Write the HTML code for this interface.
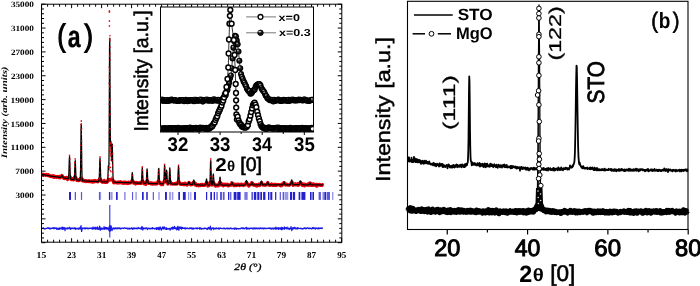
<!DOCTYPE html>
<html><head><meta charset="utf-8"><title>XRD figure</title>
<style>html,body{margin:0;padding:0;background:#fff;} svg{display:block;}</style>
</head><body>
<svg width="700" height="286" viewBox="0 0 700 286" text-rendering="geometricPrecision">
<polyline points="41.80,174.36 42.05,174.56 42.30,174.32 42.55,174.06 42.80,174.33 43.05,174.11 43.30,174.69 43.55,175.38 43.80,174.51 44.05,174.50 44.30,175.10 44.55,175.09 44.80,175.01 45.05,174.54 45.30,175.05 45.55,175.46 45.80,174.49 46.05,174.98 46.30,174.31 46.55,174.67 46.80,174.44 47.05,175.29 47.30,174.83 47.55,175.65 47.80,175.64 48.05,175.52 48.30,174.40 48.55,175.44 48.80,175.74 49.05,175.87 49.30,175.09 49.55,175.67 49.80,175.47 50.05,175.60 50.30,176.57 50.55,175.67 50.80,176.09 51.05,176.58 51.30,175.88 51.55,176.15 51.80,176.30 52.05,176.31 52.30,175.69 52.55,176.38 52.80,177.05 53.05,175.63 53.30,176.87 53.55,176.53 53.80,176.19 54.05,177.54 54.30,176.95 54.55,176.01 54.80,176.68 55.05,176.96 55.30,176.61 55.55,177.08 55.80,176.74 56.05,177.14 56.30,177.56 56.55,176.54 56.80,177.01 57.05,176.71 57.30,177.04 57.55,176.41 57.80,176.75 58.05,176.98 58.30,177.56 58.55,177.71 58.80,176.51 59.05,176.81 59.30,177.56 59.55,176.28 59.80,177.07 60.05,177.28 60.30,177.96 60.55,177.64 60.80,176.99 61.05,176.69 61.30,176.32 61.55,176.72 61.80,175.37 62.05,175.40 62.30,175.98 62.55,176.26 62.80,176.78 63.05,176.78 63.30,177.63 63.55,177.58 63.80,178.48 64.05,178.29 64.30,178.00 64.55,178.39 64.80,177.93 65.05,178.68 65.30,178.19 65.55,178.53 65.80,177.64 66.05,178.50 66.30,177.53 66.55,177.40 66.80,178.31 67.05,178.06 67.30,178.64 67.55,179.72 67.80,178.23 68.05,178.35 68.30,178.59 68.55,177.68 68.80,176.98 69.05,177.08 69.30,176.91 69.55,176.30 69.80,176.76 70.05,176.94 70.30,176.78 70.55,177.89 70.80,179.20 71.05,178.79 71.30,179.76 71.55,179.42 71.80,179.41 72.05,179.11 72.30,179.38 72.55,178.47 72.80,178.93 73.05,179.71 73.30,178.50 73.55,180.01 73.80,178.71 74.05,179.71 74.30,177.69 74.55,177.17 74.80,178.15 75.05,177.44 75.30,177.24 75.55,177.71 75.80,177.80 76.05,177.69 76.30,179.40 76.55,179.41 76.80,180.53 77.05,179.75 77.30,180.03 77.55,179.69 77.80,179.80 78.05,179.51 78.30,180.80 78.55,180.13 78.80,180.72 79.05,180.27 79.30,179.95 79.55,180.17 79.80,180.06 80.05,180.13 80.30,178.32 80.55,178.07 80.80,178.12 81.05,178.47 81.30,178.52 81.55,178.79 81.80,178.53 82.05,178.75 82.30,180.95 82.55,179.94 82.80,180.62 83.05,180.44 83.30,179.91 83.55,181.19 83.80,180.84 84.05,180.92 84.30,180.54 84.55,181.17 84.80,180.71 85.05,180.93 85.30,180.46 85.55,180.42 85.80,181.71 86.05,180.80 86.30,181.21 86.55,181.06 86.80,180.86 87.05,180.84 87.30,181.42 87.55,180.97 87.80,181.05 88.05,181.15 88.30,181.74 88.55,181.51 88.80,181.37 89.05,180.91 89.30,180.51 89.55,181.69 89.80,181.71 90.05,181.17 90.30,181.52 90.55,181.65 90.80,181.69 91.05,181.74 91.30,181.07 91.55,182.06 91.80,180.69 92.05,181.76 92.30,181.59 92.55,181.79 92.80,182.30 93.05,182.12 93.30,180.81 93.55,180.55 93.80,181.82 94.05,180.91 94.30,181.43 94.55,181.87 94.80,180.64 95.05,180.41 95.30,181.61 95.55,181.51 95.80,181.38 96.05,181.53 96.30,181.10 96.55,180.78 96.80,181.47 97.05,181.08 97.30,180.75 97.55,181.84 97.80,181.57 98.05,181.81 98.30,181.12 98.55,181.27 98.80,180.88 99.05,180.06 99.30,179.02 99.55,179.28 99.80,179.76 100.05,179.44 100.30,179.41 100.55,180.03 100.80,179.43 101.05,180.94 101.30,181.62 101.55,181.02 101.80,181.53 102.05,182.14 102.30,181.74 102.55,181.83 102.80,181.65 103.05,182.39 103.30,181.81 103.55,180.73 103.80,181.49 104.05,180.86 104.30,180.23 104.55,181.60 104.80,182.54 105.05,181.90 105.30,181.30 105.55,181.43 105.80,182.47 106.05,181.99 106.30,181.95 106.55,181.91 106.80,181.96 107.05,182.35 107.30,182.22 107.55,181.77 107.80,179.97 108.05,179.57 108.30,179.04 108.55,180.65 108.80,180.03 109.05,180.37 109.30,179.56 109.55,180.28 109.80,180.33 110.05,180.33 110.30,179.86 110.55,179.52 110.80,179.83 111.05,179.23 111.30,179.39 111.55,179.94 111.80,179.62 112.05,179.88 112.30,179.91 112.55,180.53 112.80,180.35 113.05,179.95 113.30,181.28 113.55,182.82 113.80,181.90 114.05,182.01 114.30,181.30 114.55,183.00 114.80,182.71 115.05,182.70 115.30,182.58 115.55,182.31 115.80,182.37 116.05,182.15 116.30,182.18 116.55,182.32 116.80,183.06 117.05,182.59 117.30,182.29 117.55,182.04 117.80,182.02 118.05,183.15 118.30,182.61 118.55,182.40 118.80,182.20 119.05,181.83 119.30,182.36 119.55,182.84 119.80,182.21 120.05,182.30 120.30,182.31 120.55,182.49 120.80,181.65 121.05,182.33 121.30,182.03 121.55,182.91 121.80,182.09 122.05,182.78 122.30,183.26 122.55,182.35 122.80,182.21 123.05,182.62 123.30,182.53 123.55,182.04 123.80,182.78 124.05,183.57 124.30,182.44 124.55,182.48 124.80,182.06 125.05,182.75 125.30,181.98 125.55,182.06 125.80,183.26 126.05,182.18 126.30,183.18 126.55,183.41 126.80,182.79 127.05,182.94 127.30,183.65 127.55,182.59 127.80,182.40 128.05,182.03 128.30,182.73 128.55,183.46 128.80,183.21 129.05,182.27 129.30,182.32 129.55,182.50 129.80,182.91 130.05,182.67 130.30,182.89 130.55,182.94 130.80,182.64 131.05,182.71 131.30,182.48 131.55,181.04 131.80,180.72 132.05,180.62 132.30,180.96 132.55,181.46 132.80,180.93 133.05,181.33 133.30,181.47 133.55,182.12 133.80,183.33 134.05,183.27 134.30,182.85 134.55,182.08 134.80,182.76 135.05,182.62 135.30,183.28 135.55,184.10 135.80,183.09 136.05,182.60 136.30,182.42 136.55,182.98 136.80,182.93 137.05,182.45 137.30,183.10 137.55,182.47 137.80,183.61 138.05,183.60 138.30,183.62 138.55,182.85 138.80,183.35 139.05,183.04 139.30,182.92 139.55,182.95 139.80,182.48 140.05,182.42 140.30,183.54 140.55,183.06 140.80,183.26 141.05,183.56 141.30,181.64 141.55,181.60 141.80,181.36 142.05,181.23 142.30,180.91 142.55,181.00 142.80,181.21 143.05,181.17 143.30,182.11 143.55,183.55 143.80,183.49 144.05,182.33 144.30,183.97 144.55,183.60 144.80,183.98 145.05,183.13 145.30,183.18 145.55,182.77 145.80,184.54 146.05,182.80 146.30,182.17 146.55,181.21 146.80,181.05 147.05,181.67 147.30,180.92 147.55,181.48 147.80,180.83 148.05,183.09 148.30,183.44 148.55,182.90 148.80,183.20 149.05,183.24 149.30,183.45 149.55,183.22 149.80,183.08 150.05,183.35 150.30,182.99 150.55,182.87 150.80,183.49 151.05,183.97 151.30,182.76 151.55,183.54 151.80,183.22 152.05,183.06 152.30,183.98 152.55,183.30 152.80,184.31 153.05,183.18 153.30,183.77 153.55,183.47 153.80,183.21 154.05,183.88 154.30,183.52 154.55,183.90 154.80,183.58 155.05,183.07 155.30,183.57 155.55,183.65 155.80,184.11 156.05,183.18 156.30,183.62 156.55,182.79 156.80,183.98 157.05,183.11 157.30,182.73 157.55,183.39 157.80,182.97 158.05,181.37 158.30,181.71 158.55,181.62 158.80,181.23 159.05,181.53 159.30,181.46 159.55,181.70 159.80,183.65 160.05,183.30 160.30,183.94 160.55,183.25 160.80,183.14 161.05,182.83 161.30,184.68 161.55,183.60 161.80,183.89 162.05,183.76 162.30,183.86 162.55,183.81 162.80,184.74 163.05,183.26 163.30,182.92 163.55,182.70 163.80,181.52 164.05,181.68 164.30,181.95 164.55,180.95 164.80,181.38 165.05,181.33 165.30,181.31 165.55,181.39 165.80,182.03 166.05,181.75 166.30,181.39 166.55,181.71 166.80,181.80 167.05,181.46 167.30,181.73 167.55,183.76 167.80,184.16 168.05,183.68 168.30,183.46 168.55,182.85 168.80,183.02 169.05,181.99 169.30,181.48 169.55,181.68 169.80,182.09 170.05,181.60 170.30,181.81 170.55,181.84 170.80,184.20 171.05,183.78 171.30,183.58 171.55,183.95 171.80,183.69 172.05,183.62 172.30,183.97 172.55,183.49 172.80,184.32 173.05,183.97 173.30,184.15 173.55,183.94 173.80,183.67 174.05,183.57 174.30,183.93 174.55,183.78 174.80,184.17 175.05,184.06 175.30,183.39 175.55,184.11 175.80,183.41 176.05,183.78 176.30,183.94 176.55,183.06 176.80,184.15 177.05,184.16 177.30,183.83 177.55,182.81 177.80,181.97 178.05,181.82 178.30,181.76 178.55,181.69 178.80,181.93 179.05,182.31 179.30,181.79 179.55,183.65 179.80,184.01 180.05,183.95 180.30,184.46 180.55,183.36 180.80,184.42 181.05,184.32 181.30,184.35 181.55,184.40 181.80,183.89 182.05,184.09 182.30,184.55 182.55,184.45 182.80,184.34 183.05,183.49 183.30,184.52 183.55,184.84 183.80,184.77 184.05,184.38 184.30,183.49 184.55,184.75 184.80,184.21 185.05,183.02 185.30,184.48 185.55,183.55 185.80,183.66 186.05,183.99 186.30,184.95 186.55,184.14 186.80,184.46 187.05,185.21 187.30,185.13 187.55,184.26 187.80,184.10 188.05,183.33 188.30,183.12 188.55,182.99 188.80,182.38 189.05,182.61 189.30,182.90 189.55,182.71 189.80,183.71 190.05,184.51 190.30,184.63 190.55,184.95 190.80,184.64 191.05,184.31 191.30,184.66 191.55,183.99 191.80,183.69 192.05,184.80 192.30,184.46 192.55,184.50 192.80,183.09 193.05,182.90 193.30,182.20 193.55,182.67 193.80,181.88 194.05,182.65 194.30,182.39 194.55,183.36 194.80,183.76 195.05,184.49 195.30,185.04 195.55,183.34 195.80,184.68 196.05,185.03 196.30,185.12 196.55,185.64 196.80,185.38 197.05,184.98 197.30,184.99 197.55,185.25 197.80,184.60 198.05,184.86 198.30,185.35 198.55,185.89 198.80,184.85 199.05,184.92 199.30,185.06 199.55,185.64 199.80,184.97 200.05,185.73 200.30,184.52 200.55,184.91 200.80,184.90 201.05,185.39 201.30,185.52 201.55,184.25 201.80,184.54 202.05,185.17 202.30,184.67 202.55,184.24 202.80,185.52 203.05,185.25 203.30,185.25 203.55,184.76 203.80,185.51 204.05,184.88 204.30,185.55 204.55,184.54 204.80,184.57 205.05,185.09 205.30,184.58 205.55,184.97 205.80,183.79 206.05,183.11 206.30,182.64 206.55,182.51 206.80,183.08 207.05,182.48 207.30,183.94 207.55,185.41 207.80,186.09 208.05,186.00 208.30,185.03 208.55,185.11 208.80,185.77 209.05,184.94 209.30,184.50 209.55,184.94 209.80,184.29 210.05,182.45 210.30,182.48 210.55,183.00 210.80,182.78 211.05,182.34 211.30,183.35 211.55,183.77 211.80,185.12 212.05,184.73 212.30,184.77 212.55,182.66 212.80,183.10 213.05,182.58 213.30,183.14 213.55,182.57 213.80,182.69 214.05,183.37 214.30,184.41 214.55,185.27 214.80,184.19 215.05,184.48 215.30,184.81 215.55,186.27 215.80,185.48 216.05,184.94 216.30,185.36 216.55,186.03 216.80,184.88 217.05,184.82 217.30,185.61 217.55,185.25 217.80,185.34 218.05,184.75 218.30,185.96 218.55,185.84 218.80,185.19 219.05,184.87 219.30,182.43 219.55,182.98 219.80,182.75 220.05,182.60 220.30,182.39 220.55,182.45 220.80,183.07 221.05,184.93 221.30,184.59 221.55,184.83 221.80,184.70 222.05,184.83 222.30,183.85 222.55,185.61 222.80,185.13 223.05,185.56 223.30,185.99 223.55,185.01 223.80,184.10 224.05,184.55 224.30,184.40 224.55,184.75 224.80,185.04 225.05,184.00 225.30,185.17 225.55,184.24 225.80,185.15 226.05,184.95 226.30,184.84 226.55,184.96 226.80,184.73 227.05,184.69 227.30,184.16 227.55,184.99 227.80,185.92 228.05,185.99 228.30,185.66 228.55,185.35 228.80,184.66 229.05,185.72 229.30,184.97 229.55,184.97 229.80,184.85 230.05,185.04 230.30,184.77 230.55,184.92 230.80,184.32 231.05,184.40 231.30,185.20 231.55,183.30 231.80,182.57 232.05,182.98 232.30,183.27 232.55,183.08 232.80,184.20 233.05,185.18 233.30,185.05 233.55,185.04 233.80,185.77 234.05,184.66 234.30,185.04 234.55,184.74 234.80,185.75 235.05,184.02 235.30,184.66 235.55,184.74 235.80,185.33 236.05,185.30 236.30,185.70 236.55,184.21 236.80,185.38 237.05,184.85 237.30,184.67 237.55,185.27 237.80,184.54 238.05,183.96 238.30,184.81 238.55,184.25 238.80,184.68 239.05,185.19 239.30,185.16 239.55,185.79 239.80,184.90 240.05,184.23 240.30,184.62 240.55,184.54 240.80,184.39 241.05,185.22 241.30,184.68 241.55,184.01 241.80,185.35 242.05,184.94 242.30,185.18 242.55,185.05 242.80,185.32 243.05,185.02 243.30,185.62 243.55,185.21 243.80,185.20 244.05,185.20 244.30,184.27 244.55,184.92 244.80,184.86 245.05,185.04 245.30,184.07 245.55,185.08 245.80,183.36 246.05,182.22 246.30,182.77 246.55,182.67 246.80,182.95 247.05,182.51 247.30,183.79 247.55,184.18 247.80,185.12 248.05,184.60 248.30,184.97 248.55,185.49 248.80,186.29 249.05,184.50 249.30,184.77 249.55,184.58 249.80,185.39 250.05,184.42 250.30,184.75 250.55,184.94 250.80,184.37 251.05,184.11 251.30,183.82 251.55,182.57 251.80,182.43 252.05,182.60 252.30,182.98 252.55,183.53 252.80,183.40 253.05,184.48 253.30,185.29 253.55,185.24 253.80,184.93 254.05,184.53 254.30,185.29 254.55,184.68 254.80,184.39 255.05,184.57 255.30,185.69 255.55,185.08 255.80,185.54 256.05,184.72 256.30,185.43 256.55,184.66 256.80,184.88 257.05,186.20 257.30,185.34 257.55,184.70 257.80,184.91 258.05,185.11 258.30,185.56 258.55,184.70 258.80,184.08 259.05,184.81 259.30,184.95 259.55,184.99 259.80,185.58 260.05,185.00 260.30,185.00 260.55,183.46 260.80,183.46 261.05,182.90 261.30,182.47 261.55,182.97 261.80,182.57 262.05,184.13 262.30,183.68 262.55,184.59 262.80,185.08 263.05,185.28 263.30,184.70 263.55,185.07 263.80,184.78 264.05,184.98 264.30,184.85 264.55,184.34 264.80,184.90 265.05,185.35 265.30,184.42 265.55,184.79 265.80,185.24 266.05,184.36 266.30,184.94 266.55,184.17 266.80,184.89 267.05,184.81 267.30,183.81 267.55,182.82 267.80,182.43 268.05,182.97 268.30,183.53 268.55,184.98 268.80,183.97 269.05,185.34 269.30,184.84 269.55,185.58 269.80,184.97 270.05,184.54 270.30,185.02 270.55,185.24 270.80,184.89 271.05,185.12 271.30,184.61 271.55,183.80 271.80,185.32 272.05,185.22 272.30,184.94 272.55,184.90 272.80,185.38 273.05,184.63 273.30,184.51 273.55,184.76 273.80,185.45 274.05,184.16 274.30,185.45 274.55,184.53 274.80,184.30 275.05,185.48 275.30,184.80 275.55,184.20 275.80,184.67 276.05,185.31 276.30,185.44 276.55,184.63 276.80,185.04 277.05,185.19 277.30,184.51 277.55,185.01 277.80,184.82 278.05,184.56 278.30,184.58 278.55,184.86 278.80,184.84 279.05,184.54 279.30,184.61 279.55,185.38 279.80,184.93 280.05,185.26 280.30,185.42 280.55,185.11 280.80,185.95 281.05,184.40 281.30,185.22 281.55,184.65 281.80,185.74 282.05,185.66 282.30,183.82 282.55,184.28 282.80,184.98 283.05,184.74 283.30,184.12 283.55,182.90 283.80,182.44 284.05,182.56 284.30,182.55 284.55,183.78 284.80,182.88 285.05,184.80 285.30,184.18 285.55,185.24 285.80,184.67 286.05,184.34 286.30,184.97 286.55,184.33 286.80,184.32 287.05,183.99 287.30,184.76 287.55,185.02 287.80,185.28 288.05,184.70 288.30,185.29 288.55,184.78 288.80,184.72 289.05,185.05 289.30,185.29 289.55,184.59 289.80,184.64 290.05,184.66 290.30,184.70 290.55,183.96 290.80,184.29 291.05,182.78 291.30,182.60 291.55,182.43 291.80,182.90 292.05,182.76 292.30,182.13 292.55,184.59 292.80,184.49 293.05,185.50 293.30,185.19 293.55,184.40 293.80,184.55 294.05,184.95 294.30,184.76 294.55,184.76 294.80,184.59 295.05,183.83 295.30,184.62 295.55,183.62 295.80,184.91 296.05,184.36 296.30,184.36 296.55,184.61 296.80,184.86 297.05,184.00 297.30,183.84 297.55,184.18 297.80,183.69 298.05,184.23 298.30,185.51 298.55,184.18 298.80,185.01 299.05,183.92 299.30,184.52 299.55,183.67 299.80,182.87 300.05,183.04 300.30,181.95 300.55,182.89 300.80,182.43 301.05,182.64 301.30,184.28 301.55,184.33 301.80,185.07 302.05,184.69 302.30,185.60 302.55,183.74 302.80,184.59 303.05,185.18 303.30,184.57 303.55,184.35 303.80,184.62 304.05,184.06 304.30,184.82 304.55,185.98 304.80,185.34 305.05,184.21 305.30,184.33 305.55,184.57 305.80,185.28 306.05,184.37 306.30,184.44 306.55,185.23 306.80,185.22 307.05,184.61 307.30,184.24 307.55,184.02 307.80,184.45 308.05,183.69 308.30,185.18 308.55,184.47 308.80,184.95 309.05,185.45 309.30,184.72 309.55,183.03 309.80,183.57 310.05,183.59 310.30,182.93 310.55,183.36 310.80,184.28 311.05,183.84 311.30,185.52 311.55,183.63 311.80,184.30 312.05,184.72 312.30,184.75 312.55,184.95 312.80,185.00 313.05,184.76 313.30,185.44 313.55,183.81 313.80,184.88 314.05,184.53 314.30,184.95 314.55,185.00 314.80,184.44 315.05,184.58 315.30,185.30 315.55,185.08 315.80,184.57 316.05,185.93 316.30,186.07 316.55,184.18 316.80,185.07 317.05,186.18 317.30,185.32 317.55,185.04 317.80,184.83 318.05,184.66 318.30,184.83 318.55,184.67 318.80,185.32 319.05,184.75 319.30,184.73 319.55,184.35 319.80,184.93 320.05,184.51 320.30,184.87 320.55,185.49 320.80,185.15 321.05,185.23 321.30,185.16 321.55,185.01 321.80,184.92 322.05,184.83 322.30,185.37 322.55,184.45 322.80,185.67" fill="none" stroke="#e8000b" stroke-width="3.0" stroke-linejoin="round" />
<polyline points="41.80,174.36 42.05,174.41 42.30,174.46 42.55,174.51 42.80,174.56 43.05,174.61 43.30,174.66 43.55,174.71 43.80,174.76 44.05,174.81 44.30,174.86 44.55,174.91 44.80,174.96 45.05,175.01 45.30,175.06 45.55,175.11 45.80,175.16 46.05,175.21 46.30,175.26 46.55,175.31 46.80,175.36 47.05,175.41 47.30,175.46 47.55,175.51 47.80,175.56 48.05,175.61 48.30,175.66 48.55,175.71 48.80,175.76 49.05,175.81 49.30,175.86 49.55,175.91 49.80,175.96 50.05,176.01 50.30,176.04 50.55,176.07 50.80,176.11 51.05,176.14 51.30,176.17 51.55,176.21 51.80,176.24 52.05,176.27 52.30,176.31 52.55,176.34 52.80,176.37 53.05,176.41 53.30,176.44 53.55,176.47 53.80,176.51 54.05,176.54 54.30,176.57 54.55,176.61 54.80,176.64 55.05,176.67 55.30,176.71 55.55,176.74 55.80,176.77 56.05,176.81 56.30,176.84 56.55,176.87 56.80,176.91 57.05,176.94 57.30,176.97 57.55,177.01 57.80,177.04 58.05,177.07 58.30,177.11 58.55,177.14 58.80,177.17 59.05,177.21 59.30,177.24 59.55,177.27 59.80,177.30 60.05,177.33 60.30,177.34 60.55,177.29 60.80,177.16 61.05,176.87 61.30,176.44 61.55,175.95 61.80,175.59 62.05,175.51 62.30,175.80 62.55,176.32 62.80,176.88 63.05,177.33 63.30,177.63 63.55,177.80 63.80,177.90 64.05,177.96 64.30,178.01 64.55,178.06 64.80,178.10 65.05,178.15 65.30,178.19 65.55,178.24 65.80,178.28 66.05,178.33 66.30,178.37 66.55,178.42 66.80,178.46 67.05,178.51 67.30,178.55 67.55,178.60 67.80,178.64 68.05,178.66 68.30,178.48 68.55,177.44 68.80,173.95 69.05,166.89 69.30,159.01 69.55,156.58 69.80,161.98 70.05,170.29 70.30,176.04 70.55,178.42 70.80,179.07 71.05,179.22 71.30,179.27 71.55,179.32 71.80,179.36 72.05,179.41 72.30,179.44 72.55,179.47 72.80,179.50 73.05,179.53 73.30,179.56 73.55,179.59 73.80,179.58 74.05,179.33 74.30,178.11 74.55,174.43 74.80,167.74 75.05,161.33 75.30,160.62 75.55,166.34 75.80,173.44 76.05,177.83 76.30,179.48 76.55,179.89 76.80,179.98 77.05,180.02 77.30,180.05 77.55,180.08 77.80,180.11 78.05,180.14 78.30,180.18 78.55,180.21 78.80,180.24 79.05,180.27 79.30,180.30 79.55,180.33 79.80,180.34 80.05,180.13 80.30,178.28 80.55,170.02 80.80,150.02 81.05,127.12 81.30,124.35 81.55,145.07 81.80,167.14 82.05,177.57 82.30,180.25 82.55,180.66 82.80,180.73 83.05,180.76 83.30,180.79 83.55,180.82 83.80,180.85 84.05,180.88 84.30,180.91 84.55,180.94 84.80,180.98 85.05,181.00 85.30,181.01 85.55,181.03 85.80,181.04 86.05,181.05 86.30,181.06 86.55,181.07 86.80,181.08 87.05,181.10 87.30,181.11 87.55,181.12 87.80,181.13 88.05,181.14 88.30,181.15 88.55,181.17 88.80,181.18 89.05,181.19 89.30,181.20 89.55,181.21 89.80,181.22 90.05,181.24 90.30,181.25 90.55,181.26 90.80,181.27 91.05,181.28 91.30,181.29 91.55,181.31 91.80,181.32 92.05,181.33 92.30,181.34 92.55,181.35 92.80,181.36 93.05,181.38 93.30,181.39 93.55,181.40 93.80,181.41 94.05,181.42 94.30,181.43 94.55,181.45 94.80,181.46 95.05,181.47 95.30,181.48 95.55,181.49 95.80,181.50 96.05,181.52 96.30,181.53 96.55,181.54 96.80,181.55 97.05,181.56 97.30,181.57 97.55,181.59 97.80,181.60 98.05,181.61 98.30,181.62 98.55,181.60 98.80,181.38 99.05,180.24 99.30,176.54 99.55,169.09 99.80,160.78 100.05,158.19 100.30,163.82 100.55,172.51 100.80,178.52 101.05,180.98 101.30,181.63 101.55,181.74 101.80,181.76 102.05,181.77 102.30,181.78 102.55,181.79 102.80,181.80 103.05,181.81 103.30,181.82 103.55,181.83 103.80,181.84 104.05,181.84 104.30,181.85 104.55,181.86 104.80,181.87 105.05,181.88 105.30,181.89 105.55,181.90 105.80,181.91 106.05,181.92 106.30,181.92 106.55,181.93 106.80,181.94 107.05,181.95 107.30,181.94 107.55,181.66 107.80,179.68 108.05,173.38 108.30,165.87 108.55,166.33 108.80,169.56 109.05,153.83 109.30,104.26 109.55,45.92 109.80,38.03 110.05,87.36 110.30,134.44 110.55,146.24 110.80,141.11 111.05,143.08 111.30,154.06 111.55,160.69 111.80,155.12 112.05,144.99 112.30,144.12 112.55,155.45 112.80,169.45 113.05,178.07 113.30,181.28 113.55,182.05 113.80,182.18 114.05,182.20 114.30,182.21 114.55,182.22 114.80,182.23 115.05,182.24 115.30,182.25 115.55,182.26 115.80,182.26 116.05,182.27 116.30,182.28 116.55,182.29 116.80,182.30 117.05,182.31 117.30,182.32 117.55,182.33 117.80,182.34 118.05,182.34 118.30,182.35 118.55,182.36 118.80,182.37 119.05,182.38 119.30,182.39 119.55,182.40 119.80,182.41 120.05,182.42 120.30,182.42 120.55,182.43 120.80,182.44 121.05,182.45 121.30,182.46 121.55,182.47 121.80,182.48 122.05,182.49 122.30,182.50 122.55,182.51 122.80,182.51 123.05,182.52 123.30,182.53 123.55,182.54 123.80,182.55 124.05,182.56 124.30,182.57 124.55,182.58 124.80,182.59 125.05,182.59 125.30,182.60 125.55,182.61 125.80,182.62 126.05,182.63 126.30,182.64 126.55,182.65 126.80,182.66 127.05,182.67 127.30,182.67 127.55,182.68 127.80,182.69 128.05,182.70 128.30,182.71 128.55,182.72 128.80,182.73 129.05,182.74 129.30,182.75 129.55,182.76 129.80,182.77 130.05,182.77 130.30,182.78 130.55,182.79 130.80,182.79 131.05,182.73 131.30,182.37 131.55,181.08 131.80,178.19 132.05,174.49 132.30,172.70 132.55,174.51 132.80,178.22 133.05,181.13 133.30,182.45 133.55,182.82 133.80,182.90 134.05,182.92 134.30,182.93 134.55,182.94 134.80,182.95 135.05,182.96 135.30,182.97 135.55,182.97 135.80,182.98 136.05,182.99 136.30,183.00 136.55,183.01 136.80,183.02 137.05,183.03 137.30,183.04 137.55,183.05 137.80,183.06 138.05,183.07 138.30,183.07 138.55,183.08 138.80,183.09 139.05,183.10 139.30,183.11 139.55,183.12 139.80,183.13 140.05,183.14 140.30,183.15 140.55,183.16 140.80,183.15 141.05,183.06 141.30,182.50 141.55,180.52 141.80,176.10 142.05,170.44 142.30,167.70 142.55,170.46 142.80,176.13 143.05,180.57 143.30,182.57 143.55,183.15 143.80,183.26 144.05,183.28 144.30,183.29 144.55,183.30 144.80,183.31 145.05,183.32 145.30,183.33 145.55,183.33 145.80,183.27 146.05,182.89 146.30,181.38 146.55,177.66 146.80,172.29 147.05,168.81 147.30,170.43 147.55,175.61 147.80,180.24 148.05,182.55 148.30,183.27 148.55,183.43 148.80,183.45 149.05,183.47 149.30,183.47 149.55,183.48 149.80,183.49 150.05,183.50 150.30,183.51 150.55,183.51 150.80,183.52 151.05,183.52 151.30,183.53 151.55,183.53 151.80,183.54 152.05,183.55 152.30,183.55 152.55,183.56 152.80,183.56 153.05,183.57 153.30,183.57 153.55,183.58 153.80,183.59 154.05,183.59 154.30,183.60 154.55,183.60 154.80,183.61 155.05,183.61 155.30,183.62 155.55,183.62 155.80,183.63 156.05,183.64 156.30,183.64 156.55,183.65 156.80,183.65 157.05,183.66 157.30,183.63 157.55,183.42 157.80,182.42 158.05,179.46 158.30,174.11 158.55,168.97 158.80,168.39 159.05,172.93 159.30,178.58 159.55,182.06 159.80,183.36 160.05,183.67 160.30,183.73 160.55,183.74 160.80,183.74 161.05,183.75 161.30,183.75 161.55,183.76 161.80,183.77 162.05,183.77 162.30,183.78 162.55,183.78 162.80,183.79 163.05,183.78 163.30,183.70 163.55,183.20 163.80,181.26 164.05,176.50 164.30,169.61 164.55,165.15 164.80,167.22 165.05,173.83 165.30,179.70 165.55,182.29 165.80,181.77 166.05,178.44 166.30,173.39 166.55,170.11 166.80,171.63 167.05,176.52 167.30,180.89 167.55,183.07 167.80,183.75 168.05,183.89 168.30,183.90 168.55,183.80 168.80,183.22 169.05,181.16 169.30,176.59 169.55,170.74 169.80,167.90 170.05,170.75 170.30,176.61 170.55,181.20 170.80,183.26 171.05,183.85 171.30,183.97 171.55,183.98 171.80,183.99 172.05,184.00 172.30,184.00 172.55,184.01 172.80,184.01 173.05,184.02 173.30,184.02 173.55,184.03 173.80,184.04 174.05,184.04 174.30,184.05 174.55,184.05 174.80,184.06 175.05,184.06 175.30,184.07 175.55,184.07 175.80,184.08 176.05,184.09 176.30,184.09 176.55,184.10 176.80,184.10 177.05,184.08 177.30,183.91 177.55,183.03 177.80,180.16 178.05,174.39 178.30,167.95 178.55,165.94 178.80,170.30 179.05,177.03 179.30,181.68 179.55,183.58 179.80,184.08 180.05,184.17 180.30,184.18 180.55,184.19 180.80,184.19 181.05,184.20 181.30,184.20 181.55,184.21 181.80,184.22 182.05,184.22 182.30,184.23 182.55,184.23 182.80,184.24 183.05,184.24 183.30,184.25 183.55,184.25 183.80,184.26 184.05,184.27 184.30,184.27 184.55,184.28 184.80,184.28 185.05,184.29 185.30,184.29 185.55,184.30 185.80,184.31 186.05,184.31 186.30,184.32 186.55,184.32 186.80,184.33 187.05,184.33 187.30,184.33 187.55,184.31 187.80,184.22 188.05,183.97 188.30,183.47 188.55,182.78 188.80,182.18 189.05,182.01 189.30,182.40 189.55,183.09 189.80,183.73 190.05,184.14 190.30,184.34 190.55,184.41 190.80,184.44 191.05,184.46 191.30,184.48 191.55,184.49 191.80,184.51 192.05,184.51 192.30,184.49 192.55,184.35 192.80,183.94 193.05,183.08 193.30,181.79 193.55,180.53 193.80,180.00 194.05,180.56 194.30,181.85 194.55,183.17 194.80,184.06 195.05,184.50 195.30,184.67 195.55,184.72 195.80,184.75 196.05,184.76 196.30,184.78 196.55,184.79 196.80,184.81 197.05,184.82 197.30,184.84 197.55,184.85 197.80,184.87 198.05,184.88 198.30,184.90 198.55,184.91 198.80,184.93 199.05,184.94 199.30,184.96 199.55,184.97 199.80,184.99 200.05,185.00 200.30,185.00 200.55,185.00 200.80,185.00 201.05,185.00 201.30,185.00 201.55,185.00 201.80,185.00 202.05,185.00 202.30,185.00 202.55,185.00 202.80,185.00 203.05,185.00 203.30,185.00 203.55,185.00 203.80,185.00 204.05,185.00 204.30,185.00 204.55,185.00 204.80,185.00 205.05,184.99 205.30,184.93 205.55,184.63 205.80,183.66 206.05,181.71 206.30,179.53 206.55,178.85 206.80,180.32 207.05,182.59 207.30,184.16 207.55,184.80 207.80,184.97 208.05,185.00 208.30,185.00 208.55,185.00 208.80,185.00 209.05,185.00 209.30,184.99 209.55,184.89 209.80,184.07 210.05,180.47 210.30,171.78 210.55,161.83 210.80,160.62 211.05,169.59 211.30,179.16 211.55,183.67 211.80,184.81 212.05,184.90 212.30,184.52 212.55,183.10 212.80,179.96 213.05,175.95 213.30,174.00 213.55,175.95 213.80,179.96 214.05,183.10 214.30,184.52 214.55,184.92 214.80,184.99 215.05,185.00 215.30,185.00 215.55,185.00 215.80,185.00 216.05,185.00 216.30,185.00 216.55,185.00 216.80,185.00 217.05,185.00 217.30,185.00 217.55,185.00 217.80,185.00 218.05,185.00 218.30,185.00 218.55,184.99 218.80,184.91 219.05,184.52 219.30,183.27 219.55,180.75 219.80,177.94 220.05,177.06 220.30,178.96 220.55,181.89 220.80,183.92 221.05,184.74 221.30,184.96 221.55,185.00 221.80,185.00 222.05,185.00 222.30,185.00 222.55,185.00 222.80,185.00 223.05,185.00 223.30,185.00 223.55,185.00 223.80,185.00 224.05,185.00 224.30,185.00 224.55,185.00 224.80,185.00 225.05,185.00 225.30,185.00 225.55,185.00 225.80,185.00 226.05,185.00 226.30,185.00 226.55,185.00 226.80,185.00 227.05,185.00 227.30,185.00 227.55,185.00 227.80,185.00 228.05,185.00 228.30,185.00 228.55,185.00 228.80,185.00 229.05,185.00 229.30,185.00 229.55,185.00 229.80,185.00 230.05,185.00 230.30,184.99 230.55,184.96 230.80,184.86 231.05,184.59 231.30,184.06 231.55,183.33 231.80,182.69 232.05,182.51 232.30,182.91 232.55,183.63 232.80,184.30 233.05,184.72 233.30,184.91 233.55,184.98 233.80,185.00 234.05,185.00 234.30,185.00 234.55,185.00 234.80,185.00 235.05,185.00 235.30,185.00 235.55,185.00 235.80,185.00 236.05,185.00 236.30,185.00 236.55,185.00 236.80,185.00 237.05,185.00 237.30,185.00 237.55,185.00 237.80,185.00 238.05,185.00 238.30,185.00 238.55,185.00 238.80,185.00 239.05,185.00 239.30,185.00 239.55,185.00 239.80,185.00 240.05,185.00 240.30,185.00 240.55,185.00 240.80,185.00 241.05,185.00 241.30,185.00 241.55,185.00 241.80,185.00 242.05,185.00 242.30,185.00 242.55,185.00 242.80,185.00 243.05,185.00 243.30,185.00 243.55,185.00 243.80,185.00 244.05,185.00 244.30,185.00 244.55,185.00 244.80,184.99 245.05,184.93 245.30,184.75 245.55,184.26 245.80,183.31 246.05,182.00 246.30,180.85 246.55,180.52 246.80,181.24 247.05,182.54 247.30,183.75 247.55,184.50 247.80,184.85 248.05,184.96 248.30,184.99 248.55,185.00 248.80,185.00 249.05,185.00 249.30,185.00 249.55,185.00 249.80,185.00 250.05,185.00 250.30,184.99 250.55,184.96 250.80,184.86 251.05,184.58 251.30,184.06 251.55,183.33 251.80,182.69 252.05,182.51 252.30,182.91 252.55,183.63 252.80,184.29 253.05,184.71 253.30,184.90 253.55,184.96 253.80,184.97 254.05,184.98 254.30,184.97 254.55,184.97 254.80,184.97 255.05,184.97 255.30,184.97 255.55,184.97 255.80,184.97 256.05,184.96 256.30,184.96 256.55,184.96 256.80,184.96 257.05,184.96 257.30,184.96 257.55,184.95 257.80,184.95 258.05,184.95 258.30,184.95 258.55,184.95 258.80,184.95 259.05,184.95 259.30,184.94 259.55,184.94 259.80,184.92 260.05,184.84 260.30,184.59 260.55,184.01 260.80,183.02 261.05,181.86 261.30,181.08 261.55,181.17 261.80,182.07 262.05,183.24 262.30,184.15 262.55,184.65 262.80,184.85 263.05,184.90 263.30,184.92 263.55,184.92 263.80,184.92 264.05,184.92 264.30,184.91 264.55,184.91 264.80,184.91 265.05,184.91 265.30,184.91 265.55,184.91 265.80,184.90 266.05,184.89 266.30,184.84 266.55,184.70 266.80,184.33 267.05,183.65 267.30,182.79 267.55,182.13 267.80,182.06 268.05,182.63 268.30,183.48 268.55,184.21 268.80,184.63 269.05,184.81 269.30,184.87 269.55,184.88 269.80,184.88 270.05,184.88 270.30,184.88 270.55,184.88 270.80,184.88 271.05,184.87 271.30,184.87 271.55,184.87 271.80,184.87 272.05,184.87 272.30,184.87 272.55,184.86 272.80,184.86 273.05,184.86 273.30,184.86 273.55,184.86 273.80,184.86 274.05,184.86 274.30,184.85 274.55,184.85 274.80,184.85 275.05,184.85 275.30,184.85 275.55,184.85 275.80,184.85 276.05,184.84 276.30,184.84 276.55,184.84 276.80,184.84 277.05,184.84 277.30,184.84 277.55,184.83 277.80,184.83 278.05,184.83 278.30,184.83 278.55,184.83 278.80,184.83 279.05,184.83 279.30,184.82 279.55,184.82 279.80,184.82 280.05,184.82 280.30,184.82 280.55,184.82 280.80,184.82 281.05,184.81 281.30,184.81 281.55,184.81 281.80,184.81 282.05,184.81 282.30,184.80 282.55,184.76 282.80,184.65 283.05,184.34 283.30,183.75 283.55,182.93 283.80,182.22 284.05,182.01 284.30,182.46 284.55,183.27 284.80,184.01 285.05,184.48 285.30,184.69 285.55,184.76 285.80,184.78 286.05,184.78 286.30,184.78 286.55,184.78 286.80,184.78 287.05,184.78 287.30,184.78 287.55,184.77 287.80,184.77 288.05,184.77 288.30,184.77 288.55,184.77 288.80,184.77 289.05,184.77 289.30,184.76 289.55,184.76 289.80,184.76 290.05,184.74 290.30,184.66 290.55,184.41 290.80,183.78 291.05,182.63 291.30,181.16 291.55,180.02 291.80,179.90 292.05,180.87 292.30,182.34 292.55,183.58 292.80,184.30 293.05,184.61 293.30,184.71 293.55,184.73 293.80,184.74 294.05,184.74 294.30,184.73 294.55,184.73 294.80,184.73 295.05,184.73 295.30,184.73 295.55,184.73 295.80,184.73 296.05,184.72 296.30,184.72 296.55,184.72 296.80,184.72 297.05,184.72 297.30,184.72 297.55,184.71 297.80,184.71 298.05,184.71 298.30,184.71 298.55,184.70 298.80,184.69 299.05,184.61 299.30,184.37 299.55,183.83 299.80,182.90 300.05,181.80 300.30,181.07 300.55,181.16 300.80,182.02 301.05,183.12 301.30,183.98 301.55,184.46 301.80,184.65 302.05,184.71 302.30,184.73 302.55,184.73 302.80,184.74 303.05,184.74 303.30,184.74 303.55,184.75 303.80,184.75 304.05,184.75 304.30,184.76 304.55,184.76 304.80,184.76 305.05,184.77 305.30,184.77 305.55,184.77 305.80,184.78 306.05,184.78 306.30,184.78 306.55,184.79 306.80,184.79 307.05,184.79 307.30,184.80 307.55,184.80 307.80,184.80 308.05,184.80 308.30,184.80 308.55,184.78 308.80,184.71 309.05,184.52 309.30,184.13 309.55,183.60 309.80,183.14 310.05,183.01 310.30,183.31 310.55,183.84 310.80,184.33 311.05,184.64 311.30,184.79 311.55,184.84 311.80,184.85 312.05,184.86 312.30,184.86 312.55,184.86 312.80,184.87 313.05,184.87 313.30,184.87 313.55,184.88 313.80,184.88 314.05,184.88 314.30,184.89 314.55,184.89 314.80,184.89 315.05,184.90 315.30,184.90 315.55,184.90 315.80,184.91 316.05,184.91 316.30,184.91 316.55,184.92 316.80,184.92 317.05,184.92 317.30,184.93 317.55,184.93 317.80,184.93 318.05,184.94 318.30,184.94 318.55,184.94 318.80,184.95 319.05,184.95 319.30,184.95 319.55,184.96 319.80,184.96 320.05,184.96 320.30,184.96 320.55,184.97 320.80,184.97 321.05,184.97 321.30,184.98 321.55,184.98 321.80,184.98 322.05,184.99 322.30,184.99 322.55,184.99 322.80,185.00" fill="none" stroke="#000" stroke-width="1.25" stroke-linejoin="round" />
<rect x="69.33" y="158.40" width="1.2" height="1.4" fill="#e8000b"/>
<rect x="69.43" y="163.30" width="1.2" height="1.4" fill="#e8000b"/>
<rect x="69.48" y="167.79" width="1.2" height="1.4" fill="#e8000b"/>
<rect x="69.18" y="171.10" width="1.2" height="1.4" fill="#e8000b"/>
<rect x="68.81" y="175.55" width="1.2" height="1.4" fill="#e8000b"/>
<rect x="74.05" y="162.00" width="1.2" height="1.4" fill="#e8000b"/>
<rect x="74.12" y="166.12" width="1.2" height="1.4" fill="#e8000b"/>
<rect x="74.27" y="172.82" width="1.2" height="1.4" fill="#e8000b"/>
<rect x="80.39" y="124.00" width="1.2" height="1.4" fill="#e8000b"/>
<rect x="81.12" y="128.18" width="1.2" height="1.4" fill="#e8000b"/>
<rect x="80.78" y="133.72" width="1.2" height="1.4" fill="#e8000b"/>
<rect x="80.99" y="140.24" width="1.2" height="1.4" fill="#e8000b"/>
<rect x="80.09" y="144.56" width="1.2" height="1.4" fill="#e8000b"/>
<rect x="80.20" y="149.89" width="1.2" height="1.4" fill="#e8000b"/>
<rect x="81.10" y="152.99" width="1.2" height="1.4" fill="#e8000b"/>
<rect x="80.50" y="159.13" width="1.2" height="1.4" fill="#e8000b"/>
<rect x="80.91" y="162.81" width="1.2" height="1.4" fill="#e8000b"/>
<rect x="80.21" y="168.47" width="1.2" height="1.4" fill="#e8000b"/>
<rect x="81.14" y="176.39" width="1.2" height="1.4" fill="#e8000b"/>
<rect x="99.79" y="160.00" width="1.2" height="1.4" fill="#e8000b"/>
<rect x="99.16" y="165.66" width="1.2" height="1.4" fill="#e8000b"/>
<rect x="98.98" y="171.92" width="1.2" height="1.4" fill="#e8000b"/>
<rect x="98.88" y="178.00" width="1.2" height="1.4" fill="#e8000b"/>
<rect x="109.36" y="35.00" width="1.2" height="1.4" fill="#e8000b"/>
<rect x="109.34" y="39.71" width="1.2" height="1.4" fill="#e8000b"/>
<rect x="109.50" y="46.61" width="1.2" height="1.4" fill="#e8000b"/>
<rect x="109.52" y="52.69" width="1.2" height="1.4" fill="#e8000b"/>
<rect x="109.61" y="58.99" width="1.2" height="1.4" fill="#e8000b"/>
<rect x="108.55" y="66.47" width="1.2" height="1.4" fill="#e8000b"/>
<rect x="108.97" y="70.81" width="1.2" height="1.4" fill="#e8000b"/>
<rect x="108.71" y="75.07" width="1.2" height="1.4" fill="#e8000b"/>
<rect x="108.53" y="82.44" width="1.2" height="1.4" fill="#e8000b"/>
<rect x="109.41" y="86.35" width="1.2" height="1.4" fill="#e8000b"/>
<rect x="108.81" y="90.46" width="1.2" height="1.4" fill="#e8000b"/>
<rect x="109.42" y="98.30" width="1.2" height="1.4" fill="#e8000b"/>
<rect x="108.66" y="103.54" width="1.2" height="1.4" fill="#e8000b"/>
<rect x="109.68" y="107.89" width="1.2" height="1.4" fill="#e8000b"/>
<rect x="108.58" y="114.84" width="1.2" height="1.4" fill="#e8000b"/>
<rect x="108.95" y="121.38" width="1.2" height="1.4" fill="#e8000b"/>
<rect x="108.85" y="127.98" width="1.2" height="1.4" fill="#e8000b"/>
<rect x="108.52" y="131.63" width="1.2" height="1.4" fill="#e8000b"/>
<rect x="109.53" y="136.11" width="1.2" height="1.4" fill="#e8000b"/>
<rect x="109.32" y="143.56" width="1.2" height="1.4" fill="#e8000b"/>
<rect x="108.73" y="150.30" width="1.2" height="1.4" fill="#e8000b"/>
<rect x="109.58" y="155.07" width="1.2" height="1.4" fill="#e8000b"/>
<rect x="109.03" y="163.01" width="1.2" height="1.4" fill="#e8000b"/>
<rect x="109.62" y="169.89" width="1.2" height="1.4" fill="#e8000b"/>
<rect x="108.85" y="177.87" width="1.2" height="1.4" fill="#e8000b"/>
<rect x="110.17" y="143.00" width="1.2" height="1.4" fill="#e8000b"/>
<rect x="110.25" y="148.33" width="1.2" height="1.4" fill="#e8000b"/>
<rect x="109.72" y="152.72" width="1.2" height="1.4" fill="#e8000b"/>
<rect x="110.54" y="159.55" width="1.2" height="1.4" fill="#e8000b"/>
<rect x="109.88" y="166.75" width="1.2" height="1.4" fill="#e8000b"/>
<rect x="110.42" y="170.94" width="1.2" height="1.4" fill="#e8000b"/>
<rect x="110.27" y="178.62" width="1.2" height="1.4" fill="#e8000b"/>
<rect x="111.71" y="145.00" width="1.2" height="1.4" fill="#e8000b"/>
<rect x="112.04" y="152.79" width="1.2" height="1.4" fill="#e8000b"/>
<rect x="111.49" y="160.28" width="1.2" height="1.4" fill="#e8000b"/>
<rect x="112.04" y="164.59" width="1.2" height="1.4" fill="#e8000b"/>
<rect x="112.02" y="171.53" width="1.2" height="1.4" fill="#e8000b"/>
<rect x="111.34" y="176.49" width="1.2" height="1.4" fill="#e8000b"/>
<rect x="108.24" y="167.00" width="1.2" height="1.4" fill="#e8000b"/>
<rect x="107.64" y="174.60" width="1.2" height="1.4" fill="#e8000b"/>
<rect x="131.56" y="174.70" width="1.2" height="1.4" fill="#e8000b"/>
<rect x="141.78" y="169.70" width="1.2" height="1.4" fill="#e8000b"/>
<rect x="141.42" y="173.81" width="1.2" height="1.4" fill="#e8000b"/>
<rect x="141.41" y="178.14" width="1.2" height="1.4" fill="#e8000b"/>
<rect x="146.02" y="170.70" width="1.2" height="1.4" fill="#e8000b"/>
<rect x="146.11" y="177.60" width="1.2" height="1.4" fill="#e8000b"/>
<rect x="158.27" y="169.90" width="1.2" height="1.4" fill="#e8000b"/>
<rect x="157.99" y="173.59" width="1.2" height="1.4" fill="#e8000b"/>
<rect x="158.16" y="179.41" width="1.2" height="1.4" fill="#e8000b"/>
<rect x="164.34" y="167.00" width="1.2" height="1.4" fill="#e8000b"/>
<rect x="164.40" y="170.60" width="1.2" height="1.4" fill="#e8000b"/>
<rect x="164.21" y="176.35" width="1.2" height="1.4" fill="#e8000b"/>
<rect x="163.97" y="180.15" width="1.2" height="1.4" fill="#e8000b"/>
<rect x="166.36" y="172.00" width="1.2" height="1.4" fill="#e8000b"/>
<rect x="165.66" y="179.03" width="1.2" height="1.4" fill="#e8000b"/>
<rect x="169.28" y="169.90" width="1.2" height="1.4" fill="#e8000b"/>
<rect x="169.62" y="176.24" width="1.2" height="1.4" fill="#e8000b"/>
<rect x="178.40" y="167.80" width="1.2" height="1.4" fill="#e8000b"/>
<rect x="178.27" y="175.21" width="1.2" height="1.4" fill="#e8000b"/>
<rect x="177.93" y="180.11" width="1.2" height="1.4" fill="#e8000b"/>
<rect x="210.41" y="161.60" width="1.2" height="1.4" fill="#e8000b"/>
<rect x="209.69" y="169.05" width="1.2" height="1.4" fill="#e8000b"/>
<rect x="210.33" y="175.78" width="1.2" height="1.4" fill="#e8000b"/>
<rect x="210.60" y="178.96" width="1.2" height="1.4" fill="#e8000b"/>
<rect x="212.42" y="176.00" width="1.2" height="1.4" fill="#e8000b"/>
<rect x="213.04" y="179.15" width="1.2" height="1.4" fill="#e8000b"/>
<rect x="219.42" y="179.00" width="1.2" height="1.4" fill="#e8000b"/>
<rect x="108.70" y="11.20" width="1.4" height="1.6" fill="#e8000b"/>
<rect x="108.70" y="10.20" width="1.4" height="1.6" fill="#e8000b"/>
<rect x="108.70" y="20.20" width="1.4" height="1.6" fill="#e8000b"/>
<rect x="108.70" y="25.20" width="1.4" height="1.6" fill="#e8000b"/>
<rect x="108.90" y="38.20" width="1.4" height="1.6" fill="#e8000b"/>
<rect x="108.90" y="55.20" width="1.4" height="1.6" fill="#e8000b"/>
<rect x="108.90" y="68.20" width="1.4" height="1.6" fill="#e8000b"/>
<rect x="108.90" y="77.20" width="1.4" height="1.6" fill="#e8000b"/>
<rect x="108.90" y="85.20" width="1.4" height="1.6" fill="#e8000b"/>
<rect x="108.90" y="99.20" width="1.4" height="1.6" fill="#e8000b"/>
<rect x="109.50" y="113.20" width="1.4" height="1.6" fill="#e8000b"/>
<rect x="109.50" y="128.20" width="1.4" height="1.6" fill="#e8000b"/>
<rect x="109.70" y="142.20" width="1.4" height="1.6" fill="#e8000b"/>
<rect x="109.90" y="146.20" width="1.4" height="1.6" fill="#e8000b"/>
<rect x="110.10" y="150.20" width="1.4" height="1.6" fill="#e8000b"/>
<rect x="110.50" y="154.20" width="1.4" height="1.6" fill="#e8000b"/>
<rect x="110.90" y="157.20" width="1.4" height="1.6" fill="#e8000b"/>
<rect x="80.60" y="120.20" width="1.4" height="1.6" fill="#e8000b"/>
<rect x="80.60" y="123.20" width="1.4" height="1.6" fill="#e8000b"/>
<rect x="80.60" y="129.20" width="1.4" height="1.6" fill="#e8000b"/>
<rect x="68.80" y="154.70" width="1.4" height="1.6" fill="#e8000b"/>
<rect x="74.50" y="158.20" width="1.4" height="1.6" fill="#e8000b"/>
<rect x="99.30" y="156.20" width="1.4" height="1.6" fill="#e8000b"/>
<rect x="210.00" y="158.20" width="1.4" height="1.6" fill="#e8000b"/>
<rect x="141.60" y="166.20" width="1.4" height="1.6" fill="#e8000b"/>
<rect x="163.90" y="163.70" width="1.4" height="1.6" fill="#e8000b"/>
<rect x="177.80" y="164.50" width="1.4" height="1.6" fill="#e8000b"/>
<rect x="69.00" y="192.0" width="2.00" height="7.9" fill="#2420cc"/>
<rect x="74.70" y="192.0" width="1.30" height="7.9" fill="#5a56da"/>
<rect x="80.90" y="192.0" width="1.20" height="7.9" fill="#5a56da"/>
<rect x="98.90" y="192.0" width="1.20" height="7.9" fill="#5a56da"/>
<rect x="100.00" y="192.0" width="1.10" height="7.9" fill="#9a98ea"/>
<rect x="108.90" y="192.0" width="1.40" height="7.9" fill="#2420cc"/>
<rect x="110.90" y="192.0" width="1.70" height="7.9" fill="#9a98ea"/>
<rect x="116.00" y="192.0" width="1.70" height="7.9" fill="#2420cc"/>
<rect x="124.00" y="192.0" width="1.70" height="7.9" fill="#9a98ea"/>
<rect x="132.00" y="192.0" width="1.10" height="7.9" fill="#5a56da"/>
<rect x="135.40" y="192.0" width="1.40" height="7.9" fill="#9a98ea"/>
<rect x="142.00" y="192.0" width="1.70" height="7.9" fill="#2420cc"/>
<rect x="146.00" y="192.0" width="2.00" height="7.9" fill="#5a56da"/>
<rect x="152.80" y="192.0" width="0.90" height="7.9" fill="#2420cc"/>
<rect x="158.30" y="192.0" width="1.40" height="7.9" fill="#9a98ea"/>
<rect x="165.00" y="192.0" width="1.90" height="7.9" fill="#2420cc"/>
<rect x="169.10" y="192.0" width="1.80" height="7.9" fill="#9a98ea"/>
<rect x="171.80" y="192.0" width="1.60" height="7.9" fill="#9a98ea"/>
<rect x="178.30" y="192.0" width="1.70" height="7.9" fill="#2420cc"/>
<rect x="182.90" y="192.0" width="2.80" height="7.9" fill="#2420cc"/>
<rect x="188.00" y="192.0" width="1.20" height="7.9" fill="#9a98ea"/>
<rect x="190.20" y="192.0" width="1.20" height="7.9" fill="#9a98ea"/>
<rect x="194.00" y="192.0" width="2.00" height="7.9" fill="#2420cc"/>
<rect x="206.00" y="192.0" width="1.20" height="7.9" fill="#2420cc"/>
<rect x="210.30" y="192.0" width="1.70" height="7.9" fill="#2420cc"/>
<rect x="213.70" y="192.0" width="1.30" height="7.9" fill="#2420cc"/>
<rect x="216.40" y="192.0" width="1.30" height="7.9" fill="#5a56da"/>
<rect x="220.00" y="192.0" width="2.00" height="7.9" fill="#5a56da"/>
<rect x="222.80" y="192.0" width="1.80" height="7.9" fill="#5a56da"/>
<rect x="228.00" y="192.0" width="1.30" height="7.9" fill="#2420cc"/>
<rect x="230.10" y="192.0" width="1.30" height="7.9" fill="#5a56da"/>
<rect x="233.70" y="192.0" width="2.80" height="7.9" fill="#2420cc"/>
<rect x="237.20" y="192.0" width="3.40" height="7.9" fill="#2420cc"/>
<rect x="244.60" y="192.0" width="1.00" height="7.9" fill="#2420cc"/>
<rect x="246.40" y="192.0" width="1.00" height="7.9" fill="#2420cc"/>
<rect x="251.40" y="192.0" width="1.80" height="7.9" fill="#5a56da"/>
<rect x="254.00" y="192.0" width="2.00" height="7.9" fill="#2420cc"/>
<rect x="256.60" y="192.0" width="1.40" height="7.9" fill="#5a56da"/>
<rect x="258.00" y="192.0" width="1.40" height="7.9" fill="#2420cc"/>
<rect x="260.30" y="192.0" width="1.70" height="7.9" fill="#2420cc"/>
<rect x="263.10" y="192.0" width="2.30" height="7.9" fill="#2420cc"/>
<rect x="268.00" y="192.0" width="1.40" height="7.9" fill="#2420cc"/>
<rect x="270.30" y="192.0" width="2.00" height="7.9" fill="#2420cc"/>
<rect x="275.10" y="192.0" width="1.20" height="7.9" fill="#2420cc"/>
<rect x="279.70" y="192.0" width="1.20" height="7.9" fill="#5a56da"/>
<rect x="282.60" y="192.0" width="1.70" height="7.9" fill="#5a56da"/>
<rect x="284.90" y="192.0" width="3.40" height="7.9" fill="#9a98ea"/>
<rect x="290.00" y="192.0" width="2.00" height="7.9" fill="#2420cc"/>
<rect x="292.80" y="192.0" width="2.30" height="7.9" fill="#2420cc"/>
<rect x="298.60" y="192.0" width="1.70" height="7.9" fill="#2420cc"/>
<rect x="301.40" y="192.0" width="4.00" height="7.9" fill="#2420cc"/>
<rect x="310.00" y="192.0" width="1.60" height="7.9" fill="#2420cc"/>
<rect x="312.40" y="192.0" width="1.60" height="7.9" fill="#2420cc"/>
<rect x="318.60" y="192.0" width="2.30" height="7.9" fill="#5a56da"/>
<rect x="322.60" y="192.0" width="1.10" height="7.9" fill="#5a56da"/>
<rect x="324.30" y="192.0" width="2.00" height="7.9" fill="#2420cc"/>
<rect x="327.00" y="192.0" width="3.00" height="7.9" fill="#5a56da"/>
<rect x="332.00" y="192.0" width="1.40" height="7.9" fill="#9a98ea"/>
<polyline points="41.80,228.88 42.05,228.31 42.30,228.13 42.55,228.32 42.80,228.46 43.05,228.20 43.30,228.38 43.55,227.93 43.80,228.32 44.05,228.67 44.30,229.09 44.55,228.65 44.80,228.50 45.05,228.81 45.30,228.76 45.55,228.98 45.80,228.78 46.05,228.36 46.30,228.49 46.55,228.46 46.80,228.51 47.05,228.47 47.30,228.13 47.55,227.66 47.80,228.16 48.05,227.69 48.30,228.42 48.55,228.40 48.80,227.81 49.05,228.64 49.30,228.70 49.55,228.43 49.80,228.98 50.05,229.06 50.30,227.98 50.55,228.76 50.80,228.55 51.05,228.55 51.30,228.73 51.55,228.15 51.80,228.19 52.05,228.11 52.30,228.14 52.55,228.37 52.80,227.89 53.05,228.03 53.30,228.60 53.55,228.38 53.80,228.53 54.05,227.48 54.30,227.71 54.55,228.63 54.80,228.38 55.05,228.27 55.30,228.14 55.55,228.01 55.80,228.50 56.05,227.80 56.30,227.89 56.55,228.04 56.80,229.51 57.05,228.68 57.30,229.33 57.55,228.34 57.80,228.40 58.05,227.92 58.30,228.39 58.55,229.39 58.80,228.90 59.05,228.88 59.30,229.26 59.55,228.38 59.80,227.55 60.05,228.94 60.30,228.84 60.55,228.26 60.80,228.63 61.05,228.18 61.30,228.67 61.55,228.42 61.80,227.29 62.05,229.19 62.30,227.00 62.55,228.94 62.80,229.46 63.05,227.41 63.30,227.74 63.55,228.27 63.80,229.03 64.05,227.55 64.30,228.92 64.55,229.05 64.80,227.51 65.05,230.70 65.30,228.24 65.55,228.90 65.80,228.26 66.05,228.33 66.30,228.79 66.55,228.58 66.80,228.19 67.05,228.65 67.30,228.22 67.55,227.77 67.80,229.11 68.05,228.28 68.30,228.19 68.55,228.54 68.80,227.92 69.05,227.95 69.30,227.84 69.55,227.22 69.80,227.55 70.05,229.05 70.30,229.30 70.55,229.36 70.80,228.78 71.05,227.95 71.30,228.43 71.55,228.06 71.80,228.77 72.05,228.56 72.30,228.41 72.55,227.93 72.80,228.44 73.05,228.13 73.30,228.65 73.55,228.36 73.80,228.14 74.05,228.78 74.30,228.63 74.55,227.78 74.80,227.95 75.05,227.74 75.30,228.68 75.55,229.32 75.80,228.66 76.05,228.32 76.30,228.28 76.55,228.90 76.80,228.92 77.05,228.31 77.30,228.96 77.55,228.38 77.80,228.53 78.05,228.71 78.30,228.50 78.55,229.25 78.80,228.49 79.05,227.98 79.30,228.86 79.55,228.26 79.80,228.30 80.05,227.45 80.30,228.98 80.55,228.35 80.80,226.37 81.05,225.62 81.30,228.99 81.55,231.51 81.80,231.03 82.05,228.48 82.30,228.05 82.55,228.67 82.80,228.53 83.05,227.93 83.30,228.53 83.55,228.34 83.80,228.11 84.05,228.55 84.30,228.26 84.55,227.85 84.80,228.01 85.05,229.02 85.30,227.87 85.55,228.48 85.80,228.61 86.05,228.62 86.30,227.97 86.55,228.29 86.80,228.45 87.05,228.68 87.30,228.17 87.55,227.99 87.80,228.75 88.05,228.79 88.30,228.53 88.55,228.19 88.80,228.54 89.05,228.44 89.30,228.69 89.55,227.96 89.80,228.44 90.05,228.34 90.30,228.01 90.55,228.48 90.80,228.41 91.05,228.26 91.30,228.54 91.55,227.90 91.80,228.38 92.05,228.78 92.30,228.74 92.55,229.24 92.80,228.06 93.05,227.01 93.30,228.80 93.55,228.37 93.80,228.97 94.05,227.73 94.30,227.75 94.55,228.25 94.80,228.08 95.05,227.01 95.30,229.34 95.55,228.59 95.80,227.98 96.05,228.22 96.30,228.52 96.55,229.04 96.80,227.31 97.05,227.83 97.30,226.92 97.55,228.64 97.80,229.42 98.05,228.21 98.30,228.61 98.55,228.06 98.80,229.41 99.05,229.18 99.30,228.15 99.55,225.98 99.80,226.60 100.05,229.77 100.30,230.12 100.55,230.15 100.80,228.98 101.05,227.92 101.30,229.51 101.55,228.15 101.80,228.62 102.05,228.31 102.30,229.04 102.55,228.20 102.80,228.41 103.05,229.25 103.30,228.53 103.55,228.42 103.80,228.97 104.05,226.67 104.30,229.18 104.55,229.34 104.80,228.73 105.05,228.48 105.30,227.25 105.55,227.85 105.80,228.42 106.05,229.06 106.30,227.64 106.55,227.63 106.80,229.20 107.05,227.52 107.30,229.15 107.55,227.95 107.80,228.05 108.05,228.53 108.30,229.05 108.55,229.03 108.80,228.20 109.05,229.47 109.30,230.92 109.55,230.17 109.80,225.83 110.05,227.48 110.30,229.06 110.55,228.33 110.80,226.05 111.05,225.78 111.30,227.10 111.55,228.85 111.80,230.22 112.05,230.70 112.30,228.98 112.55,228.61 112.80,228.08 113.05,228.00 113.30,228.53 113.55,228.05 113.80,229.07 114.05,228.20 114.30,229.10 114.55,228.02 114.80,228.61 115.05,227.98 115.30,227.93 115.55,228.46 115.80,228.64 116.05,227.95 116.30,228.81 116.55,228.12 116.80,228.45 117.05,228.53 117.30,228.61 117.55,227.77 117.80,228.97 118.05,228.60 118.30,228.25 118.55,228.04 118.80,227.81 119.05,227.92 119.30,228.59 119.55,228.28 119.80,228.00 120.05,228.22 120.30,228.95 120.55,228.28 120.80,228.20 121.05,228.87 121.30,228.56 121.55,228.42 121.80,228.19 122.05,227.86 122.30,227.99 122.55,228.23 122.80,228.32 123.05,228.52 123.30,228.59 123.55,228.48 123.80,228.48 124.05,228.05 124.30,227.65 124.55,228.22 124.80,228.07 125.05,228.17 125.30,228.30 125.55,227.96 125.80,228.01 126.05,228.36 126.30,228.44 126.55,228.17 126.80,228.57 127.05,228.32 127.30,228.04 127.55,228.41 127.80,229.06 128.05,228.16 128.30,228.81 128.55,228.88 128.80,228.92 129.05,228.11 129.30,229.11 129.55,228.44 129.80,228.31 130.05,228.32 130.30,228.61 130.55,228.42 130.80,228.35 131.05,228.90 131.30,228.19 131.55,227.82 131.80,227.96 132.05,227.85 132.30,228.78 132.55,228.82 132.80,229.50 133.05,228.79 133.30,228.98 133.55,227.92 133.80,228.46 134.05,228.30 134.30,227.84 134.55,228.15 134.80,228.79 135.05,228.24 135.30,228.15 135.55,228.70 135.80,228.75 136.05,228.75 136.30,228.12 136.55,228.38 136.80,228.76 137.05,228.17 137.30,228.14 137.55,228.69 137.80,228.95 138.05,228.00 138.30,227.49 138.55,227.89 138.80,228.05 139.05,228.35 139.30,228.62 139.55,228.35 139.80,228.15 140.05,228.45 140.30,228.06 140.55,228.38 140.80,228.19 141.05,229.40 141.30,228.81 141.55,227.96 141.80,226.97 142.05,226.43 142.30,227.01 142.55,229.31 142.80,229.92 143.05,229.57 143.30,228.29 143.55,228.00 143.80,227.88 144.05,227.98 144.30,228.38 144.55,228.32 144.80,228.80 145.05,228.18 145.30,228.77 145.55,228.50 145.80,228.45 146.05,227.77 146.30,227.78 146.55,227.88 146.80,227.82 147.05,228.22 147.30,229.54 147.55,229.26 147.80,228.66 148.05,228.15 148.30,228.67 148.55,228.50 148.80,228.32 149.05,228.29 149.30,228.59 149.55,228.51 149.80,228.11 150.05,229.00 150.30,228.49 150.55,228.40 150.80,228.92 151.05,228.76 151.30,228.37 151.55,228.59 151.80,228.03 152.05,228.18 152.30,227.61 152.55,228.83 152.80,227.74 153.05,228.64 153.30,228.11 153.55,228.06 153.80,228.33 154.05,228.49 154.30,228.61 154.55,229.02 154.80,228.53 155.05,228.71 155.30,228.19 155.55,228.65 155.80,228.45 156.05,228.83 156.30,229.38 156.55,227.52 156.80,229.40 157.05,228.38 157.30,229.15 157.55,228.00 157.80,227.69 158.05,227.49 158.30,227.46 158.55,229.36 158.80,229.08 159.05,229.88 159.30,229.28 159.55,227.62 159.80,229.04 160.05,226.95 160.30,228.73 160.55,227.42 160.80,228.83 161.05,228.31 161.30,230.06 161.55,228.54 161.80,228.40 162.05,228.35 162.30,227.57 162.55,228.39 162.80,226.89 163.05,229.15 163.30,228.88 163.55,227.32 163.80,228.54 164.05,228.05 164.30,226.74 164.55,228.28 164.80,228.77 165.05,229.12 165.30,229.00 165.55,228.67 165.80,228.15 166.05,227.45 166.30,229.43 166.55,227.83 166.80,229.35 167.05,228.36 167.30,228.75 167.55,229.04 167.80,229.02 168.05,229.20 168.30,228.61 168.55,228.51 168.80,228.94 169.05,228.92 169.30,228.29 169.55,228.59 169.80,229.10 170.05,230.05 170.30,229.79 170.55,228.50 170.80,228.78 171.05,227.81 171.30,228.90 171.55,228.17 171.80,228.57 172.05,227.45 172.30,228.90 172.55,227.10 172.80,229.21 173.05,227.02 173.30,227.94 173.55,228.85 173.80,228.17 174.05,228.42 174.30,228.12 174.55,226.43 174.80,228.55 175.05,228.14 175.30,227.84 175.55,228.87 175.80,227.92 176.05,228.51 176.30,228.59 176.55,228.20 176.80,229.83 177.05,227.43 177.30,229.27 177.55,229.41 177.80,226.24 178.05,226.40 178.30,227.76 178.55,228.78 178.80,230.22 179.05,229.69 179.30,227.99 179.55,228.31 179.80,226.79 180.05,228.01 180.30,227.96 180.55,228.46 180.80,227.89 181.05,226.77 181.30,228.87 181.55,229.15 181.80,228.89 182.05,227.60 182.30,228.26 182.55,228.28 182.80,227.42 183.05,227.62 183.30,228.37 183.55,228.11 183.80,228.43 184.05,228.36 184.30,228.31 184.55,227.89 184.80,228.23 185.05,229.11 185.30,228.03 185.55,227.81 185.80,228.50 186.05,228.61 186.30,228.56 186.55,228.01 186.80,228.75 187.05,228.13 187.30,228.00 187.55,228.19 187.80,228.36 188.05,228.65 188.30,228.62 188.55,228.39 188.80,228.73 189.05,228.43 189.30,228.71 189.55,227.91 189.80,227.85 190.05,228.67 190.30,227.91 190.55,228.29 190.80,228.37 191.05,228.23 191.30,228.24 191.55,228.89 191.80,227.51 192.05,228.71 192.30,229.20 192.55,228.41 192.80,228.39 193.05,228.65 193.30,229.04 193.55,227.98 193.80,228.43 194.05,228.33 194.30,228.60 194.55,228.46 194.80,228.63 195.05,228.25 195.30,228.42 195.55,228.17 195.80,228.17 196.05,228.35 196.30,228.35 196.55,227.99 196.80,228.95 197.05,228.35 197.30,227.92 197.55,228.79 197.80,228.14 198.05,228.58 198.30,228.39 198.55,228.49 198.80,228.46 199.05,228.20 199.30,228.41 199.55,229.11 199.80,227.62 200.05,228.42 200.30,228.55 200.55,228.03 200.80,227.92 201.05,229.16 201.30,228.27 201.55,229.13 201.80,228.59 202.05,228.43 202.30,228.57 202.55,228.62 202.80,228.81 203.05,228.55 203.30,228.45 203.55,228.46 203.80,228.87 204.05,228.69 204.30,228.05 204.55,228.18 204.80,228.52 205.05,228.18 205.30,228.27 205.55,228.07 205.80,228.31 206.05,228.55 206.30,228.75 206.55,228.40 206.80,229.13 207.05,228.37 207.30,229.52 207.55,228.75 207.80,228.57 208.05,228.23 208.30,227.41 208.55,228.35 208.80,228.46 209.05,229.08 209.30,227.96 209.55,229.17 209.80,228.28 210.05,227.96 210.30,226.09 210.55,227.52 210.80,228.93 211.05,230.09 211.30,229.30 211.55,228.12 211.80,228.64 212.05,228.64 212.30,228.64 212.55,228.54 212.80,228.06 213.05,227.60 213.30,227.92 213.55,228.71 213.80,229.59 214.05,228.87 214.30,228.39 214.55,228.20 214.80,228.40 215.05,228.41 215.30,228.28 215.55,228.16 215.80,229.16 216.05,228.48 216.30,228.19 216.55,227.94 216.80,228.15 217.05,228.65 217.30,228.67 217.55,228.32 217.80,228.42 218.05,228.29 218.30,228.01 218.55,228.86 218.80,228.53 219.05,229.27 219.30,228.14 219.55,228.35 219.80,228.71 220.05,228.31 220.30,227.91 220.55,228.07 220.80,228.44 221.05,228.52 221.30,228.37 221.55,228.75 221.80,228.75 222.05,228.51 222.30,228.41 222.55,228.31 222.80,228.59 223.05,228.72 223.30,228.42 223.55,228.56 223.80,228.29 224.05,227.91 224.30,228.05 224.55,228.67 224.80,228.56 225.05,228.96 225.30,228.42 225.55,228.70 225.80,228.86 226.05,228.75 226.30,228.19 226.55,228.34 226.80,228.45 227.05,228.05 227.30,228.57 227.55,228.76 227.80,228.23 228.05,229.09 228.30,228.30 228.55,228.33 228.80,228.32 229.05,228.15 229.30,228.55 229.55,228.41 229.80,228.98 230.05,228.61 230.30,228.59 230.55,228.32 230.80,227.91 231.05,228.37 231.30,228.10 231.55,228.73 231.80,228.39 232.05,228.98 232.30,228.66 232.55,228.69 232.80,228.48 233.05,228.47 233.30,228.63 233.55,228.72 233.80,228.15 234.05,228.57 234.30,229.32 234.55,228.37 234.80,228.31 235.05,228.16 235.30,227.89 235.55,228.82 235.80,228.42 236.05,228.50 236.30,229.05 236.55,229.28 236.80,228.09 237.05,228.77 237.30,228.62 237.55,228.54 237.80,228.57 238.05,228.39 238.30,228.96 238.55,228.62 238.80,228.52 239.05,228.84 239.30,228.71 239.55,228.56 239.80,228.52 240.05,229.02 240.30,228.58 240.55,228.37 240.80,228.10 241.05,228.28 241.30,228.03 241.55,228.44 241.80,228.49 242.05,227.68 242.30,228.41 242.55,228.63 242.80,228.46 243.05,228.07 243.30,228.84 243.55,228.16 243.80,227.97 244.05,228.02 244.30,228.40 244.55,228.75 244.80,228.83 245.05,228.52 245.30,228.02 245.55,228.05 245.80,227.62 246.05,227.62 246.30,227.27 246.55,228.58 246.80,229.29 247.05,229.01 247.30,228.88 247.55,228.11 247.80,227.84 248.05,228.14 248.30,228.80 248.55,228.76 248.80,228.24 249.05,228.82 249.30,228.29 249.55,228.93 249.80,228.57 250.05,228.24 250.30,228.68 250.55,228.13 250.80,228.07 251.05,227.89 251.30,228.49 251.55,228.38 251.80,228.37 252.05,228.26 252.30,228.90 252.55,228.25 252.80,228.15 253.05,228.84 253.30,228.90 253.55,228.52 253.80,227.79 254.05,228.19 254.30,228.61 254.55,228.41 254.80,228.94 255.05,227.92 255.30,228.64 255.55,228.18 255.80,228.86 256.05,228.37 256.30,228.76 256.55,228.17 256.80,227.91 257.05,228.01 257.30,228.19 257.55,228.04 257.80,228.82 258.05,228.87 258.30,228.50 258.55,228.04 258.80,228.36 259.05,228.16 259.30,228.91 259.55,228.51 259.80,228.57 260.05,228.26 260.30,227.70 260.55,228.13 260.80,228.01 261.05,228.53 261.30,228.43 261.55,228.12 261.80,228.26 262.05,228.95 262.30,228.06 262.55,228.08 262.80,228.32 263.05,228.16 263.30,228.25 263.55,228.59 263.80,229.01 264.05,227.78 264.30,228.39 264.55,228.41 264.80,228.37 265.05,228.33 265.30,228.28 265.55,228.75 265.80,228.24 266.05,228.36 266.30,228.40 266.55,228.44 266.80,228.34 267.05,228.75 267.30,228.40 267.55,228.46 267.80,228.38 268.05,228.05 268.30,228.11 268.55,228.03 268.80,228.47 269.05,228.15 269.30,228.03 269.55,228.48 269.80,228.58 270.05,227.78 270.30,228.99 270.55,228.41 270.80,228.36 271.05,228.77 271.30,228.42 271.55,228.19 271.80,229.17 272.05,228.02 272.30,228.37 272.55,228.70 272.80,228.03 273.05,228.36 273.30,228.54 273.55,229.24 273.80,228.09 274.05,228.38 274.30,228.63 274.55,228.43 274.80,227.98 275.05,228.24 275.30,229.21 275.55,228.67 275.80,227.15 276.05,228.37 276.30,228.51 276.55,229.09 276.80,227.84 277.05,228.20 277.30,228.08 277.55,228.66 277.80,228.17 278.05,227.75 278.30,228.49 278.55,229.49 278.80,227.94 279.05,227.53 279.30,228.69 279.55,228.42 279.80,228.77 280.05,228.65 280.30,229.04 280.55,229.07 280.80,227.70 281.05,228.54 281.30,227.38 281.55,229.59 281.80,228.71 282.05,229.62 282.30,228.20 282.55,227.53 282.80,229.00 283.05,228.67 283.30,228.40 283.55,228.50 283.80,228.81 284.05,229.05 284.30,226.74 284.55,229.17 284.80,227.56 285.05,228.54 285.30,228.75 285.55,228.60 285.80,227.61 286.05,227.86 286.30,228.05 286.55,228.76 286.80,228.16 287.05,227.02 287.30,227.81 287.55,227.88 287.80,228.46 288.05,229.22 288.30,228.89 288.55,227.96 288.80,228.41 289.05,228.85 289.30,228.76 289.55,228.44 289.80,229.75 290.05,228.33 290.30,228.71 290.55,228.67 290.80,227.85 291.05,226.52 291.30,227.63 291.55,228.57 291.80,230.62 292.05,229.00 292.30,229.54 292.55,228.93 292.80,227.65 293.05,228.03 293.30,228.89 293.55,228.49 293.80,228.64 294.05,227.26 294.30,227.67 294.55,228.33 294.80,227.28 295.05,227.63 295.30,228.91 295.55,228.33 295.80,228.79 296.05,228.38 296.30,228.27 296.55,228.24 296.80,228.92 297.05,228.90 297.30,227.65 297.55,228.07 297.80,229.02 298.05,228.27 298.30,227.92 298.55,228.40 298.80,228.36 299.05,228.37 299.30,228.23 299.55,228.29 299.80,228.24 300.05,228.52 300.30,228.12 300.55,228.30 300.80,228.35 301.05,228.86 301.30,228.53 301.55,228.36 301.80,228.59 302.05,228.54 302.30,228.78 302.55,228.58 302.80,229.03 303.05,228.87 303.30,228.39 303.55,228.25 303.80,228.71 304.05,228.58 304.30,228.37 304.55,227.88 304.80,227.76 305.05,228.52 305.30,228.67 305.55,228.68 305.80,227.95 306.05,228.76 306.30,228.21 306.55,228.54 306.80,228.55 307.05,228.12 307.30,228.19 307.55,227.67 307.80,228.08 308.05,227.77 308.30,228.55 308.55,228.42 308.80,228.72 309.05,228.52 309.30,228.18 309.55,228.52 309.80,228.26 310.05,228.61 310.30,228.51 310.55,228.05 310.80,228.40 311.05,228.42 311.30,228.29 311.55,228.71 311.80,229.00 312.05,228.27 312.30,228.28 312.55,227.61 312.80,228.35 313.05,228.25 313.30,227.64 313.55,228.50 313.80,228.61 314.05,228.14 314.30,228.27 314.55,228.06 314.80,228.67 315.05,227.87 315.30,228.29 315.55,229.08 315.80,228.42 316.05,228.56 316.30,228.35 316.55,227.99 316.80,228.39 317.05,228.54 317.30,228.04 317.55,228.52 317.80,228.84 318.05,228.77 318.30,227.85 318.55,228.06 318.80,227.84 319.05,228.77 319.30,228.61 319.55,228.65 319.80,228.09 320.05,227.99 320.30,228.43 320.55,228.44 320.80,228.10 321.05,228.45 321.30,228.63 321.55,228.48 321.80,228.04 322.05,227.66 322.30,228.31 322.55,228.46 322.80,228.31" fill="none" stroke="#1a1ae6" stroke-width="1.2" stroke-linejoin="round" />
<line x1="109.80" y1="205.00" x2="109.80" y2="237.50" stroke="#1a1ae6" stroke-width="1.0"/>
<ellipse cx="109.9" cy="228.6" rx="1.5" ry="3.2" fill="#1a1ae6"/>
<rect x="41.5" y="4.2" width="300.30" height="238.00" fill="none" stroke="#000" stroke-width="1"/>
<line x1="41.50" y1="4.20" x2="45.50" y2="4.20" stroke="#000" stroke-width="1"/>
<line x1="341.80" y1="4.20" x2="337.80" y2="4.20" stroke="#000" stroke-width="1"/>
<line x1="41.50" y1="8.97" x2="44.00" y2="8.97" stroke="#000" stroke-width="1"/>
<line x1="341.80" y1="8.97" x2="339.30" y2="8.97" stroke="#000" stroke-width="1"/>
<line x1="41.50" y1="13.74" x2="44.00" y2="13.74" stroke="#000" stroke-width="1"/>
<line x1="341.80" y1="13.74" x2="339.30" y2="13.74" stroke="#000" stroke-width="1"/>
<line x1="41.50" y1="18.51" x2="44.00" y2="18.51" stroke="#000" stroke-width="1"/>
<line x1="341.80" y1="18.51" x2="339.30" y2="18.51" stroke="#000" stroke-width="1"/>
<line x1="41.50" y1="23.28" x2="44.00" y2="23.28" stroke="#000" stroke-width="1"/>
<line x1="341.80" y1="23.28" x2="339.30" y2="23.28" stroke="#000" stroke-width="1"/>
<line x1="41.50" y1="28.05" x2="45.50" y2="28.05" stroke="#000" stroke-width="1"/>
<line x1="341.80" y1="28.05" x2="337.80" y2="28.05" stroke="#000" stroke-width="1"/>
<line x1="41.50" y1="32.82" x2="44.00" y2="32.82" stroke="#000" stroke-width="1"/>
<line x1="341.80" y1="32.82" x2="339.30" y2="32.82" stroke="#000" stroke-width="1"/>
<line x1="41.50" y1="37.59" x2="44.00" y2="37.59" stroke="#000" stroke-width="1"/>
<line x1="341.80" y1="37.59" x2="339.30" y2="37.59" stroke="#000" stroke-width="1"/>
<line x1="41.50" y1="42.36" x2="44.00" y2="42.36" stroke="#000" stroke-width="1"/>
<line x1="341.80" y1="42.36" x2="339.30" y2="42.36" stroke="#000" stroke-width="1"/>
<line x1="41.50" y1="47.13" x2="44.00" y2="47.13" stroke="#000" stroke-width="1"/>
<line x1="341.80" y1="47.13" x2="339.30" y2="47.13" stroke="#000" stroke-width="1"/>
<line x1="41.50" y1="51.90" x2="45.50" y2="51.90" stroke="#000" stroke-width="1"/>
<line x1="341.80" y1="51.90" x2="337.80" y2="51.90" stroke="#000" stroke-width="1"/>
<line x1="41.50" y1="56.67" x2="44.00" y2="56.67" stroke="#000" stroke-width="1"/>
<line x1="341.80" y1="56.67" x2="339.30" y2="56.67" stroke="#000" stroke-width="1"/>
<line x1="41.50" y1="61.44" x2="44.00" y2="61.44" stroke="#000" stroke-width="1"/>
<line x1="341.80" y1="61.44" x2="339.30" y2="61.44" stroke="#000" stroke-width="1"/>
<line x1="41.50" y1="66.21" x2="44.00" y2="66.21" stroke="#000" stroke-width="1"/>
<line x1="341.80" y1="66.21" x2="339.30" y2="66.21" stroke="#000" stroke-width="1"/>
<line x1="41.50" y1="70.98" x2="44.00" y2="70.98" stroke="#000" stroke-width="1"/>
<line x1="341.80" y1="70.98" x2="339.30" y2="70.98" stroke="#000" stroke-width="1"/>
<line x1="41.50" y1="75.75" x2="45.50" y2="75.75" stroke="#000" stroke-width="1"/>
<line x1="341.80" y1="75.75" x2="337.80" y2="75.75" stroke="#000" stroke-width="1"/>
<line x1="41.50" y1="80.52" x2="44.00" y2="80.52" stroke="#000" stroke-width="1"/>
<line x1="341.80" y1="80.52" x2="339.30" y2="80.52" stroke="#000" stroke-width="1"/>
<line x1="41.50" y1="85.29" x2="44.00" y2="85.29" stroke="#000" stroke-width="1"/>
<line x1="341.80" y1="85.29" x2="339.30" y2="85.29" stroke="#000" stroke-width="1"/>
<line x1="41.50" y1="90.06" x2="44.00" y2="90.06" stroke="#000" stroke-width="1"/>
<line x1="341.80" y1="90.06" x2="339.30" y2="90.06" stroke="#000" stroke-width="1"/>
<line x1="41.50" y1="94.83" x2="44.00" y2="94.83" stroke="#000" stroke-width="1"/>
<line x1="341.80" y1="94.83" x2="339.30" y2="94.83" stroke="#000" stroke-width="1"/>
<line x1="41.50" y1="99.60" x2="45.50" y2="99.60" stroke="#000" stroke-width="1"/>
<line x1="341.80" y1="99.60" x2="337.80" y2="99.60" stroke="#000" stroke-width="1"/>
<line x1="41.50" y1="104.37" x2="44.00" y2="104.37" stroke="#000" stroke-width="1"/>
<line x1="341.80" y1="104.37" x2="339.30" y2="104.37" stroke="#000" stroke-width="1"/>
<line x1="41.50" y1="109.14" x2="44.00" y2="109.14" stroke="#000" stroke-width="1"/>
<line x1="341.80" y1="109.14" x2="339.30" y2="109.14" stroke="#000" stroke-width="1"/>
<line x1="41.50" y1="113.91" x2="44.00" y2="113.91" stroke="#000" stroke-width="1"/>
<line x1="341.80" y1="113.91" x2="339.30" y2="113.91" stroke="#000" stroke-width="1"/>
<line x1="41.50" y1="118.68" x2="44.00" y2="118.68" stroke="#000" stroke-width="1"/>
<line x1="341.80" y1="118.68" x2="339.30" y2="118.68" stroke="#000" stroke-width="1"/>
<line x1="41.50" y1="123.45" x2="45.50" y2="123.45" stroke="#000" stroke-width="1"/>
<line x1="341.80" y1="123.45" x2="337.80" y2="123.45" stroke="#000" stroke-width="1"/>
<line x1="41.50" y1="128.22" x2="44.00" y2="128.22" stroke="#000" stroke-width="1"/>
<line x1="341.80" y1="128.22" x2="339.30" y2="128.22" stroke="#000" stroke-width="1"/>
<line x1="41.50" y1="132.99" x2="44.00" y2="132.99" stroke="#000" stroke-width="1"/>
<line x1="341.80" y1="132.99" x2="339.30" y2="132.99" stroke="#000" stroke-width="1"/>
<line x1="41.50" y1="137.76" x2="44.00" y2="137.76" stroke="#000" stroke-width="1"/>
<line x1="341.80" y1="137.76" x2="339.30" y2="137.76" stroke="#000" stroke-width="1"/>
<line x1="41.50" y1="142.53" x2="44.00" y2="142.53" stroke="#000" stroke-width="1"/>
<line x1="341.80" y1="142.53" x2="339.30" y2="142.53" stroke="#000" stroke-width="1"/>
<line x1="41.50" y1="147.30" x2="45.50" y2="147.30" stroke="#000" stroke-width="1"/>
<line x1="341.80" y1="147.30" x2="337.80" y2="147.30" stroke="#000" stroke-width="1"/>
<line x1="41.50" y1="152.07" x2="44.00" y2="152.07" stroke="#000" stroke-width="1"/>
<line x1="341.80" y1="152.07" x2="339.30" y2="152.07" stroke="#000" stroke-width="1"/>
<line x1="41.50" y1="156.84" x2="44.00" y2="156.84" stroke="#000" stroke-width="1"/>
<line x1="341.80" y1="156.84" x2="339.30" y2="156.84" stroke="#000" stroke-width="1"/>
<line x1="41.50" y1="161.61" x2="44.00" y2="161.61" stroke="#000" stroke-width="1"/>
<line x1="341.80" y1="161.61" x2="339.30" y2="161.61" stroke="#000" stroke-width="1"/>
<line x1="41.50" y1="166.38" x2="44.00" y2="166.38" stroke="#000" stroke-width="1"/>
<line x1="341.80" y1="166.38" x2="339.30" y2="166.38" stroke="#000" stroke-width="1"/>
<line x1="41.50" y1="171.15" x2="45.50" y2="171.15" stroke="#000" stroke-width="1"/>
<line x1="341.80" y1="171.15" x2="337.80" y2="171.15" stroke="#000" stroke-width="1"/>
<line x1="41.50" y1="175.92" x2="44.00" y2="175.92" stroke="#000" stroke-width="1"/>
<line x1="341.80" y1="175.92" x2="339.30" y2="175.92" stroke="#000" stroke-width="1"/>
<line x1="41.50" y1="180.69" x2="44.00" y2="180.69" stroke="#000" stroke-width="1"/>
<line x1="341.80" y1="180.69" x2="339.30" y2="180.69" stroke="#000" stroke-width="1"/>
<line x1="41.50" y1="185.46" x2="44.00" y2="185.46" stroke="#000" stroke-width="1"/>
<line x1="341.80" y1="185.46" x2="339.30" y2="185.46" stroke="#000" stroke-width="1"/>
<line x1="41.50" y1="190.23" x2="44.00" y2="190.23" stroke="#000" stroke-width="1"/>
<line x1="341.80" y1="190.23" x2="339.30" y2="190.23" stroke="#000" stroke-width="1"/>
<line x1="41.50" y1="195.00" x2="45.50" y2="195.00" stroke="#000" stroke-width="1"/>
<line x1="341.80" y1="195.00" x2="337.80" y2="195.00" stroke="#000" stroke-width="1"/>
<line x1="41.50" y1="199.77" x2="44.00" y2="199.77" stroke="#000" stroke-width="1"/>
<line x1="341.80" y1="199.77" x2="339.30" y2="199.77" stroke="#000" stroke-width="1"/>
<line x1="41.50" y1="204.54" x2="44.00" y2="204.54" stroke="#000" stroke-width="1"/>
<line x1="341.80" y1="204.54" x2="339.30" y2="204.54" stroke="#000" stroke-width="1"/>
<line x1="41.50" y1="209.31" x2="44.00" y2="209.31" stroke="#000" stroke-width="1"/>
<line x1="341.80" y1="209.31" x2="339.30" y2="209.31" stroke="#000" stroke-width="1"/>
<line x1="41.50" y1="214.08" x2="44.00" y2="214.08" stroke="#000" stroke-width="1"/>
<line x1="341.80" y1="214.08" x2="339.30" y2="214.08" stroke="#000" stroke-width="1"/>
<line x1="41.50" y1="218.85" x2="45.50" y2="218.85" stroke="#000" stroke-width="1"/>
<line x1="341.80" y1="218.85" x2="337.80" y2="218.85" stroke="#000" stroke-width="1"/>
<line x1="41.50" y1="223.62" x2="44.00" y2="223.62" stroke="#000" stroke-width="1"/>
<line x1="341.80" y1="223.62" x2="339.30" y2="223.62" stroke="#000" stroke-width="1"/>
<line x1="41.50" y1="228.39" x2="44.00" y2="228.39" stroke="#000" stroke-width="1"/>
<line x1="341.80" y1="228.39" x2="339.30" y2="228.39" stroke="#000" stroke-width="1"/>
<line x1="41.50" y1="233.16" x2="44.00" y2="233.16" stroke="#000" stroke-width="1"/>
<line x1="341.80" y1="233.16" x2="339.30" y2="233.16" stroke="#000" stroke-width="1"/>
<line x1="41.50" y1="237.93" x2="44.00" y2="237.93" stroke="#000" stroke-width="1"/>
<line x1="341.80" y1="237.93" x2="339.30" y2="237.93" stroke="#000" stroke-width="1"/>
<line x1="41.50" y1="242.70" x2="45.50" y2="242.70" stroke="#000" stroke-width="1"/>
<line x1="341.80" y1="242.70" x2="337.80" y2="242.70" stroke="#000" stroke-width="1"/>
<line x1="41.60" y1="242.20" x2="41.60" y2="238.20" stroke="#000" stroke-width="1"/>
<line x1="41.60" y1="4.20" x2="41.60" y2="8.20" stroke="#000" stroke-width="1"/>
<line x1="47.60" y1="242.20" x2="47.60" y2="239.70" stroke="#000" stroke-width="1"/>
<line x1="47.60" y1="4.20" x2="47.60" y2="6.70" stroke="#000" stroke-width="1"/>
<line x1="53.60" y1="242.20" x2="53.60" y2="239.70" stroke="#000" stroke-width="1"/>
<line x1="53.60" y1="4.20" x2="53.60" y2="6.70" stroke="#000" stroke-width="1"/>
<line x1="59.60" y1="242.20" x2="59.60" y2="239.70" stroke="#000" stroke-width="1"/>
<line x1="59.60" y1="4.20" x2="59.60" y2="6.70" stroke="#000" stroke-width="1"/>
<line x1="65.60" y1="242.20" x2="65.60" y2="239.70" stroke="#000" stroke-width="1"/>
<line x1="65.60" y1="4.20" x2="65.60" y2="6.70" stroke="#000" stroke-width="1"/>
<line x1="71.60" y1="242.20" x2="71.60" y2="238.20" stroke="#000" stroke-width="1"/>
<line x1="71.60" y1="4.20" x2="71.60" y2="8.20" stroke="#000" stroke-width="1"/>
<line x1="77.60" y1="242.20" x2="77.60" y2="239.70" stroke="#000" stroke-width="1"/>
<line x1="77.60" y1="4.20" x2="77.60" y2="6.70" stroke="#000" stroke-width="1"/>
<line x1="83.60" y1="242.20" x2="83.60" y2="239.70" stroke="#000" stroke-width="1"/>
<line x1="83.60" y1="4.20" x2="83.60" y2="6.70" stroke="#000" stroke-width="1"/>
<line x1="89.60" y1="242.20" x2="89.60" y2="239.70" stroke="#000" stroke-width="1"/>
<line x1="89.60" y1="4.20" x2="89.60" y2="6.70" stroke="#000" stroke-width="1"/>
<line x1="95.60" y1="242.20" x2="95.60" y2="239.70" stroke="#000" stroke-width="1"/>
<line x1="95.60" y1="4.20" x2="95.60" y2="6.70" stroke="#000" stroke-width="1"/>
<line x1="101.60" y1="242.20" x2="101.60" y2="238.20" stroke="#000" stroke-width="1"/>
<line x1="101.60" y1="4.20" x2="101.60" y2="8.20" stroke="#000" stroke-width="1"/>
<line x1="107.60" y1="242.20" x2="107.60" y2="239.70" stroke="#000" stroke-width="1"/>
<line x1="107.60" y1="4.20" x2="107.60" y2="6.70" stroke="#000" stroke-width="1"/>
<line x1="113.60" y1="242.20" x2="113.60" y2="239.70" stroke="#000" stroke-width="1"/>
<line x1="113.60" y1="4.20" x2="113.60" y2="6.70" stroke="#000" stroke-width="1"/>
<line x1="119.60" y1="242.20" x2="119.60" y2="239.70" stroke="#000" stroke-width="1"/>
<line x1="119.60" y1="4.20" x2="119.60" y2="6.70" stroke="#000" stroke-width="1"/>
<line x1="125.60" y1="242.20" x2="125.60" y2="239.70" stroke="#000" stroke-width="1"/>
<line x1="125.60" y1="4.20" x2="125.60" y2="6.70" stroke="#000" stroke-width="1"/>
<line x1="131.60" y1="242.20" x2="131.60" y2="238.20" stroke="#000" stroke-width="1"/>
<line x1="131.60" y1="4.20" x2="131.60" y2="8.20" stroke="#000" stroke-width="1"/>
<line x1="137.60" y1="242.20" x2="137.60" y2="239.70" stroke="#000" stroke-width="1"/>
<line x1="137.60" y1="4.20" x2="137.60" y2="6.70" stroke="#000" stroke-width="1"/>
<line x1="143.60" y1="242.20" x2="143.60" y2="239.70" stroke="#000" stroke-width="1"/>
<line x1="143.60" y1="4.20" x2="143.60" y2="6.70" stroke="#000" stroke-width="1"/>
<line x1="149.60" y1="242.20" x2="149.60" y2="239.70" stroke="#000" stroke-width="1"/>
<line x1="149.60" y1="4.20" x2="149.60" y2="6.70" stroke="#000" stroke-width="1"/>
<line x1="155.60" y1="242.20" x2="155.60" y2="239.70" stroke="#000" stroke-width="1"/>
<line x1="155.60" y1="4.20" x2="155.60" y2="6.70" stroke="#000" stroke-width="1"/>
<line x1="161.60" y1="242.20" x2="161.60" y2="238.20" stroke="#000" stroke-width="1"/>
<line x1="161.60" y1="4.20" x2="161.60" y2="8.20" stroke="#000" stroke-width="1"/>
<line x1="167.60" y1="242.20" x2="167.60" y2="239.70" stroke="#000" stroke-width="1"/>
<line x1="167.60" y1="4.20" x2="167.60" y2="6.70" stroke="#000" stroke-width="1"/>
<line x1="173.60" y1="242.20" x2="173.60" y2="239.70" stroke="#000" stroke-width="1"/>
<line x1="173.60" y1="4.20" x2="173.60" y2="6.70" stroke="#000" stroke-width="1"/>
<line x1="179.60" y1="242.20" x2="179.60" y2="239.70" stroke="#000" stroke-width="1"/>
<line x1="179.60" y1="4.20" x2="179.60" y2="6.70" stroke="#000" stroke-width="1"/>
<line x1="185.60" y1="242.20" x2="185.60" y2="239.70" stroke="#000" stroke-width="1"/>
<line x1="185.60" y1="4.20" x2="185.60" y2="6.70" stroke="#000" stroke-width="1"/>
<line x1="191.60" y1="242.20" x2="191.60" y2="238.20" stroke="#000" stroke-width="1"/>
<line x1="191.60" y1="4.20" x2="191.60" y2="8.20" stroke="#000" stroke-width="1"/>
<line x1="197.60" y1="242.20" x2="197.60" y2="239.70" stroke="#000" stroke-width="1"/>
<line x1="197.60" y1="4.20" x2="197.60" y2="6.70" stroke="#000" stroke-width="1"/>
<line x1="203.60" y1="242.20" x2="203.60" y2="239.70" stroke="#000" stroke-width="1"/>
<line x1="203.60" y1="4.20" x2="203.60" y2="6.70" stroke="#000" stroke-width="1"/>
<line x1="209.60" y1="242.20" x2="209.60" y2="239.70" stroke="#000" stroke-width="1"/>
<line x1="209.60" y1="4.20" x2="209.60" y2="6.70" stroke="#000" stroke-width="1"/>
<line x1="215.60" y1="242.20" x2="215.60" y2="239.70" stroke="#000" stroke-width="1"/>
<line x1="215.60" y1="4.20" x2="215.60" y2="6.70" stroke="#000" stroke-width="1"/>
<line x1="221.60" y1="242.20" x2="221.60" y2="238.20" stroke="#000" stroke-width="1"/>
<line x1="221.60" y1="4.20" x2="221.60" y2="8.20" stroke="#000" stroke-width="1"/>
<line x1="227.60" y1="242.20" x2="227.60" y2="239.70" stroke="#000" stroke-width="1"/>
<line x1="227.60" y1="4.20" x2="227.60" y2="6.70" stroke="#000" stroke-width="1"/>
<line x1="233.60" y1="242.20" x2="233.60" y2="239.70" stroke="#000" stroke-width="1"/>
<line x1="233.60" y1="4.20" x2="233.60" y2="6.70" stroke="#000" stroke-width="1"/>
<line x1="239.60" y1="242.20" x2="239.60" y2="239.70" stroke="#000" stroke-width="1"/>
<line x1="239.60" y1="4.20" x2="239.60" y2="6.70" stroke="#000" stroke-width="1"/>
<line x1="245.60" y1="242.20" x2="245.60" y2="239.70" stroke="#000" stroke-width="1"/>
<line x1="245.60" y1="4.20" x2="245.60" y2="6.70" stroke="#000" stroke-width="1"/>
<line x1="251.60" y1="242.20" x2="251.60" y2="238.20" stroke="#000" stroke-width="1"/>
<line x1="251.60" y1="4.20" x2="251.60" y2="8.20" stroke="#000" stroke-width="1"/>
<line x1="257.60" y1="242.20" x2="257.60" y2="239.70" stroke="#000" stroke-width="1"/>
<line x1="257.60" y1="4.20" x2="257.60" y2="6.70" stroke="#000" stroke-width="1"/>
<line x1="263.60" y1="242.20" x2="263.60" y2="239.70" stroke="#000" stroke-width="1"/>
<line x1="263.60" y1="4.20" x2="263.60" y2="6.70" stroke="#000" stroke-width="1"/>
<line x1="269.60" y1="242.20" x2="269.60" y2="239.70" stroke="#000" stroke-width="1"/>
<line x1="269.60" y1="4.20" x2="269.60" y2="6.70" stroke="#000" stroke-width="1"/>
<line x1="275.60" y1="242.20" x2="275.60" y2="239.70" stroke="#000" stroke-width="1"/>
<line x1="275.60" y1="4.20" x2="275.60" y2="6.70" stroke="#000" stroke-width="1"/>
<line x1="281.60" y1="242.20" x2="281.60" y2="238.20" stroke="#000" stroke-width="1"/>
<line x1="281.60" y1="4.20" x2="281.60" y2="8.20" stroke="#000" stroke-width="1"/>
<line x1="287.60" y1="242.20" x2="287.60" y2="239.70" stroke="#000" stroke-width="1"/>
<line x1="287.60" y1="4.20" x2="287.60" y2="6.70" stroke="#000" stroke-width="1"/>
<line x1="293.60" y1="242.20" x2="293.60" y2="239.70" stroke="#000" stroke-width="1"/>
<line x1="293.60" y1="4.20" x2="293.60" y2="6.70" stroke="#000" stroke-width="1"/>
<line x1="299.60" y1="242.20" x2="299.60" y2="239.70" stroke="#000" stroke-width="1"/>
<line x1="299.60" y1="4.20" x2="299.60" y2="6.70" stroke="#000" stroke-width="1"/>
<line x1="305.60" y1="242.20" x2="305.60" y2="239.70" stroke="#000" stroke-width="1"/>
<line x1="305.60" y1="4.20" x2="305.60" y2="6.70" stroke="#000" stroke-width="1"/>
<line x1="311.60" y1="242.20" x2="311.60" y2="238.20" stroke="#000" stroke-width="1"/>
<line x1="311.60" y1="4.20" x2="311.60" y2="8.20" stroke="#000" stroke-width="1"/>
<line x1="317.60" y1="242.20" x2="317.60" y2="239.70" stroke="#000" stroke-width="1"/>
<line x1="317.60" y1="4.20" x2="317.60" y2="6.70" stroke="#000" stroke-width="1"/>
<line x1="323.60" y1="242.20" x2="323.60" y2="239.70" stroke="#000" stroke-width="1"/>
<line x1="323.60" y1="4.20" x2="323.60" y2="6.70" stroke="#000" stroke-width="1"/>
<line x1="329.60" y1="242.20" x2="329.60" y2="239.70" stroke="#000" stroke-width="1"/>
<line x1="329.60" y1="4.20" x2="329.60" y2="6.70" stroke="#000" stroke-width="1"/>
<line x1="335.60" y1="242.20" x2="335.60" y2="239.70" stroke="#000" stroke-width="1"/>
<line x1="335.60" y1="4.20" x2="335.60" y2="6.70" stroke="#000" stroke-width="1"/>
<line x1="341.60" y1="242.20" x2="341.60" y2="238.20" stroke="#000" stroke-width="1"/>
<line x1="341.60" y1="4.20" x2="341.60" y2="8.20" stroke="#000" stroke-width="1"/>
<rect x="160.5" y="7.0" width="153.0" height="125.0" fill="#fff" stroke="#000" stroke-width="1"/>
<line x1="178.00" y1="132.00" x2="178.00" y2="135.00" stroke="#000" stroke-width="1"/>
<line x1="199.05" y1="132.00" x2="199.05" y2="134.00" stroke="#000" stroke-width="1"/>
<line x1="220.10" y1="132.00" x2="220.10" y2="135.00" stroke="#000" stroke-width="1"/>
<line x1="241.15" y1="132.00" x2="241.15" y2="134.00" stroke="#000" stroke-width="1"/>
<line x1="262.20" y1="132.00" x2="262.20" y2="135.00" stroke="#000" stroke-width="1"/>
<line x1="283.25" y1="132.00" x2="283.25" y2="134.00" stroke="#000" stroke-width="1"/>
<line x1="304.30" y1="132.00" x2="304.30" y2="135.00" stroke="#000" stroke-width="1"/>
<clipPath id="ci"><rect x="160.5" y="7.0" width="153.0" height="125.0"/></clipPath>
<g clip-path="url(#ci)">
<polyline points="162.00,99.61 162.85,100.87 163.70,100.20 164.55,100.41 165.40,100.88 166.25,100.93 167.10,100.05 167.95,100.96 168.80,100.49 169.65,100.30 170.50,100.52 171.35,99.59 172.20,99.91 173.05,100.25 173.90,100.60 174.75,100.11 175.60,100.24 176.45,100.78 177.30,101.01 178.15,100.68 179.00,100.93 179.85,100.10 180.70,100.15 181.55,100.46 182.40,100.15 183.25,100.05 184.10,101.13 184.95,100.20 185.80,99.82 186.65,100.54 187.50,101.22 188.35,100.34 189.20,100.92 190.05,100.08 190.90,100.05 191.75,99.96 192.60,100.23 193.45,101.22 194.30,99.72 195.15,101.12 196.00,99.80 196.85,100.18 197.70,100.72 198.55,100.62 199.40,100.44 200.25,99.48 201.10,100.48 201.95,99.79 202.80,101.58 203.65,100.19 204.50,100.39 205.35,99.73 206.20,100.06 207.05,99.65 207.90,100.79 208.75,100.17 209.60,100.58 210.45,99.96 211.30,100.05 212.15,100.94 213.00,99.81 213.85,99.40 214.70,100.50 215.55,99.73 216.40,100.08 217.25,100.76 218.10,99.89 218.95,100.74 219.80,99.96 220.65,101.05 221.50,100.60 222.35,99.09 223.20,98.61 224.05,97.09 224.90,96.08 225.75,95.02 226.60,91.36 227.45,89.82 228.30,85.98 229.15,82.65 230.00,78.36 230.85,75.49 231.70,68.23 232.55,58.42 233.40,47.66 234.25,41.37 235.10,35.82 235.95,36.51 236.80,40.44 237.65,44.36 238.50,51.51 239.35,60.71 240.20,68.26 241.05,74.15 241.90,77.00 242.75,79.00 243.60,81.39 244.45,82.73 245.30,84.76 246.15,86.33 247.00,88.73 247.85,90.06 248.70,91.13 249.55,91.09 250.40,93.73 251.25,93.50 252.10,92.24 252.95,90.83 253.80,89.98 254.65,89.66 255.50,86.97 256.35,85.57 257.20,84.79 258.05,84.29 258.90,83.93 259.75,84.42 260.60,85.64 261.45,88.23 262.30,89.63 263.15,90.75 264.00,91.68 264.85,93.47 265.70,95.59 266.55,96.21 267.40,98.30 268.25,98.86 269.10,99.59 269.95,100.22 270.80,100.31 271.65,99.80 272.50,100.14 273.35,101.47 274.20,99.70 275.05,100.06 275.90,100.83 276.75,100.22 277.60,99.89 278.45,99.64 279.30,100.57 280.15,100.81 281.00,101.00 281.85,100.33 282.70,100.82 283.55,99.78 284.40,100.38 285.25,99.96 286.10,100.39 286.95,100.68 287.80,100.83 288.65,99.81 289.50,100.93 290.35,100.06 291.20,99.79 292.05,100.21 292.90,99.57 293.75,100.30 294.60,100.44 295.45,100.20 296.30,100.57 297.15,100.14 298.00,100.30 298.85,99.58 299.70,100.32 300.55,99.87 301.40,100.08 302.25,100.25 303.10,100.40 303.95,99.48 304.80,99.52 305.65,100.15 306.50,100.54 307.35,100.48 308.20,100.75 309.05,100.95 309.90,100.55 310.75,100.29 311.60,99.78 312.45,99.83" fill="none" stroke="#000" stroke-width="0.8" stroke-linejoin="round" />
<circle cx="162.00" cy="99.61" r="2.4" fill="#222" stroke="#000" stroke-width="1.3"/>
<circle cx="161.40" cy="98.61" r="0.9" fill="#aaa"/>
<circle cx="162.85" cy="100.87" r="2.4" fill="#222" stroke="#000" stroke-width="1.3"/>
<circle cx="162.25" cy="99.87" r="0.9" fill="#aaa"/>
<circle cx="163.70" cy="100.20" r="2.4" fill="#222" stroke="#000" stroke-width="1.3"/>
<circle cx="163.10" cy="99.20" r="0.9" fill="#aaa"/>
<circle cx="164.55" cy="100.41" r="2.4" fill="#222" stroke="#000" stroke-width="1.3"/>
<circle cx="163.95" cy="99.41" r="0.9" fill="#aaa"/>
<circle cx="165.40" cy="100.88" r="2.4" fill="#222" stroke="#000" stroke-width="1.3"/>
<circle cx="164.80" cy="99.88" r="0.9" fill="#aaa"/>
<circle cx="166.25" cy="100.93" r="2.4" fill="#222" stroke="#000" stroke-width="1.3"/>
<circle cx="165.65" cy="99.93" r="0.9" fill="#aaa"/>
<circle cx="167.10" cy="100.05" r="2.4" fill="#222" stroke="#000" stroke-width="1.3"/>
<circle cx="166.50" cy="99.05" r="0.9" fill="#aaa"/>
<circle cx="167.95" cy="100.96" r="2.4" fill="#222" stroke="#000" stroke-width="1.3"/>
<circle cx="167.35" cy="99.96" r="0.9" fill="#aaa"/>
<circle cx="168.80" cy="100.49" r="2.4" fill="#222" stroke="#000" stroke-width="1.3"/>
<circle cx="168.20" cy="99.49" r="0.9" fill="#aaa"/>
<circle cx="169.65" cy="100.30" r="2.4" fill="#222" stroke="#000" stroke-width="1.3"/>
<circle cx="169.05" cy="99.30" r="0.9" fill="#aaa"/>
<circle cx="170.50" cy="100.52" r="2.4" fill="#222" stroke="#000" stroke-width="1.3"/>
<circle cx="169.90" cy="99.52" r="0.9" fill="#aaa"/>
<circle cx="171.35" cy="99.59" r="2.4" fill="#222" stroke="#000" stroke-width="1.3"/>
<circle cx="170.75" cy="98.59" r="0.9" fill="#aaa"/>
<circle cx="172.20" cy="99.91" r="2.4" fill="#222" stroke="#000" stroke-width="1.3"/>
<circle cx="171.60" cy="98.91" r="0.9" fill="#aaa"/>
<circle cx="173.05" cy="100.25" r="2.4" fill="#222" stroke="#000" stroke-width="1.3"/>
<circle cx="172.45" cy="99.25" r="0.9" fill="#aaa"/>
<circle cx="173.90" cy="100.60" r="2.4" fill="#222" stroke="#000" stroke-width="1.3"/>
<circle cx="173.30" cy="99.60" r="0.9" fill="#aaa"/>
<circle cx="174.75" cy="100.11" r="2.4" fill="#222" stroke="#000" stroke-width="1.3"/>
<circle cx="174.15" cy="99.11" r="0.9" fill="#aaa"/>
<circle cx="175.60" cy="100.24" r="2.4" fill="#222" stroke="#000" stroke-width="1.3"/>
<circle cx="175.00" cy="99.24" r="0.9" fill="#aaa"/>
<circle cx="176.45" cy="100.78" r="2.4" fill="#222" stroke="#000" stroke-width="1.3"/>
<circle cx="175.85" cy="99.78" r="0.9" fill="#aaa"/>
<circle cx="177.30" cy="101.01" r="2.4" fill="#222" stroke="#000" stroke-width="1.3"/>
<circle cx="176.70" cy="100.01" r="0.9" fill="#aaa"/>
<circle cx="178.15" cy="100.68" r="2.4" fill="#222" stroke="#000" stroke-width="1.3"/>
<circle cx="177.55" cy="99.68" r="0.9" fill="#aaa"/>
<circle cx="179.00" cy="100.93" r="2.4" fill="#222" stroke="#000" stroke-width="1.3"/>
<circle cx="178.40" cy="99.93" r="0.9" fill="#aaa"/>
<circle cx="179.85" cy="100.10" r="2.4" fill="#222" stroke="#000" stroke-width="1.3"/>
<circle cx="179.25" cy="99.10" r="0.9" fill="#aaa"/>
<circle cx="180.70" cy="100.15" r="2.4" fill="#222" stroke="#000" stroke-width="1.3"/>
<circle cx="180.10" cy="99.15" r="0.9" fill="#aaa"/>
<circle cx="181.55" cy="100.46" r="2.4" fill="#222" stroke="#000" stroke-width="1.3"/>
<circle cx="180.95" cy="99.46" r="0.9" fill="#aaa"/>
<circle cx="182.40" cy="100.15" r="2.4" fill="#222" stroke="#000" stroke-width="1.3"/>
<circle cx="181.80" cy="99.15" r="0.9" fill="#aaa"/>
<circle cx="183.25" cy="100.05" r="2.4" fill="#222" stroke="#000" stroke-width="1.3"/>
<circle cx="182.65" cy="99.05" r="0.9" fill="#aaa"/>
<circle cx="184.10" cy="101.13" r="2.4" fill="#222" stroke="#000" stroke-width="1.3"/>
<circle cx="183.50" cy="100.13" r="0.9" fill="#aaa"/>
<circle cx="184.95" cy="100.20" r="2.4" fill="#222" stroke="#000" stroke-width="1.3"/>
<circle cx="184.35" cy="99.20" r="0.9" fill="#aaa"/>
<circle cx="185.80" cy="99.82" r="2.4" fill="#222" stroke="#000" stroke-width="1.3"/>
<circle cx="185.20" cy="98.82" r="0.9" fill="#aaa"/>
<circle cx="186.65" cy="100.54" r="2.4" fill="#222" stroke="#000" stroke-width="1.3"/>
<circle cx="186.05" cy="99.54" r="0.9" fill="#aaa"/>
<circle cx="187.50" cy="101.22" r="2.4" fill="#222" stroke="#000" stroke-width="1.3"/>
<circle cx="186.90" cy="100.22" r="0.9" fill="#aaa"/>
<circle cx="188.35" cy="100.34" r="2.4" fill="#222" stroke="#000" stroke-width="1.3"/>
<circle cx="187.75" cy="99.34" r="0.9" fill="#aaa"/>
<circle cx="189.20" cy="100.92" r="2.4" fill="#222" stroke="#000" stroke-width="1.3"/>
<circle cx="188.60" cy="99.92" r="0.9" fill="#aaa"/>
<circle cx="190.05" cy="100.08" r="2.4" fill="#222" stroke="#000" stroke-width="1.3"/>
<circle cx="189.45" cy="99.08" r="0.9" fill="#aaa"/>
<circle cx="190.90" cy="100.05" r="2.4" fill="#222" stroke="#000" stroke-width="1.3"/>
<circle cx="190.30" cy="99.05" r="0.9" fill="#aaa"/>
<circle cx="191.75" cy="99.96" r="2.4" fill="#222" stroke="#000" stroke-width="1.3"/>
<circle cx="191.15" cy="98.96" r="0.9" fill="#aaa"/>
<circle cx="192.60" cy="100.23" r="2.4" fill="#222" stroke="#000" stroke-width="1.3"/>
<circle cx="192.00" cy="99.23" r="0.9" fill="#aaa"/>
<circle cx="193.45" cy="101.22" r="2.4" fill="#222" stroke="#000" stroke-width="1.3"/>
<circle cx="192.85" cy="100.22" r="0.9" fill="#aaa"/>
<circle cx="194.30" cy="99.72" r="2.4" fill="#222" stroke="#000" stroke-width="1.3"/>
<circle cx="193.70" cy="98.72" r="0.9" fill="#aaa"/>
<circle cx="195.15" cy="101.12" r="2.4" fill="#222" stroke="#000" stroke-width="1.3"/>
<circle cx="194.55" cy="100.12" r="0.9" fill="#aaa"/>
<circle cx="196.00" cy="99.80" r="2.4" fill="#222" stroke="#000" stroke-width="1.3"/>
<circle cx="195.40" cy="98.80" r="0.9" fill="#aaa"/>
<circle cx="196.85" cy="100.18" r="2.4" fill="#222" stroke="#000" stroke-width="1.3"/>
<circle cx="196.25" cy="99.18" r="0.9" fill="#aaa"/>
<circle cx="197.70" cy="100.72" r="2.4" fill="#222" stroke="#000" stroke-width="1.3"/>
<circle cx="197.10" cy="99.72" r="0.9" fill="#aaa"/>
<circle cx="198.55" cy="100.62" r="2.4" fill="#222" stroke="#000" stroke-width="1.3"/>
<circle cx="197.95" cy="99.62" r="0.9" fill="#aaa"/>
<circle cx="199.40" cy="100.44" r="2.4" fill="#222" stroke="#000" stroke-width="1.3"/>
<circle cx="198.80" cy="99.44" r="0.9" fill="#aaa"/>
<circle cx="200.25" cy="99.48" r="2.4" fill="#222" stroke="#000" stroke-width="1.3"/>
<circle cx="199.65" cy="98.48" r="0.9" fill="#aaa"/>
<circle cx="201.10" cy="100.48" r="2.4" fill="#222" stroke="#000" stroke-width="1.3"/>
<circle cx="200.50" cy="99.48" r="0.9" fill="#aaa"/>
<circle cx="201.95" cy="99.79" r="2.4" fill="#222" stroke="#000" stroke-width="1.3"/>
<circle cx="201.35" cy="98.79" r="0.9" fill="#aaa"/>
<circle cx="202.80" cy="101.58" r="2.4" fill="#222" stroke="#000" stroke-width="1.3"/>
<circle cx="202.20" cy="100.58" r="0.9" fill="#aaa"/>
<circle cx="203.65" cy="100.19" r="2.4" fill="#222" stroke="#000" stroke-width="1.3"/>
<circle cx="203.05" cy="99.19" r="0.9" fill="#aaa"/>
<circle cx="204.50" cy="100.39" r="2.4" fill="#222" stroke="#000" stroke-width="1.3"/>
<circle cx="203.90" cy="99.39" r="0.9" fill="#aaa"/>
<circle cx="205.35" cy="99.73" r="2.4" fill="#222" stroke="#000" stroke-width="1.3"/>
<circle cx="204.75" cy="98.73" r="0.9" fill="#aaa"/>
<circle cx="206.20" cy="100.06" r="2.4" fill="#222" stroke="#000" stroke-width="1.3"/>
<circle cx="205.60" cy="99.06" r="0.9" fill="#aaa"/>
<circle cx="207.05" cy="99.65" r="2.4" fill="#222" stroke="#000" stroke-width="1.3"/>
<circle cx="206.45" cy="98.65" r="0.9" fill="#aaa"/>
<circle cx="207.90" cy="100.79" r="2.4" fill="#222" stroke="#000" stroke-width="1.3"/>
<circle cx="207.30" cy="99.79" r="0.9" fill="#aaa"/>
<circle cx="208.75" cy="100.17" r="2.4" fill="#222" stroke="#000" stroke-width="1.3"/>
<circle cx="208.15" cy="99.17" r="0.9" fill="#aaa"/>
<circle cx="209.60" cy="100.58" r="2.4" fill="#222" stroke="#000" stroke-width="1.3"/>
<circle cx="209.00" cy="99.58" r="0.9" fill="#aaa"/>
<circle cx="210.45" cy="99.96" r="2.4" fill="#222" stroke="#000" stroke-width="1.3"/>
<circle cx="209.85" cy="98.96" r="0.9" fill="#aaa"/>
<circle cx="211.30" cy="100.05" r="2.4" fill="#222" stroke="#000" stroke-width="1.3"/>
<circle cx="210.70" cy="99.05" r="0.9" fill="#aaa"/>
<circle cx="212.15" cy="100.94" r="2.4" fill="#222" stroke="#000" stroke-width="1.3"/>
<circle cx="211.55" cy="99.94" r="0.9" fill="#aaa"/>
<circle cx="213.00" cy="99.81" r="2.4" fill="#222" stroke="#000" stroke-width="1.3"/>
<circle cx="212.40" cy="98.81" r="0.9" fill="#aaa"/>
<circle cx="213.85" cy="99.40" r="2.4" fill="#222" stroke="#000" stroke-width="1.3"/>
<circle cx="213.25" cy="98.40" r="0.9" fill="#aaa"/>
<circle cx="214.70" cy="100.50" r="2.4" fill="#222" stroke="#000" stroke-width="1.3"/>
<circle cx="214.10" cy="99.50" r="0.9" fill="#aaa"/>
<circle cx="215.55" cy="99.73" r="2.4" fill="#222" stroke="#000" stroke-width="1.3"/>
<circle cx="214.95" cy="98.73" r="0.9" fill="#aaa"/>
<circle cx="216.40" cy="100.08" r="2.4" fill="#222" stroke="#000" stroke-width="1.3"/>
<circle cx="215.80" cy="99.08" r="0.9" fill="#aaa"/>
<circle cx="217.25" cy="100.76" r="2.4" fill="#222" stroke="#000" stroke-width="1.3"/>
<circle cx="216.65" cy="99.76" r="0.9" fill="#aaa"/>
<circle cx="218.10" cy="99.89" r="2.4" fill="#222" stroke="#000" stroke-width="1.3"/>
<circle cx="217.50" cy="98.89" r="0.9" fill="#aaa"/>
<circle cx="218.95" cy="100.74" r="2.4" fill="#222" stroke="#000" stroke-width="1.3"/>
<circle cx="218.35" cy="99.74" r="0.9" fill="#aaa"/>
<circle cx="219.80" cy="99.96" r="2.4" fill="#222" stroke="#000" stroke-width="1.3"/>
<circle cx="219.20" cy="98.96" r="0.9" fill="#aaa"/>
<circle cx="220.65" cy="101.05" r="2.4" fill="#222" stroke="#000" stroke-width="1.3"/>
<circle cx="220.05" cy="100.05" r="0.9" fill="#aaa"/>
<circle cx="221.50" cy="100.60" r="2.4" fill="#222" stroke="#000" stroke-width="1.3"/>
<circle cx="220.90" cy="99.60" r="0.9" fill="#aaa"/>
<circle cx="222.35" cy="99.09" r="2.4" fill="#222" stroke="#000" stroke-width="1.3"/>
<circle cx="221.75" cy="98.09" r="0.9" fill="#aaa"/>
<circle cx="223.20" cy="98.61" r="2.4" fill="#222" stroke="#000" stroke-width="1.3"/>
<circle cx="222.60" cy="97.61" r="0.9" fill="#aaa"/>
<circle cx="224.05" cy="97.09" r="2.4" fill="#222" stroke="#000" stroke-width="1.3"/>
<circle cx="223.45" cy="96.09" r="0.9" fill="#aaa"/>
<circle cx="224.90" cy="96.08" r="2.4" fill="#222" stroke="#000" stroke-width="1.3"/>
<circle cx="224.30" cy="95.08" r="0.9" fill="#aaa"/>
<circle cx="225.75" cy="95.02" r="2.4" fill="#222" stroke="#000" stroke-width="1.3"/>
<circle cx="225.15" cy="94.02" r="0.9" fill="#aaa"/>
<circle cx="226.60" cy="91.36" r="2.4" fill="#222" stroke="#000" stroke-width="1.3"/>
<circle cx="226.00" cy="90.36" r="0.9" fill="#aaa"/>
<circle cx="227.45" cy="89.82" r="2.4" fill="#222" stroke="#000" stroke-width="1.3"/>
<circle cx="226.85" cy="88.82" r="0.9" fill="#aaa"/>
<circle cx="228.30" cy="85.98" r="2.4" fill="#222" stroke="#000" stroke-width="1.3"/>
<circle cx="227.70" cy="84.98" r="0.9" fill="#aaa"/>
<circle cx="229.15" cy="82.65" r="2.4" fill="#222" stroke="#000" stroke-width="1.3"/>
<circle cx="228.55" cy="81.65" r="0.9" fill="#aaa"/>
<circle cx="230.00" cy="78.36" r="2.4" fill="#222" stroke="#000" stroke-width="1.3"/>
<circle cx="229.40" cy="77.36" r="0.9" fill="#aaa"/>
<circle cx="230.85" cy="75.49" r="2.4" fill="#222" stroke="#000" stroke-width="1.3"/>
<circle cx="230.25" cy="74.49" r="0.9" fill="#aaa"/>
<circle cx="231.70" cy="68.23" r="2.4" fill="#222" stroke="#000" stroke-width="1.3"/>
<circle cx="231.10" cy="67.23" r="0.9" fill="#aaa"/>
<circle cx="232.55" cy="58.42" r="2.4" fill="#222" stroke="#000" stroke-width="1.3"/>
<circle cx="231.95" cy="57.42" r="0.9" fill="#aaa"/>
<circle cx="233.40" cy="47.66" r="2.4" fill="#222" stroke="#000" stroke-width="1.3"/>
<circle cx="232.80" cy="46.66" r="0.9" fill="#aaa"/>
<circle cx="234.25" cy="41.37" r="2.4" fill="#222" stroke="#000" stroke-width="1.3"/>
<circle cx="233.65" cy="40.37" r="0.9" fill="#aaa"/>
<circle cx="235.10" cy="35.82" r="2.4" fill="#222" stroke="#000" stroke-width="1.3"/>
<circle cx="234.50" cy="34.82" r="0.9" fill="#aaa"/>
<circle cx="235.95" cy="36.51" r="2.4" fill="#222" stroke="#000" stroke-width="1.3"/>
<circle cx="235.35" cy="35.51" r="0.9" fill="#aaa"/>
<circle cx="236.80" cy="40.44" r="2.4" fill="#222" stroke="#000" stroke-width="1.3"/>
<circle cx="236.20" cy="39.44" r="0.9" fill="#aaa"/>
<circle cx="237.65" cy="44.36" r="2.4" fill="#222" stroke="#000" stroke-width="1.3"/>
<circle cx="237.05" cy="43.36" r="0.9" fill="#aaa"/>
<circle cx="238.50" cy="51.51" r="2.4" fill="#222" stroke="#000" stroke-width="1.3"/>
<circle cx="237.90" cy="50.51" r="0.9" fill="#aaa"/>
<circle cx="239.35" cy="60.71" r="2.4" fill="#222" stroke="#000" stroke-width="1.3"/>
<circle cx="238.75" cy="59.71" r="0.9" fill="#aaa"/>
<circle cx="240.20" cy="68.26" r="2.4" fill="#222" stroke="#000" stroke-width="1.3"/>
<circle cx="239.60" cy="67.26" r="0.9" fill="#aaa"/>
<circle cx="241.05" cy="74.15" r="2.4" fill="#222" stroke="#000" stroke-width="1.3"/>
<circle cx="240.45" cy="73.15" r="0.9" fill="#aaa"/>
<circle cx="241.90" cy="77.00" r="2.4" fill="#222" stroke="#000" stroke-width="1.3"/>
<circle cx="241.30" cy="76.00" r="0.9" fill="#aaa"/>
<circle cx="242.75" cy="79.00" r="2.4" fill="#222" stroke="#000" stroke-width="1.3"/>
<circle cx="242.15" cy="78.00" r="0.9" fill="#aaa"/>
<circle cx="243.60" cy="81.39" r="2.4" fill="#222" stroke="#000" stroke-width="1.3"/>
<circle cx="243.00" cy="80.39" r="0.9" fill="#aaa"/>
<circle cx="244.45" cy="82.73" r="2.4" fill="#222" stroke="#000" stroke-width="1.3"/>
<circle cx="243.85" cy="81.73" r="0.9" fill="#aaa"/>
<circle cx="245.30" cy="84.76" r="2.4" fill="#222" stroke="#000" stroke-width="1.3"/>
<circle cx="244.70" cy="83.76" r="0.9" fill="#aaa"/>
<circle cx="246.15" cy="86.33" r="2.4" fill="#222" stroke="#000" stroke-width="1.3"/>
<circle cx="245.55" cy="85.33" r="0.9" fill="#aaa"/>
<circle cx="247.00" cy="88.73" r="2.4" fill="#222" stroke="#000" stroke-width="1.3"/>
<circle cx="246.40" cy="87.73" r="0.9" fill="#aaa"/>
<circle cx="247.85" cy="90.06" r="2.4" fill="#222" stroke="#000" stroke-width="1.3"/>
<circle cx="247.25" cy="89.06" r="0.9" fill="#aaa"/>
<circle cx="248.70" cy="91.13" r="2.4" fill="#222" stroke="#000" stroke-width="1.3"/>
<circle cx="248.10" cy="90.13" r="0.9" fill="#aaa"/>
<circle cx="249.55" cy="91.09" r="2.4" fill="#222" stroke="#000" stroke-width="1.3"/>
<circle cx="248.95" cy="90.09" r="0.9" fill="#aaa"/>
<circle cx="250.40" cy="93.73" r="2.4" fill="#222" stroke="#000" stroke-width="1.3"/>
<circle cx="249.80" cy="92.73" r="0.9" fill="#aaa"/>
<circle cx="251.25" cy="93.50" r="2.4" fill="#222" stroke="#000" stroke-width="1.3"/>
<circle cx="250.65" cy="92.50" r="0.9" fill="#aaa"/>
<circle cx="252.10" cy="92.24" r="2.4" fill="#222" stroke="#000" stroke-width="1.3"/>
<circle cx="251.50" cy="91.24" r="0.9" fill="#aaa"/>
<circle cx="252.95" cy="90.83" r="2.4" fill="#222" stroke="#000" stroke-width="1.3"/>
<circle cx="252.35" cy="89.83" r="0.9" fill="#aaa"/>
<circle cx="253.80" cy="89.98" r="2.4" fill="#222" stroke="#000" stroke-width="1.3"/>
<circle cx="253.20" cy="88.98" r="0.9" fill="#aaa"/>
<circle cx="254.65" cy="89.66" r="2.4" fill="#222" stroke="#000" stroke-width="1.3"/>
<circle cx="254.05" cy="88.66" r="0.9" fill="#aaa"/>
<circle cx="255.50" cy="86.97" r="2.4" fill="#222" stroke="#000" stroke-width="1.3"/>
<circle cx="254.90" cy="85.97" r="0.9" fill="#aaa"/>
<circle cx="256.35" cy="85.57" r="2.4" fill="#222" stroke="#000" stroke-width="1.3"/>
<circle cx="255.75" cy="84.57" r="0.9" fill="#aaa"/>
<circle cx="257.20" cy="84.79" r="2.4" fill="#222" stroke="#000" stroke-width="1.3"/>
<circle cx="256.60" cy="83.79" r="0.9" fill="#aaa"/>
<circle cx="258.05" cy="84.29" r="2.4" fill="#222" stroke="#000" stroke-width="1.3"/>
<circle cx="257.45" cy="83.29" r="0.9" fill="#aaa"/>
<circle cx="258.90" cy="83.93" r="2.4" fill="#222" stroke="#000" stroke-width="1.3"/>
<circle cx="258.30" cy="82.93" r="0.9" fill="#aaa"/>
<circle cx="259.75" cy="84.42" r="2.4" fill="#222" stroke="#000" stroke-width="1.3"/>
<circle cx="259.15" cy="83.42" r="0.9" fill="#aaa"/>
<circle cx="260.60" cy="85.64" r="2.4" fill="#222" stroke="#000" stroke-width="1.3"/>
<circle cx="260.00" cy="84.64" r="0.9" fill="#aaa"/>
<circle cx="261.45" cy="88.23" r="2.4" fill="#222" stroke="#000" stroke-width="1.3"/>
<circle cx="260.85" cy="87.23" r="0.9" fill="#aaa"/>
<circle cx="262.30" cy="89.63" r="2.4" fill="#222" stroke="#000" stroke-width="1.3"/>
<circle cx="261.70" cy="88.63" r="0.9" fill="#aaa"/>
<circle cx="263.15" cy="90.75" r="2.4" fill="#222" stroke="#000" stroke-width="1.3"/>
<circle cx="262.55" cy="89.75" r="0.9" fill="#aaa"/>
<circle cx="264.00" cy="91.68" r="2.4" fill="#222" stroke="#000" stroke-width="1.3"/>
<circle cx="263.40" cy="90.68" r="0.9" fill="#aaa"/>
<circle cx="264.85" cy="93.47" r="2.4" fill="#222" stroke="#000" stroke-width="1.3"/>
<circle cx="264.25" cy="92.47" r="0.9" fill="#aaa"/>
<circle cx="265.70" cy="95.59" r="2.4" fill="#222" stroke="#000" stroke-width="1.3"/>
<circle cx="265.10" cy="94.59" r="0.9" fill="#aaa"/>
<circle cx="266.55" cy="96.21" r="2.4" fill="#222" stroke="#000" stroke-width="1.3"/>
<circle cx="265.95" cy="95.21" r="0.9" fill="#aaa"/>
<circle cx="267.40" cy="98.30" r="2.4" fill="#222" stroke="#000" stroke-width="1.3"/>
<circle cx="266.80" cy="97.30" r="0.9" fill="#aaa"/>
<circle cx="268.25" cy="98.86" r="2.4" fill="#222" stroke="#000" stroke-width="1.3"/>
<circle cx="267.65" cy="97.86" r="0.9" fill="#aaa"/>
<circle cx="269.10" cy="99.59" r="2.4" fill="#222" stroke="#000" stroke-width="1.3"/>
<circle cx="268.50" cy="98.59" r="0.9" fill="#aaa"/>
<circle cx="269.95" cy="100.22" r="2.4" fill="#222" stroke="#000" stroke-width="1.3"/>
<circle cx="269.35" cy="99.22" r="0.9" fill="#aaa"/>
<circle cx="270.80" cy="100.31" r="2.4" fill="#222" stroke="#000" stroke-width="1.3"/>
<circle cx="270.20" cy="99.31" r="0.9" fill="#aaa"/>
<circle cx="271.65" cy="99.80" r="2.4" fill="#222" stroke="#000" stroke-width="1.3"/>
<circle cx="271.05" cy="98.80" r="0.9" fill="#aaa"/>
<circle cx="272.50" cy="100.14" r="2.4" fill="#222" stroke="#000" stroke-width="1.3"/>
<circle cx="271.90" cy="99.14" r="0.9" fill="#aaa"/>
<circle cx="273.35" cy="101.47" r="2.4" fill="#222" stroke="#000" stroke-width="1.3"/>
<circle cx="272.75" cy="100.47" r="0.9" fill="#aaa"/>
<circle cx="274.20" cy="99.70" r="2.4" fill="#222" stroke="#000" stroke-width="1.3"/>
<circle cx="273.60" cy="98.70" r="0.9" fill="#aaa"/>
<circle cx="275.05" cy="100.06" r="2.4" fill="#222" stroke="#000" stroke-width="1.3"/>
<circle cx="274.45" cy="99.06" r="0.9" fill="#aaa"/>
<circle cx="275.90" cy="100.83" r="2.4" fill="#222" stroke="#000" stroke-width="1.3"/>
<circle cx="275.30" cy="99.83" r="0.9" fill="#aaa"/>
<circle cx="276.75" cy="100.22" r="2.4" fill="#222" stroke="#000" stroke-width="1.3"/>
<circle cx="276.15" cy="99.22" r="0.9" fill="#aaa"/>
<circle cx="277.60" cy="99.89" r="2.4" fill="#222" stroke="#000" stroke-width="1.3"/>
<circle cx="277.00" cy="98.89" r="0.9" fill="#aaa"/>
<circle cx="278.45" cy="99.64" r="2.4" fill="#222" stroke="#000" stroke-width="1.3"/>
<circle cx="277.85" cy="98.64" r="0.9" fill="#aaa"/>
<circle cx="279.30" cy="100.57" r="2.4" fill="#222" stroke="#000" stroke-width="1.3"/>
<circle cx="278.70" cy="99.57" r="0.9" fill="#aaa"/>
<circle cx="280.15" cy="100.81" r="2.4" fill="#222" stroke="#000" stroke-width="1.3"/>
<circle cx="279.55" cy="99.81" r="0.9" fill="#aaa"/>
<circle cx="281.00" cy="101.00" r="2.4" fill="#222" stroke="#000" stroke-width="1.3"/>
<circle cx="280.40" cy="100.00" r="0.9" fill="#aaa"/>
<circle cx="281.85" cy="100.33" r="2.4" fill="#222" stroke="#000" stroke-width="1.3"/>
<circle cx="281.25" cy="99.33" r="0.9" fill="#aaa"/>
<circle cx="282.70" cy="100.82" r="2.4" fill="#222" stroke="#000" stroke-width="1.3"/>
<circle cx="282.10" cy="99.82" r="0.9" fill="#aaa"/>
<circle cx="283.55" cy="99.78" r="2.4" fill="#222" stroke="#000" stroke-width="1.3"/>
<circle cx="282.95" cy="98.78" r="0.9" fill="#aaa"/>
<circle cx="284.40" cy="100.38" r="2.4" fill="#222" stroke="#000" stroke-width="1.3"/>
<circle cx="283.80" cy="99.38" r="0.9" fill="#aaa"/>
<circle cx="285.25" cy="99.96" r="2.4" fill="#222" stroke="#000" stroke-width="1.3"/>
<circle cx="284.65" cy="98.96" r="0.9" fill="#aaa"/>
<circle cx="286.10" cy="100.39" r="2.4" fill="#222" stroke="#000" stroke-width="1.3"/>
<circle cx="285.50" cy="99.39" r="0.9" fill="#aaa"/>
<circle cx="286.95" cy="100.68" r="2.4" fill="#222" stroke="#000" stroke-width="1.3"/>
<circle cx="286.35" cy="99.68" r="0.9" fill="#aaa"/>
<circle cx="287.80" cy="100.83" r="2.4" fill="#222" stroke="#000" stroke-width="1.3"/>
<circle cx="287.20" cy="99.83" r="0.9" fill="#aaa"/>
<circle cx="288.65" cy="99.81" r="2.4" fill="#222" stroke="#000" stroke-width="1.3"/>
<circle cx="288.05" cy="98.81" r="0.9" fill="#aaa"/>
<circle cx="289.50" cy="100.93" r="2.4" fill="#222" stroke="#000" stroke-width="1.3"/>
<circle cx="288.90" cy="99.93" r="0.9" fill="#aaa"/>
<circle cx="290.35" cy="100.06" r="2.4" fill="#222" stroke="#000" stroke-width="1.3"/>
<circle cx="289.75" cy="99.06" r="0.9" fill="#aaa"/>
<circle cx="291.20" cy="99.79" r="2.4" fill="#222" stroke="#000" stroke-width="1.3"/>
<circle cx="290.60" cy="98.79" r="0.9" fill="#aaa"/>
<circle cx="292.05" cy="100.21" r="2.4" fill="#222" stroke="#000" stroke-width="1.3"/>
<circle cx="291.45" cy="99.21" r="0.9" fill="#aaa"/>
<circle cx="292.90" cy="99.57" r="2.4" fill="#222" stroke="#000" stroke-width="1.3"/>
<circle cx="292.30" cy="98.57" r="0.9" fill="#aaa"/>
<circle cx="293.75" cy="100.30" r="2.4" fill="#222" stroke="#000" stroke-width="1.3"/>
<circle cx="293.15" cy="99.30" r="0.9" fill="#aaa"/>
<circle cx="294.60" cy="100.44" r="2.4" fill="#222" stroke="#000" stroke-width="1.3"/>
<circle cx="294.00" cy="99.44" r="0.9" fill="#aaa"/>
<circle cx="295.45" cy="100.20" r="2.4" fill="#222" stroke="#000" stroke-width="1.3"/>
<circle cx="294.85" cy="99.20" r="0.9" fill="#aaa"/>
<circle cx="296.30" cy="100.57" r="2.4" fill="#222" stroke="#000" stroke-width="1.3"/>
<circle cx="295.70" cy="99.57" r="0.9" fill="#aaa"/>
<circle cx="297.15" cy="100.14" r="2.4" fill="#222" stroke="#000" stroke-width="1.3"/>
<circle cx="296.55" cy="99.14" r="0.9" fill="#aaa"/>
<circle cx="298.00" cy="100.30" r="2.4" fill="#222" stroke="#000" stroke-width="1.3"/>
<circle cx="297.40" cy="99.30" r="0.9" fill="#aaa"/>
<circle cx="298.85" cy="99.58" r="2.4" fill="#222" stroke="#000" stroke-width="1.3"/>
<circle cx="298.25" cy="98.58" r="0.9" fill="#aaa"/>
<circle cx="299.70" cy="100.32" r="2.4" fill="#222" stroke="#000" stroke-width="1.3"/>
<circle cx="299.10" cy="99.32" r="0.9" fill="#aaa"/>
<circle cx="300.55" cy="99.87" r="2.4" fill="#222" stroke="#000" stroke-width="1.3"/>
<circle cx="299.95" cy="98.87" r="0.9" fill="#aaa"/>
<circle cx="301.40" cy="100.08" r="2.4" fill="#222" stroke="#000" stroke-width="1.3"/>
<circle cx="300.80" cy="99.08" r="0.9" fill="#aaa"/>
<circle cx="302.25" cy="100.25" r="2.4" fill="#222" stroke="#000" stroke-width="1.3"/>
<circle cx="301.65" cy="99.25" r="0.9" fill="#aaa"/>
<circle cx="303.10" cy="100.40" r="2.4" fill="#222" stroke="#000" stroke-width="1.3"/>
<circle cx="302.50" cy="99.40" r="0.9" fill="#aaa"/>
<circle cx="303.95" cy="99.48" r="2.4" fill="#222" stroke="#000" stroke-width="1.3"/>
<circle cx="303.35" cy="98.48" r="0.9" fill="#aaa"/>
<circle cx="304.80" cy="99.52" r="2.4" fill="#222" stroke="#000" stroke-width="1.3"/>
<circle cx="304.20" cy="98.52" r="0.9" fill="#aaa"/>
<circle cx="305.65" cy="100.15" r="2.4" fill="#222" stroke="#000" stroke-width="1.3"/>
<circle cx="305.05" cy="99.15" r="0.9" fill="#aaa"/>
<circle cx="306.50" cy="100.54" r="2.4" fill="#222" stroke="#000" stroke-width="1.3"/>
<circle cx="305.90" cy="99.54" r="0.9" fill="#aaa"/>
<circle cx="307.35" cy="100.48" r="2.4" fill="#222" stroke="#000" stroke-width="1.3"/>
<circle cx="306.75" cy="99.48" r="0.9" fill="#aaa"/>
<circle cx="308.20" cy="100.75" r="2.4" fill="#222" stroke="#000" stroke-width="1.3"/>
<circle cx="307.60" cy="99.75" r="0.9" fill="#aaa"/>
<circle cx="309.05" cy="100.95" r="2.4" fill="#222" stroke="#000" stroke-width="1.3"/>
<circle cx="308.45" cy="99.95" r="0.9" fill="#aaa"/>
<circle cx="309.90" cy="100.55" r="2.4" fill="#222" stroke="#000" stroke-width="1.3"/>
<circle cx="309.30" cy="99.55" r="0.9" fill="#aaa"/>
<circle cx="310.75" cy="100.29" r="2.4" fill="#222" stroke="#000" stroke-width="1.3"/>
<circle cx="310.15" cy="99.29" r="0.9" fill="#aaa"/>
<circle cx="311.60" cy="99.78" r="2.4" fill="#222" stroke="#000" stroke-width="1.3"/>
<circle cx="311.00" cy="98.78" r="0.9" fill="#aaa"/>
<circle cx="312.45" cy="99.83" r="2.4" fill="#222" stroke="#000" stroke-width="1.3"/>
<circle cx="311.85" cy="98.83" r="0.9" fill="#aaa"/>
<polyline points="162.00,128.33 162.85,128.58 163.70,128.56 164.55,128.48 165.40,128.43 166.25,128.70 167.10,128.55 167.95,128.57 168.80,128.57 169.65,128.27 170.50,128.10 171.35,128.63 172.20,128.60 173.05,128.37 173.90,128.30 174.75,129.24 175.60,128.17 176.45,128.36 177.30,128.52 178.15,128.02 179.00,128.46 179.85,129.05 180.70,128.74 181.55,128.63 182.40,128.62 183.25,128.45 184.10,128.74 184.95,128.34 185.80,128.25 186.65,128.43 187.50,128.71 188.35,128.50 189.20,128.62 190.05,127.67 190.90,128.79 191.75,129.19 192.60,128.83 193.45,128.25 194.30,128.06 195.15,128.45 196.00,128.01 196.85,128.60 197.70,128.16 198.55,128.68 199.40,128.82 200.25,127.62 201.10,128.44 201.95,128.08 202.80,127.83 203.65,128.11 204.50,128.24 205.35,128.68 206.20,127.78 207.05,128.68 207.90,129.01 208.75,128.51 209.60,128.13 210.45,127.43 211.30,126.51 212.15,126.41 213.00,124.80 213.85,123.36 214.70,122.45 215.55,119.97 216.40,117.88 217.25,116.30 218.10,113.30 218.95,111.38 219.80,109.67 220.65,107.59 221.50,105.64 222.35,102.57 223.20,100.57 224.05,97.61 224.90,94.37 225.70,93.00 226.50,87.00 227.50,79.00 228.30,67.50 228.60,53.50 229.00,39.50 229.50,23.70 229.90,15.80 230.30,9.90 231.60,23.70 233.80,40.00 234.60,55.00 235.20,70.00 235.70,84.00 236.00,93.00 236.10,100.30 236.20,107.60 236.40,114.30 236.90,119.60 237.65,116.70 238.50,120.39 239.35,122.71 240.20,124.15 241.05,124.54 241.90,126.52 242.75,126.52 243.60,127.33 244.45,127.27 245.30,127.38 246.15,127.34 247.00,126.38 247.85,125.30 248.70,121.40 249.55,119.33 250.40,115.68 251.25,112.04 252.10,108.46 252.95,105.26 253.80,103.66 254.65,102.65 255.50,104.68 256.35,107.25 257.20,111.67 258.05,115.04 258.90,118.46 259.75,121.11 260.60,124.03 261.45,126.11 262.30,127.03 263.15,127.78 264.00,127.60 264.85,128.41 265.70,128.60 266.55,128.11 267.40,128.70 268.25,127.59 269.10,127.67 269.95,127.84 270.80,128.16 271.65,128.34 272.50,128.30 273.35,128.31 274.20,128.59 275.05,128.18 275.90,127.90 276.75,127.91 277.60,129.09 278.45,127.53 279.30,128.30 280.15,128.87 281.00,128.54 281.85,128.08 282.70,128.37 283.55,128.68 284.40,128.80 285.25,128.07 286.10,128.65 286.95,128.48 287.80,128.78 288.65,128.88 289.50,128.28 290.35,127.90 291.20,128.55 292.05,129.03 292.90,128.65 293.75,128.50 294.60,129.26 295.45,128.06 296.30,128.74 297.15,128.23 298.00,128.45 298.85,128.47 299.70,128.97 300.55,128.12 301.40,128.26 302.25,127.89 303.10,128.63 303.95,128.30 304.80,128.61 305.65,128.09 306.50,128.34 307.35,128.84 308.20,128.42 309.05,128.70 309.90,128.67 310.75,128.36 311.60,127.94 312.45,128.84" fill="none" stroke="#000" stroke-width="0.8" stroke-linejoin="round" />
<circle cx="162.00" cy="128.33" r="2.4" fill="#fff" stroke="#000" stroke-width="1.5"/>
<circle cx="162.85" cy="128.58" r="2.4" fill="#fff" stroke="#000" stroke-width="1.5"/>
<circle cx="163.70" cy="128.56" r="2.4" fill="#fff" stroke="#000" stroke-width="1.5"/>
<circle cx="164.55" cy="128.48" r="2.4" fill="#fff" stroke="#000" stroke-width="1.5"/>
<circle cx="165.40" cy="128.43" r="2.4" fill="#fff" stroke="#000" stroke-width="1.5"/>
<circle cx="166.25" cy="128.70" r="2.4" fill="#fff" stroke="#000" stroke-width="1.5"/>
<circle cx="167.10" cy="128.55" r="2.4" fill="#fff" stroke="#000" stroke-width="1.5"/>
<circle cx="167.95" cy="128.57" r="2.4" fill="#fff" stroke="#000" stroke-width="1.5"/>
<circle cx="168.80" cy="128.57" r="2.4" fill="#fff" stroke="#000" stroke-width="1.5"/>
<circle cx="169.65" cy="128.27" r="2.4" fill="#fff" stroke="#000" stroke-width="1.5"/>
<circle cx="170.50" cy="128.10" r="2.4" fill="#fff" stroke="#000" stroke-width="1.5"/>
<circle cx="171.35" cy="128.63" r="2.4" fill="#fff" stroke="#000" stroke-width="1.5"/>
<circle cx="172.20" cy="128.60" r="2.4" fill="#fff" stroke="#000" stroke-width="1.5"/>
<circle cx="173.05" cy="128.37" r="2.4" fill="#fff" stroke="#000" stroke-width="1.5"/>
<circle cx="173.90" cy="128.30" r="2.4" fill="#fff" stroke="#000" stroke-width="1.5"/>
<circle cx="174.75" cy="129.24" r="2.4" fill="#fff" stroke="#000" stroke-width="1.5"/>
<circle cx="175.60" cy="128.17" r="2.4" fill="#fff" stroke="#000" stroke-width="1.5"/>
<circle cx="176.45" cy="128.36" r="2.4" fill="#fff" stroke="#000" stroke-width="1.5"/>
<circle cx="177.30" cy="128.52" r="2.4" fill="#fff" stroke="#000" stroke-width="1.5"/>
<circle cx="178.15" cy="128.02" r="2.4" fill="#fff" stroke="#000" stroke-width="1.5"/>
<circle cx="179.00" cy="128.46" r="2.4" fill="#fff" stroke="#000" stroke-width="1.5"/>
<circle cx="179.85" cy="129.05" r="2.4" fill="#fff" stroke="#000" stroke-width="1.5"/>
<circle cx="180.70" cy="128.74" r="2.4" fill="#fff" stroke="#000" stroke-width="1.5"/>
<circle cx="181.55" cy="128.63" r="2.4" fill="#fff" stroke="#000" stroke-width="1.5"/>
<circle cx="182.40" cy="128.62" r="2.4" fill="#fff" stroke="#000" stroke-width="1.5"/>
<circle cx="183.25" cy="128.45" r="2.4" fill="#fff" stroke="#000" stroke-width="1.5"/>
<circle cx="184.10" cy="128.74" r="2.4" fill="#fff" stroke="#000" stroke-width="1.5"/>
<circle cx="184.95" cy="128.34" r="2.4" fill="#fff" stroke="#000" stroke-width="1.5"/>
<circle cx="185.80" cy="128.25" r="2.4" fill="#fff" stroke="#000" stroke-width="1.5"/>
<circle cx="186.65" cy="128.43" r="2.4" fill="#fff" stroke="#000" stroke-width="1.5"/>
<circle cx="187.50" cy="128.71" r="2.4" fill="#fff" stroke="#000" stroke-width="1.5"/>
<circle cx="188.35" cy="128.50" r="2.4" fill="#fff" stroke="#000" stroke-width="1.5"/>
<circle cx="189.20" cy="128.62" r="2.4" fill="#fff" stroke="#000" stroke-width="1.5"/>
<circle cx="190.05" cy="127.67" r="2.4" fill="#fff" stroke="#000" stroke-width="1.5"/>
<circle cx="190.90" cy="128.79" r="2.4" fill="#fff" stroke="#000" stroke-width="1.5"/>
<circle cx="191.75" cy="129.19" r="2.4" fill="#fff" stroke="#000" stroke-width="1.5"/>
<circle cx="192.60" cy="128.83" r="2.4" fill="#fff" stroke="#000" stroke-width="1.5"/>
<circle cx="193.45" cy="128.25" r="2.4" fill="#fff" stroke="#000" stroke-width="1.5"/>
<circle cx="194.30" cy="128.06" r="2.4" fill="#fff" stroke="#000" stroke-width="1.5"/>
<circle cx="195.15" cy="128.45" r="2.4" fill="#fff" stroke="#000" stroke-width="1.5"/>
<circle cx="196.00" cy="128.01" r="2.4" fill="#fff" stroke="#000" stroke-width="1.5"/>
<circle cx="196.85" cy="128.60" r="2.4" fill="#fff" stroke="#000" stroke-width="1.5"/>
<circle cx="197.70" cy="128.16" r="2.4" fill="#fff" stroke="#000" stroke-width="1.5"/>
<circle cx="198.55" cy="128.68" r="2.4" fill="#fff" stroke="#000" stroke-width="1.5"/>
<circle cx="199.40" cy="128.82" r="2.4" fill="#fff" stroke="#000" stroke-width="1.5"/>
<circle cx="200.25" cy="127.62" r="2.4" fill="#fff" stroke="#000" stroke-width="1.5"/>
<circle cx="201.10" cy="128.44" r="2.4" fill="#fff" stroke="#000" stroke-width="1.5"/>
<circle cx="201.95" cy="128.08" r="2.4" fill="#fff" stroke="#000" stroke-width="1.5"/>
<circle cx="202.80" cy="127.83" r="2.4" fill="#fff" stroke="#000" stroke-width="1.5"/>
<circle cx="203.65" cy="128.11" r="2.4" fill="#fff" stroke="#000" stroke-width="1.5"/>
<circle cx="204.50" cy="128.24" r="2.4" fill="#fff" stroke="#000" stroke-width="1.5"/>
<circle cx="205.35" cy="128.68" r="2.4" fill="#fff" stroke="#000" stroke-width="1.5"/>
<circle cx="206.20" cy="127.78" r="2.4" fill="#fff" stroke="#000" stroke-width="1.5"/>
<circle cx="207.05" cy="128.68" r="2.4" fill="#fff" stroke="#000" stroke-width="1.5"/>
<circle cx="207.90" cy="129.01" r="2.4" fill="#fff" stroke="#000" stroke-width="1.5"/>
<circle cx="208.75" cy="128.51" r="2.4" fill="#fff" stroke="#000" stroke-width="1.5"/>
<circle cx="209.60" cy="128.13" r="2.4" fill="#fff" stroke="#000" stroke-width="1.5"/>
<circle cx="210.45" cy="127.43" r="2.4" fill="#fff" stroke="#000" stroke-width="1.5"/>
<circle cx="211.30" cy="126.51" r="2.4" fill="#fff" stroke="#000" stroke-width="1.5"/>
<circle cx="212.15" cy="126.41" r="2.4" fill="#fff" stroke="#000" stroke-width="1.5"/>
<circle cx="213.00" cy="124.80" r="2.4" fill="#fff" stroke="#000" stroke-width="1.5"/>
<circle cx="213.85" cy="123.36" r="2.4" fill="#fff" stroke="#000" stroke-width="1.5"/>
<circle cx="214.70" cy="122.45" r="2.4" fill="#fff" stroke="#000" stroke-width="1.5"/>
<circle cx="215.55" cy="119.97" r="2.4" fill="#fff" stroke="#000" stroke-width="1.5"/>
<circle cx="216.40" cy="117.88" r="2.4" fill="#fff" stroke="#000" stroke-width="1.5"/>
<circle cx="217.25" cy="116.30" r="2.4" fill="#fff" stroke="#000" stroke-width="1.5"/>
<circle cx="218.10" cy="113.30" r="2.4" fill="#fff" stroke="#000" stroke-width="1.5"/>
<circle cx="218.95" cy="111.38" r="2.4" fill="#fff" stroke="#000" stroke-width="1.5"/>
<circle cx="219.80" cy="109.67" r="2.4" fill="#fff" stroke="#000" stroke-width="1.5"/>
<circle cx="220.65" cy="107.59" r="2.4" fill="#fff" stroke="#000" stroke-width="1.5"/>
<circle cx="221.50" cy="105.64" r="2.4" fill="#fff" stroke="#000" stroke-width="1.5"/>
<circle cx="222.35" cy="102.57" r="2.4" fill="#fff" stroke="#000" stroke-width="1.5"/>
<circle cx="223.20" cy="100.57" r="2.4" fill="#fff" stroke="#000" stroke-width="1.5"/>
<circle cx="224.05" cy="97.61" r="2.4" fill="#fff" stroke="#000" stroke-width="1.5"/>
<circle cx="224.90" cy="94.37" r="2.4" fill="#fff" stroke="#000" stroke-width="1.5"/>
<circle cx="225.70" cy="93.00" r="2.4" fill="#fff" stroke="#000" stroke-width="1.5"/>
<circle cx="226.50" cy="87.00" r="2.4" fill="#fff" stroke="#000" stroke-width="1.5"/>
<circle cx="227.50" cy="79.00" r="2.4" fill="#fff" stroke="#000" stroke-width="1.5"/>
<circle cx="228.30" cy="67.50" r="2.4" fill="#fff" stroke="#000" stroke-width="1.5"/>
<circle cx="228.60" cy="53.50" r="2.4" fill="#fff" stroke="#000" stroke-width="1.5"/>
<circle cx="229.00" cy="39.50" r="2.4" fill="#fff" stroke="#000" stroke-width="1.5"/>
<circle cx="229.50" cy="23.70" r="2.4" fill="#fff" stroke="#000" stroke-width="1.5"/>
<circle cx="229.90" cy="15.80" r="2.4" fill="#fff" stroke="#000" stroke-width="1.5"/>
<circle cx="230.30" cy="9.90" r="2.4" fill="#fff" stroke="#000" stroke-width="1.5"/>
<circle cx="231.60" cy="23.70" r="2.4" fill="#fff" stroke="#000" stroke-width="1.5"/>
<circle cx="233.80" cy="40.00" r="2.4" fill="#fff" stroke="#000" stroke-width="1.5"/>
<circle cx="234.60" cy="55.00" r="2.4" fill="#fff" stroke="#000" stroke-width="1.5"/>
<circle cx="235.20" cy="70.00" r="2.4" fill="#fff" stroke="#000" stroke-width="1.5"/>
<circle cx="235.70" cy="84.00" r="2.4" fill="#fff" stroke="#000" stroke-width="1.5"/>
<circle cx="236.00" cy="93.00" r="2.4" fill="#fff" stroke="#000" stroke-width="1.5"/>
<circle cx="236.10" cy="100.30" r="2.4" fill="#fff" stroke="#000" stroke-width="1.5"/>
<circle cx="236.20" cy="107.60" r="2.4" fill="#fff" stroke="#000" stroke-width="1.5"/>
<circle cx="236.40" cy="114.30" r="2.4" fill="#fff" stroke="#000" stroke-width="1.5"/>
<circle cx="236.90" cy="119.60" r="2.4" fill="#fff" stroke="#000" stroke-width="1.5"/>
<circle cx="237.65" cy="116.70" r="2.4" fill="#fff" stroke="#000" stroke-width="1.5"/>
<circle cx="238.50" cy="120.39" r="2.4" fill="#fff" stroke="#000" stroke-width="1.5"/>
<circle cx="239.35" cy="122.71" r="2.4" fill="#fff" stroke="#000" stroke-width="1.5"/>
<circle cx="240.20" cy="124.15" r="2.4" fill="#fff" stroke="#000" stroke-width="1.5"/>
<circle cx="241.05" cy="124.54" r="2.4" fill="#fff" stroke="#000" stroke-width="1.5"/>
<circle cx="241.90" cy="126.52" r="2.4" fill="#fff" stroke="#000" stroke-width="1.5"/>
<circle cx="242.75" cy="126.52" r="2.4" fill="#fff" stroke="#000" stroke-width="1.5"/>
<circle cx="243.60" cy="127.33" r="2.4" fill="#fff" stroke="#000" stroke-width="1.5"/>
<circle cx="244.45" cy="127.27" r="2.4" fill="#fff" stroke="#000" stroke-width="1.5"/>
<circle cx="245.30" cy="127.38" r="2.4" fill="#fff" stroke="#000" stroke-width="1.5"/>
<circle cx="246.15" cy="127.34" r="2.4" fill="#fff" stroke="#000" stroke-width="1.5"/>
<circle cx="247.00" cy="126.38" r="2.4" fill="#fff" stroke="#000" stroke-width="1.5"/>
<circle cx="247.85" cy="125.30" r="2.4" fill="#fff" stroke="#000" stroke-width="1.5"/>
<circle cx="248.70" cy="121.40" r="2.4" fill="#fff" stroke="#000" stroke-width="1.5"/>
<circle cx="249.55" cy="119.33" r="2.4" fill="#fff" stroke="#000" stroke-width="1.5"/>
<circle cx="250.40" cy="115.68" r="2.4" fill="#fff" stroke="#000" stroke-width="1.5"/>
<circle cx="251.25" cy="112.04" r="2.4" fill="#fff" stroke="#000" stroke-width="1.5"/>
<circle cx="252.10" cy="108.46" r="2.4" fill="#fff" stroke="#000" stroke-width="1.5"/>
<circle cx="252.95" cy="105.26" r="2.4" fill="#fff" stroke="#000" stroke-width="1.5"/>
<circle cx="253.80" cy="103.66" r="2.4" fill="#fff" stroke="#000" stroke-width="1.5"/>
<circle cx="254.65" cy="102.65" r="2.4" fill="#fff" stroke="#000" stroke-width="1.5"/>
<circle cx="255.50" cy="104.68" r="2.4" fill="#fff" stroke="#000" stroke-width="1.5"/>
<circle cx="256.35" cy="107.25" r="2.4" fill="#fff" stroke="#000" stroke-width="1.5"/>
<circle cx="257.20" cy="111.67" r="2.4" fill="#fff" stroke="#000" stroke-width="1.5"/>
<circle cx="258.05" cy="115.04" r="2.4" fill="#fff" stroke="#000" stroke-width="1.5"/>
<circle cx="258.90" cy="118.46" r="2.4" fill="#fff" stroke="#000" stroke-width="1.5"/>
<circle cx="259.75" cy="121.11" r="2.4" fill="#fff" stroke="#000" stroke-width="1.5"/>
<circle cx="260.60" cy="124.03" r="2.4" fill="#fff" stroke="#000" stroke-width="1.5"/>
<circle cx="261.45" cy="126.11" r="2.4" fill="#fff" stroke="#000" stroke-width="1.5"/>
<circle cx="262.30" cy="127.03" r="2.4" fill="#fff" stroke="#000" stroke-width="1.5"/>
<circle cx="263.15" cy="127.78" r="2.4" fill="#fff" stroke="#000" stroke-width="1.5"/>
<circle cx="264.00" cy="127.60" r="2.4" fill="#fff" stroke="#000" stroke-width="1.5"/>
<circle cx="264.85" cy="128.41" r="2.4" fill="#fff" stroke="#000" stroke-width="1.5"/>
<circle cx="265.70" cy="128.60" r="2.4" fill="#fff" stroke="#000" stroke-width="1.5"/>
<circle cx="266.55" cy="128.11" r="2.4" fill="#fff" stroke="#000" stroke-width="1.5"/>
<circle cx="267.40" cy="128.70" r="2.4" fill="#fff" stroke="#000" stroke-width="1.5"/>
<circle cx="268.25" cy="127.59" r="2.4" fill="#fff" stroke="#000" stroke-width="1.5"/>
<circle cx="269.10" cy="127.67" r="2.4" fill="#fff" stroke="#000" stroke-width="1.5"/>
<circle cx="269.95" cy="127.84" r="2.4" fill="#fff" stroke="#000" stroke-width="1.5"/>
<circle cx="270.80" cy="128.16" r="2.4" fill="#fff" stroke="#000" stroke-width="1.5"/>
<circle cx="271.65" cy="128.34" r="2.4" fill="#fff" stroke="#000" stroke-width="1.5"/>
<circle cx="272.50" cy="128.30" r="2.4" fill="#fff" stroke="#000" stroke-width="1.5"/>
<circle cx="273.35" cy="128.31" r="2.4" fill="#fff" stroke="#000" stroke-width="1.5"/>
<circle cx="274.20" cy="128.59" r="2.4" fill="#fff" stroke="#000" stroke-width="1.5"/>
<circle cx="275.05" cy="128.18" r="2.4" fill="#fff" stroke="#000" stroke-width="1.5"/>
<circle cx="275.90" cy="127.90" r="2.4" fill="#fff" stroke="#000" stroke-width="1.5"/>
<circle cx="276.75" cy="127.91" r="2.4" fill="#fff" stroke="#000" stroke-width="1.5"/>
<circle cx="277.60" cy="129.09" r="2.4" fill="#fff" stroke="#000" stroke-width="1.5"/>
<circle cx="278.45" cy="127.53" r="2.4" fill="#fff" stroke="#000" stroke-width="1.5"/>
<circle cx="279.30" cy="128.30" r="2.4" fill="#fff" stroke="#000" stroke-width="1.5"/>
<circle cx="280.15" cy="128.87" r="2.4" fill="#fff" stroke="#000" stroke-width="1.5"/>
<circle cx="281.00" cy="128.54" r="2.4" fill="#fff" stroke="#000" stroke-width="1.5"/>
<circle cx="281.85" cy="128.08" r="2.4" fill="#fff" stroke="#000" stroke-width="1.5"/>
<circle cx="282.70" cy="128.37" r="2.4" fill="#fff" stroke="#000" stroke-width="1.5"/>
<circle cx="283.55" cy="128.68" r="2.4" fill="#fff" stroke="#000" stroke-width="1.5"/>
<circle cx="284.40" cy="128.80" r="2.4" fill="#fff" stroke="#000" stroke-width="1.5"/>
<circle cx="285.25" cy="128.07" r="2.4" fill="#fff" stroke="#000" stroke-width="1.5"/>
<circle cx="286.10" cy="128.65" r="2.4" fill="#fff" stroke="#000" stroke-width="1.5"/>
<circle cx="286.95" cy="128.48" r="2.4" fill="#fff" stroke="#000" stroke-width="1.5"/>
<circle cx="287.80" cy="128.78" r="2.4" fill="#fff" stroke="#000" stroke-width="1.5"/>
<circle cx="288.65" cy="128.88" r="2.4" fill="#fff" stroke="#000" stroke-width="1.5"/>
<circle cx="289.50" cy="128.28" r="2.4" fill="#fff" stroke="#000" stroke-width="1.5"/>
<circle cx="290.35" cy="127.90" r="2.4" fill="#fff" stroke="#000" stroke-width="1.5"/>
<circle cx="291.20" cy="128.55" r="2.4" fill="#fff" stroke="#000" stroke-width="1.5"/>
<circle cx="292.05" cy="129.03" r="2.4" fill="#fff" stroke="#000" stroke-width="1.5"/>
<circle cx="292.90" cy="128.65" r="2.4" fill="#fff" stroke="#000" stroke-width="1.5"/>
<circle cx="293.75" cy="128.50" r="2.4" fill="#fff" stroke="#000" stroke-width="1.5"/>
<circle cx="294.60" cy="129.26" r="2.4" fill="#fff" stroke="#000" stroke-width="1.5"/>
<circle cx="295.45" cy="128.06" r="2.4" fill="#fff" stroke="#000" stroke-width="1.5"/>
<circle cx="296.30" cy="128.74" r="2.4" fill="#fff" stroke="#000" stroke-width="1.5"/>
<circle cx="297.15" cy="128.23" r="2.4" fill="#fff" stroke="#000" stroke-width="1.5"/>
<circle cx="298.00" cy="128.45" r="2.4" fill="#fff" stroke="#000" stroke-width="1.5"/>
<circle cx="298.85" cy="128.47" r="2.4" fill="#fff" stroke="#000" stroke-width="1.5"/>
<circle cx="299.70" cy="128.97" r="2.4" fill="#fff" stroke="#000" stroke-width="1.5"/>
<circle cx="300.55" cy="128.12" r="2.4" fill="#fff" stroke="#000" stroke-width="1.5"/>
<circle cx="301.40" cy="128.26" r="2.4" fill="#fff" stroke="#000" stroke-width="1.5"/>
<circle cx="302.25" cy="127.89" r="2.4" fill="#fff" stroke="#000" stroke-width="1.5"/>
<circle cx="303.10" cy="128.63" r="2.4" fill="#fff" stroke="#000" stroke-width="1.5"/>
<circle cx="303.95" cy="128.30" r="2.4" fill="#fff" stroke="#000" stroke-width="1.5"/>
<circle cx="304.80" cy="128.61" r="2.4" fill="#fff" stroke="#000" stroke-width="1.5"/>
<circle cx="305.65" cy="128.09" r="2.4" fill="#fff" stroke="#000" stroke-width="1.5"/>
<circle cx="306.50" cy="128.34" r="2.4" fill="#fff" stroke="#000" stroke-width="1.5"/>
<circle cx="307.35" cy="128.84" r="2.4" fill="#fff" stroke="#000" stroke-width="1.5"/>
<circle cx="308.20" cy="128.42" r="2.4" fill="#fff" stroke="#000" stroke-width="1.5"/>
<circle cx="309.05" cy="128.70" r="2.4" fill="#fff" stroke="#000" stroke-width="1.5"/>
<circle cx="309.90" cy="128.67" r="2.4" fill="#fff" stroke="#000" stroke-width="1.5"/>
<circle cx="310.75" cy="128.36" r="2.4" fill="#fff" stroke="#000" stroke-width="1.5"/>
<circle cx="311.60" cy="127.94" r="2.4" fill="#fff" stroke="#000" stroke-width="1.5"/>
<circle cx="312.45" cy="128.84" r="2.4" fill="#fff" stroke="#000" stroke-width="1.5"/>
</g>
<line x1="246.10" y1="16.90" x2="276.00" y2="16.90" stroke="#777" stroke-width="1"/>
<circle cx="260.5" cy="16.9" r="2.4" fill="#fff" stroke="#000" stroke-width="1.3"/>
<line x1="246.10" y1="32.80" x2="276.00" y2="32.80" stroke="#777" stroke-width="1"/>
<circle cx="260.5" cy="32.8" r="2.7" fill="#111" stroke="#000" stroke-width="1"/>
<ellipse cx="259.8" cy="31.6" rx="1.6" ry="0.9" fill="#bbb"/>
<polyline points="408.00,160.27 408.25,161.36 408.50,157.50 408.75,158.00 409.00,157.40 409.25,159.07 409.50,161.58 409.75,160.99 410.00,160.25 410.25,160.49 410.50,161.33 410.75,160.00 411.00,160.92 411.25,160.63 411.50,157.69 411.75,160.02 412.00,162.26 412.25,160.07 412.50,160.42 412.75,159.86 413.00,160.05 413.25,162.11 413.50,160.38 413.75,159.47 414.00,156.88 414.25,160.09 414.50,158.38 414.75,158.60 415.00,161.89 415.25,161.81 415.50,158.58 415.75,162.05 416.00,161.59 416.25,160.09 416.50,161.99 416.75,159.11 417.00,159.66 417.25,159.41 417.50,159.84 417.75,162.31 418.00,159.64 418.25,159.89 418.50,160.17 418.75,161.60 419.00,160.98 419.25,162.48 419.50,160.63 419.75,159.98 420.00,160.98 420.25,161.68 420.50,160.56 420.75,162.06 421.00,163.96 421.25,161.13 421.50,161.93 421.75,163.54 422.00,161.20 422.25,161.01 422.50,160.77 422.75,162.59 423.00,162.77 423.25,162.04 423.50,162.31 423.75,163.81 424.00,163.38 424.25,160.76 424.50,162.44 424.75,162.63 425.00,163.39 425.25,162.34 425.50,161.90 425.75,162.16 426.00,160.68 426.25,162.76 426.50,162.15 426.75,163.43 427.00,161.76 427.25,162.49 427.50,161.91 427.75,161.86 428.00,163.94 428.25,162.65 428.50,163.74 428.75,162.00 429.00,163.44 429.25,161.46 429.50,162.88 429.75,162.91 430.00,164.18 430.25,163.78 430.50,163.42 430.75,164.61 431.00,163.93 431.25,164.37 431.50,164.67 431.75,163.79 432.00,163.59 432.25,164.33 432.50,163.55 432.75,164.49 433.00,165.34 433.25,165.10 433.50,163.79 433.75,162.84 434.00,164.23 434.25,164.19 434.50,165.57 434.75,163.98 435.00,164.20 435.25,165.27 435.50,163.98 435.75,164.37 436.00,166.43 436.25,166.22 436.50,165.33 436.75,164.97 437.00,163.68 437.25,165.36 437.50,164.85 437.75,165.06 438.00,164.31 438.25,164.89 438.50,164.74 438.75,165.31 439.00,166.52 439.25,165.43 439.50,163.33 439.75,164.10 440.00,163.49 440.25,164.36 440.50,165.81 440.75,165.68 441.00,164.67 441.25,165.61 441.50,164.58 441.75,163.93 442.00,163.98 442.25,164.59 442.50,166.98 442.75,164.17 443.00,166.86 443.25,166.98 443.50,165.47 443.75,165.64 444.00,165.10 444.25,165.74 444.50,166.47 444.75,165.84 445.00,166.88 445.25,167.11 445.50,166.29 445.75,166.31 446.00,165.95 446.25,166.40 446.50,164.97 446.75,166.52 447.00,166.36 447.25,165.33 447.50,168.37 447.75,165.30 448.00,165.44 448.25,166.57 448.50,164.38 448.75,165.51 449.00,164.79 449.25,165.34 449.50,166.16 449.75,166.60 450.00,167.36 450.25,167.07 450.50,167.43 450.75,166.85 451.00,165.83 451.25,167.35 451.50,165.81 451.75,165.68 452.00,167.74 452.25,167.02 452.50,166.48 452.75,166.98 453.00,167.10 453.25,164.96 453.50,166.17 453.75,165.14 454.00,166.37 454.25,165.62 454.50,167.52 454.75,166.73 455.00,165.48 455.25,166.22 455.50,165.10 455.75,166.27 456.00,166.73 456.25,166.46 456.50,164.43 456.75,165.90 457.00,166.67 457.25,166.48 457.50,167.26 457.75,165.01 458.00,166.66 458.25,165.58 458.50,166.34 458.75,166.52 459.00,166.77 459.25,165.62 459.50,166.29 459.75,165.06 460.00,164.84 460.25,166.59 460.50,166.03 460.75,164.61 461.00,165.29 461.25,166.05 461.50,167.40 461.75,166.92 462.00,166.68 462.25,164.32 462.50,165.78 462.75,166.23 463.00,166.10 463.25,166.06 463.50,165.41 463.75,167.11 464.00,166.78 464.25,165.30 464.50,164.43 464.75,167.01 465.00,164.60 465.25,166.02 465.50,166.51 465.75,163.84 466.00,164.75 466.25,163.99 466.50,164.53 466.75,164.10 467.00,165.23 467.25,163.69 467.50,162.68 467.75,162.70 468.00,158.85 468.25,151.89 468.50,139.57 468.75,113.92 469.00,89.55 469.25,76.41 469.50,81.54 469.75,102.40 470.00,130.03 470.25,146.58 470.50,156.34 470.75,160.36 471.00,161.21 471.25,161.69 471.50,163.09 471.75,165.28 472.00,164.07 472.25,164.26 472.50,162.49 472.75,163.89 473.00,163.01 473.25,164.78 473.50,164.00 473.75,164.30 474.00,164.24 474.25,163.86 474.50,163.10 474.75,164.92 475.00,163.28 475.25,163.47 475.50,164.23 475.75,163.90 476.00,164.72 476.25,165.40 476.50,164.79 476.75,164.78 477.00,164.67 477.25,165.41 477.50,163.16 477.75,165.05 478.00,163.99 478.25,163.76 478.50,164.83 478.75,164.52 479.00,165.36 479.25,165.82 479.50,162.98 479.75,164.88 480.00,166.59 480.25,165.70 480.50,166.20 480.75,165.10 481.00,163.85 481.25,164.12 481.50,165.67 481.75,165.89 482.00,164.51 482.25,164.91 482.50,165.36 482.75,163.72 483.00,164.89 483.25,166.53 483.50,167.01 483.75,165.14 484.00,166.75 484.25,164.83 484.50,164.61 484.75,163.46 485.00,166.09 485.25,165.02 485.50,167.24 485.75,165.62 486.00,165.52 486.25,163.91 486.50,166.61 486.75,165.12 487.00,165.29 487.25,163.65 487.50,166.20 487.75,166.27 488.00,164.99 488.25,165.57 488.50,165.83 488.75,166.30 489.00,165.62 489.25,166.93 489.50,165.37 489.75,165.09 490.00,165.22 490.25,163.58 490.50,164.98 490.75,166.44 491.00,165.86 491.25,165.01 491.50,165.95 491.75,164.08 492.00,165.47 492.25,166.13 492.50,166.27 492.75,165.12 493.00,166.47 493.25,167.23 493.50,165.44 493.75,166.37 494.00,164.57 494.25,164.27 494.50,166.30 494.75,165.87 495.00,166.00 495.25,165.40 495.50,165.64 495.75,166.52 496.00,167.24 496.25,165.74 496.50,164.64 496.75,166.92 497.00,166.41 497.25,166.49 497.50,166.11 497.75,167.78 498.00,166.05 498.25,166.40 498.50,164.59 498.75,165.58 499.00,165.51 499.25,166.03 499.50,166.33 499.75,165.50 500.00,167.42 500.25,165.29 500.50,165.77 500.75,166.31 501.00,165.18 501.25,166.59 501.50,166.64 501.75,165.95 502.00,167.64 502.25,166.26 502.50,166.42 502.75,165.49 503.00,164.97 503.25,165.77 503.50,166.01 503.75,165.93 504.00,166.86 504.25,164.50 504.50,165.45 504.75,164.94 505.00,167.34 505.25,165.93 505.50,166.00 505.75,165.58 506.00,167.11 506.25,166.15 506.50,166.65 506.75,165.00 507.00,167.41 507.25,166.86 507.50,167.00 507.75,167.53 508.00,166.50 508.25,166.55 508.50,167.23 508.75,167.04 509.00,166.57 509.25,166.81 509.50,166.43 509.75,167.35 510.00,167.54 510.25,166.88 510.50,168.28 510.75,165.80 511.00,166.79 511.25,168.23 511.50,166.70 511.75,165.87 512.00,168.08 512.25,167.48 512.50,166.25 512.75,167.70 513.00,166.42 513.25,166.22 513.50,167.11 513.75,166.90 514.00,166.48 514.25,167.03 514.50,166.60 514.75,167.39 515.00,167.36 515.25,167.93 515.50,167.10 515.75,166.50 516.00,166.53 516.25,167.33 516.50,168.63 516.75,168.16 517.00,167.12 517.25,168.28 517.50,166.81 517.75,168.38 518.00,167.41 518.25,168.25 518.50,168.18 518.75,167.57 519.00,168.02 519.25,167.06 519.50,167.79 519.75,168.63 520.00,170.77 520.25,168.41 520.50,168.01 520.75,167.26 521.00,168.74 521.25,166.86 521.50,167.49 521.75,168.32 522.00,167.26 522.25,169.20 522.50,168.92 522.75,167.78 523.00,167.81 523.25,167.31 523.50,167.28 523.75,168.59 524.00,168.74 524.25,168.58 524.50,168.54 524.75,167.99 525.00,168.66 525.25,167.41 525.50,168.47 525.75,169.51 526.00,169.43 526.25,168.22 526.50,168.33 526.75,169.55 527.00,169.86 527.25,167.60 527.50,168.37 527.75,168.86 528.00,169.57 528.25,168.16 528.50,169.22 528.75,168.59 529.00,170.47 529.25,169.15 529.50,168.78 529.75,168.67 530.00,169.66 530.25,169.40 530.50,168.18 530.75,169.08 531.00,168.01 531.25,168.42 531.50,168.05 531.75,168.03 532.00,168.47 532.25,168.27 532.50,169.32 532.75,169.51 533.00,168.79 533.25,168.19 533.50,169.52 533.75,167.57 534.00,167.64 534.25,169.48 534.50,169.43 534.75,169.65 535.00,168.83 535.25,168.12 535.50,168.64 535.75,169.38 536.00,168.47 536.25,168.51 536.50,168.04 536.75,168.20 537.00,169.58 537.25,169.32 537.50,168.21 537.75,168.27 538.00,168.63 538.25,169.39 538.50,168.22 538.75,168.91 539.00,167.55 539.25,168.17 539.50,169.32 539.75,169.65 540.00,168.24 540.25,168.51 540.50,169.59 540.75,168.78 541.00,168.68 541.25,169.40 541.50,169.18 541.75,169.81 542.00,169.60 542.25,168.66 542.50,168.98 542.75,169.02 543.00,168.14 543.25,168.40 543.50,169.73 543.75,167.99 544.00,169.75 544.25,169.27 544.50,168.98 544.75,169.45 545.00,169.41 545.25,169.91 545.50,168.82 545.75,168.93 546.00,168.92 546.25,170.37 546.50,169.74 546.75,168.47 547.00,168.87 547.25,168.62 547.50,169.11 547.75,169.25 548.00,170.66 548.25,167.87 548.50,169.81 548.75,169.41 549.00,168.64 549.25,169.01 549.50,168.78 549.75,169.15 550.00,169.80 550.25,168.10 550.50,170.01 550.75,168.87 551.00,170.14 551.25,169.40 551.50,169.96 551.75,169.51 552.00,169.86 552.25,169.17 552.50,168.57 552.75,169.58 553.00,169.61 553.25,170.54 553.50,167.78 553.75,169.00 554.00,169.84 554.25,168.29 554.50,168.98 554.75,170.55 555.00,170.08 555.25,168.54 555.50,170.08 555.75,169.92 556.00,169.65 556.25,169.38 556.50,169.28 556.75,168.54 557.00,168.78 557.25,169.61 557.50,169.21 557.75,170.35 558.00,168.89 558.25,167.51 558.50,168.88 558.75,169.29 559.00,169.35 559.25,169.14 559.50,168.54 559.75,170.08 560.00,168.64 560.25,169.54 560.50,168.87 560.75,168.25 561.00,169.97 561.25,167.35 561.50,168.44 561.75,169.28 562.00,168.74 562.25,169.46 562.50,168.88 562.75,168.62 563.00,170.34 563.25,168.74 563.50,168.76 563.75,168.13 564.00,168.33 564.25,169.23 564.50,169.15 564.75,168.76 565.00,168.27 565.25,169.15 565.50,167.55 565.75,168.42 566.00,168.44 566.25,168.02 566.50,168.64 566.75,168.06 567.00,167.93 567.25,169.60 567.50,168.86 567.75,169.11 568.00,168.30 568.25,168.84 568.50,168.66 568.75,168.87 569.00,169.56 569.25,167.78 569.50,168.01 569.75,167.72 570.00,165.35 570.25,166.63 570.50,167.44 570.75,167.71 571.00,166.78 571.25,167.74 571.50,167.67 571.75,166.37 572.00,167.37 572.25,167.35 572.50,166.26 572.75,165.04 573.00,166.33 573.25,164.92 573.50,164.38 573.75,164.19 574.00,163.02 574.25,162.83 574.50,160.39 574.75,156.66 575.00,149.45 575.25,138.05 575.50,123.99 575.75,107.17 576.00,88.34 576.25,75.68 576.50,65.59 576.75,66.29 577.00,77.04 577.25,92.55 577.50,110.20 577.75,127.10 578.00,141.23 578.25,151.20 578.50,157.30 578.75,160.20 579.00,162.65 579.25,164.03 579.50,164.65 579.75,162.64 580.00,164.44 580.25,164.84 580.50,165.49 580.75,166.02 581.00,166.74 581.25,166.76 581.50,166.47 581.75,166.75 582.00,168.03 582.25,166.64 582.50,167.37 582.75,168.30 583.00,167.63 583.25,166.19 583.50,167.84 583.75,167.43 584.00,167.68 584.25,168.50 584.50,168.19 584.75,167.78 585.00,168.58 585.25,168.33 585.50,168.17 585.75,168.34 586.00,168.35 586.25,168.00 586.50,167.96 586.75,168.30 587.00,167.71 587.25,167.54 587.50,169.20 587.75,168.24 588.00,168.40 588.25,168.35 588.50,168.47 588.75,168.49 589.00,168.53 589.25,168.00 589.50,169.12 589.75,168.10 590.00,169.21 590.25,167.36 590.50,167.94 590.75,169.29 591.00,168.59 591.25,168.29 591.50,168.99 591.75,168.12 592.00,168.86 592.25,167.44 592.50,168.59 592.75,168.49 593.00,169.28 593.25,169.52 593.50,168.45 593.75,170.04 594.00,168.67 594.25,167.77 594.50,167.59 594.75,170.10 595.00,169.10 595.25,168.77 595.50,168.74 595.75,168.54 596.00,170.11 596.25,169.23 596.50,170.44 596.75,169.21 597.00,167.88 597.25,169.92 597.50,169.18 597.75,169.28 598.00,170.45 598.25,169.32 598.50,170.24 598.75,169.53 599.00,169.08 599.25,169.90 599.50,169.22 599.75,170.40 600.00,170.25 600.25,169.69 600.50,170.04 600.75,170.02 601.00,169.49 601.25,170.23 601.50,169.53 601.75,170.07 602.00,169.09 602.25,169.75 602.50,169.95 602.75,169.20 603.00,169.44 603.25,169.37 603.50,170.16 603.75,169.26 604.00,169.99 604.25,170.67 604.50,169.95 604.75,168.72 605.00,169.81 605.25,170.39 605.50,169.56 605.75,170.44 606.00,170.13 606.25,170.01 606.50,169.59 606.75,169.44 607.00,169.60 607.25,169.80 607.50,170.09 607.75,170.03 608.00,169.59 608.25,169.82 608.50,170.02 608.75,168.78 609.00,169.31 609.25,169.30 609.50,169.67 609.75,169.63 610.00,169.64 610.25,169.26 610.50,170.22 610.75,169.98 611.00,168.80 611.25,169.82 611.50,169.12 611.75,170.87 612.00,169.54 612.25,169.58 612.50,169.88 612.75,169.71 613.00,169.80 613.25,170.79 613.50,169.98 613.75,170.36 614.00,170.54 614.25,169.25 614.50,170.89 614.75,170.28 615.00,170.44 615.25,169.33 615.50,170.36 615.75,170.12 616.00,169.54 616.25,171.27 616.50,170.22 616.75,169.73 617.00,169.99 617.25,170.44 617.50,170.57 617.75,170.24 618.00,170.63 618.25,170.79 618.50,169.13 618.75,169.59 619.00,169.32 619.25,169.96 619.50,170.78 619.75,170.30 620.00,169.26 620.25,169.73 620.50,170.54 620.75,169.59 621.00,169.85 621.25,170.10 621.50,168.81 621.75,170.39 622.00,170.13 622.25,170.27 622.50,169.33 622.75,169.46 623.00,169.57 623.25,170.08 623.50,169.98 623.75,170.01 624.00,171.03 624.25,170.73 624.50,169.51 624.75,169.55 625.00,170.99 625.25,169.76 625.50,170.79 625.75,170.92 626.00,169.63 626.25,169.79 626.50,170.01 626.75,169.44 627.00,169.37 627.25,169.72 627.50,170.48 627.75,169.70 628.00,169.85 628.25,169.69 628.50,169.15 628.75,170.87 629.00,168.57 629.25,169.59 629.50,170.32 629.75,169.14 630.00,170.35 630.25,170.74 630.50,169.47 630.75,170.12 631.00,169.33 631.25,170.30 631.50,170.05 631.75,170.13 632.00,170.82 632.25,170.29 632.50,170.81 632.75,170.39 633.00,169.29 633.25,170.17 633.50,170.31 633.75,169.15 634.00,170.81 634.25,170.06 634.50,170.24 634.75,169.49 635.00,170.07 635.25,170.21 635.50,169.83 635.75,170.08 636.00,168.77 636.25,170.85 636.50,169.37 636.75,168.74 637.00,169.47 637.25,169.54 637.50,170.37 637.75,169.50 638.00,170.22 638.25,169.48 638.50,171.36 638.75,170.38 639.00,171.22 639.25,169.45 639.50,170.45 639.75,169.49 640.00,170.40 640.25,170.47 640.50,169.12 640.75,169.39 641.00,169.38 641.25,169.18 641.50,169.64 641.75,169.51 642.00,169.22 642.25,170.13 642.50,170.40 642.75,169.30 643.00,169.75 643.25,170.09 643.50,169.95 643.75,169.67 644.00,170.57 644.25,170.59 644.50,170.49 644.75,169.97 645.00,171.26 645.25,171.12 645.50,169.86 645.75,170.03 646.00,170.80 646.25,169.63 646.50,170.34 646.75,170.13 647.00,169.70 647.25,169.98 647.50,169.19 647.75,169.80 648.00,168.95 648.25,171.45 648.50,171.00 648.75,170.84 649.00,170.30 649.25,170.71 649.50,170.87 649.75,170.72 650.00,170.67 650.25,169.60 650.50,170.38 650.75,169.82 651.00,169.45 651.25,169.47 651.50,170.39 651.75,170.75 652.00,169.35 652.25,171.16 652.50,171.00 652.75,169.93 653.00,169.88 653.25,170.11 653.50,170.72 653.75,169.93 654.00,169.51 654.25,170.36 654.50,168.96 654.75,170.24 655.00,170.83 655.25,170.34 655.50,170.62 655.75,170.45 656.00,170.59 656.25,170.25 656.50,169.69 656.75,170.04 657.00,170.13 657.25,170.90 657.50,171.12 657.75,170.42 658.00,169.75 658.25,169.76 658.50,170.08 658.75,170.99 659.00,170.38 659.25,170.16 659.50,169.75 659.75,170.70 660.00,170.36 660.25,170.17 660.50,170.26 660.75,171.17 661.00,170.11 661.25,171.17 661.50,170.92 661.75,170.24 662.00,170.72 662.25,170.14 662.50,169.74 662.75,170.06 663.00,169.70 663.25,170.51 663.50,170.23 663.75,170.55 664.00,170.70 664.25,168.44 664.50,170.41 664.75,169.20 665.00,170.33 665.25,169.73 665.50,170.29 665.75,171.02 666.00,169.27 666.25,170.35 666.50,170.20 666.75,169.17 667.00,170.61 667.25,170.27 667.50,169.96 667.75,169.84 668.00,172.08 668.25,170.03 668.50,169.23 668.75,169.73 669.00,170.05 669.25,170.04 669.50,170.22 669.75,169.67 670.00,170.57 670.25,170.00 670.50,169.50 670.75,169.81 671.00,170.06 671.25,170.76 671.50,170.55 671.75,170.09 672.00,170.29 672.25,170.40 672.50,171.43 672.75,169.94 673.00,170.55 673.25,170.70 673.50,169.76 673.75,170.40 674.00,170.39 674.25,170.03 674.50,170.62 674.75,170.88 675.00,170.94 675.25,170.20 675.50,170.41 675.75,171.63 676.00,169.69 676.25,170.44 676.50,170.81 676.75,170.40 677.00,170.68 677.25,170.41 677.50,170.74 677.75,171.04 678.00,170.20 678.25,170.44 678.50,170.30 678.75,170.10 679.00,170.32 679.25,169.70 679.50,170.75 679.75,171.28 680.00,171.29 680.25,171.05 680.50,169.80 680.75,171.19 681.00,169.95 681.25,170.32 681.50,171.37 681.75,169.75 682.00,170.82 682.25,170.51 682.50,170.27 682.75,169.87 683.00,170.59 683.25,170.10 683.50,170.94 683.75,171.04 684.00,169.60 684.25,170.09 684.50,170.19 684.75,169.72 685.00,169.75 685.25,170.42 685.50,170.26 685.75,169.47 686.00,170.08 686.25,170.67 686.50,169.72 686.75,169.88 687.00,171.26 687.25,171.11 687.50,169.50 687.75,169.65" fill="none" stroke="#000" stroke-width="1.8" stroke-linejoin="round" />
<polyline points="408.00,210.35 408.50,208.94 409.00,209.81 409.50,209.64 410.00,210.57 410.50,207.80 411.00,208.11 411.50,209.00 412.00,211.02 412.50,209.99 413.00,208.62 413.50,210.59 414.00,210.79 414.50,209.96 415.00,209.90 415.50,210.59 416.00,211.27 416.50,210.36 417.00,210.70 417.50,210.21 418.00,209.94 418.50,209.49 419.00,210.51 419.50,210.05 420.00,210.11 420.50,211.12 421.00,210.76 421.50,211.09 422.00,209.03 422.50,210.85 423.00,209.90 423.50,209.73 424.00,209.71 424.50,211.45 425.00,211.14 425.50,209.86 426.00,209.53 426.50,210.50 427.00,210.12 427.50,211.87 428.00,209.32 428.50,209.04 429.00,210.34 429.50,210.57 430.00,210.68 430.50,211.20 431.00,212.27 431.50,210.34 432.00,210.19 432.50,209.23 433.00,210.84 433.50,211.34 434.00,210.47 434.50,211.62 435.00,210.73 435.50,211.90 436.00,210.99 436.50,209.91 437.00,210.26 437.50,209.57 438.00,209.43 438.50,211.00 439.00,211.47 439.50,212.32 440.00,210.79 440.50,210.66 441.00,210.01 441.50,211.62 442.00,211.17 442.50,210.44 443.00,211.42 443.50,211.34 444.00,209.53 444.50,211.50 445.00,211.06 445.50,210.68 446.00,210.67 446.50,212.28 447.00,212.13 447.50,212.36 448.00,210.20 448.50,210.57 449.00,211.72 449.50,210.20 450.00,210.57 450.50,209.80 451.00,212.44 451.50,211.88 452.00,211.46 452.50,211.30 453.00,210.87 453.50,210.89 454.00,211.62 454.50,210.70 455.00,212.07 455.50,210.88 456.00,210.63 456.50,212.15 457.00,211.16 457.50,211.66 458.00,211.00 458.50,209.77 459.00,211.69 459.50,210.41 460.00,212.07 460.50,210.31 461.00,210.11 461.50,211.58 462.00,211.67 462.50,211.47 463.00,210.61 463.50,212.01 464.00,210.48 464.50,211.15 465.00,210.95 465.50,211.23 466.00,212.04 466.50,211.10 467.00,211.88 467.50,211.98 468.00,210.45 468.50,210.81 469.00,211.33 469.50,211.21 470.00,211.79 470.50,210.38 471.00,212.05 471.50,212.07 472.00,211.50 472.50,210.73 473.00,211.61 473.50,211.27 474.00,211.97 474.50,211.56 475.00,212.07 475.50,211.34 476.00,212.52 476.50,210.17 477.00,210.98 477.50,211.93 478.00,210.68 478.50,212.09 479.00,210.87 479.50,211.69 480.00,211.06 480.50,211.36 481.00,211.75 481.50,211.57 482.00,211.40 482.50,212.99 483.00,211.65 483.50,211.04 484.00,212.23 484.50,212.17 485.00,212.42 485.50,212.77 486.00,211.07 486.50,212.32 487.00,212.37 487.50,211.66 488.00,211.82 488.50,209.79 489.00,211.31 489.50,212.79 490.00,210.56 490.50,211.34 491.00,211.86 491.50,212.04 492.00,212.70 492.50,210.58 493.00,211.71 493.50,212.22 494.00,210.87 494.50,211.67 495.00,212.86 495.50,212.51 496.00,212.03 496.50,210.07 497.00,211.62 497.50,211.94 498.00,211.51 498.50,211.66 499.00,213.62 499.50,211.57 500.00,211.11 500.50,211.86 501.00,211.52 501.50,211.52 502.00,211.66 502.50,212.20 503.00,211.87 503.50,210.98 504.00,211.64 504.50,212.02 505.00,211.43 505.50,212.44 506.00,212.21 506.50,211.12 507.00,211.93 507.50,212.96 508.00,212.70 508.50,211.70 509.00,212.29 509.50,211.32 510.00,210.84 510.50,212.08 511.00,211.89 511.50,212.06 512.00,211.72 512.50,211.94 513.00,211.42 513.50,212.03 514.00,212.25 514.50,211.71 515.00,212.24 515.50,210.65 516.00,211.26 516.50,212.63 517.00,212.82 517.50,211.89 518.00,211.67 518.50,210.96 519.00,211.96 519.50,212.21 520.00,210.82 520.50,212.07 521.00,212.03 521.50,211.99 522.00,211.03 522.50,212.05 523.00,210.79 523.50,212.62 524.00,211.78 524.50,210.98 525.00,212.51 525.50,212.38 526.00,211.27 526.50,213.00 527.00,211.03 527.50,211.82 528.00,212.33 528.50,210.20 529.00,212.17 529.50,211.49 530.00,211.49 530.50,210.80 531.00,211.61 531.50,210.67 532.00,210.68 532.50,210.91 533.00,210.33 533.50,211.89 534.00,209.94 534.50,210.04 535.00,209.98 535.50,209.70 536.00,209.49 536.50,208.19 537.00,207.20 537.50,207.16 538.00,207.41 538.50,207.89 539.00,207.82 539.50,207.08 540.00,206.15 540.50,208.70 541.00,207.98 541.50,207.87 542.00,209.23 542.50,209.40 543.00,209.58 543.50,210.32 544.00,210.63 544.50,210.57 545.00,210.21 545.50,211.02 546.00,211.65 546.50,211.07 547.00,211.45 547.50,210.23 548.00,211.40 548.50,211.49 549.00,210.85 549.50,210.57 550.00,211.89 550.50,211.17 551.00,211.98 551.50,211.44 552.00,212.09 552.50,211.52 553.00,210.82 553.50,211.69 554.00,211.55 554.50,212.15 555.00,211.49 555.50,211.53 556.00,212.29 556.50,212.48 557.00,212.24 557.50,212.41 558.00,212.07 558.50,212.26 559.00,212.33 559.50,212.05 560.00,211.84 560.50,211.89 561.00,213.26 561.50,211.82 562.00,211.67 562.50,211.60 563.00,211.80 563.50,211.97 564.00,211.14 564.50,210.63 565.00,212.00 565.50,210.86 566.00,211.98 566.50,211.91 567.00,212.52 567.50,212.83 568.00,212.05 568.50,211.50 569.00,211.12 569.50,211.35 570.00,211.85 570.50,210.59 571.00,211.87 571.50,211.82 572.00,212.21 572.50,211.63 573.00,211.89 573.50,211.39 574.00,211.55 574.50,210.77 575.00,211.90 575.50,212.75 576.00,211.93 576.50,212.05 577.00,211.24 577.50,212.68 578.00,211.37 578.50,212.31 579.00,211.89 579.50,211.26 580.00,212.44 580.50,211.84 581.00,211.93 581.50,212.10 582.00,211.81 582.50,211.60 583.00,212.10 583.50,211.59 584.00,211.86 584.50,211.43 585.00,210.94 585.50,211.43 586.00,211.53 586.50,211.83 587.00,212.53 587.50,210.82 588.00,211.90 588.50,210.51 589.00,211.20 589.50,211.52 590.00,210.49 590.50,210.72 591.00,211.91 591.50,211.87 592.00,211.75 592.50,211.34 593.00,213.09 593.50,211.72 594.00,211.31 594.50,212.81 595.00,212.18 595.50,211.60 596.00,212.52 596.50,211.91 597.00,212.19 597.50,211.95 598.00,211.21 598.50,212.38 599.00,211.91 599.50,211.22 600.00,211.36 600.50,212.37 601.00,211.59 601.50,211.84 602.00,212.19 602.50,211.88 603.00,210.91 603.50,212.18 604.00,212.36 604.50,212.31 605.00,212.75 605.50,212.02 606.00,212.26 606.50,212.74 607.00,211.63 607.50,212.82 608.00,212.82 608.50,212.26 609.00,212.88 609.50,212.30 610.00,211.28 610.50,212.46 611.00,211.99 611.50,212.04 612.00,211.89 612.50,212.59 613.00,212.12 613.50,211.39 614.00,212.08 614.50,212.22 615.00,211.37 615.50,211.54 616.00,211.57 616.50,211.44 617.00,211.99 617.50,212.38 618.00,212.89 618.50,212.48 619.00,212.38 619.50,212.45 620.00,212.56 620.50,211.57 621.00,212.19 621.50,211.97 622.00,211.71 622.50,211.52 623.00,211.49 623.50,211.63 624.00,211.07 624.50,212.08 625.00,211.77 625.50,211.84 626.00,211.98 626.50,212.20 627.00,211.44 627.50,211.72 628.00,210.85 628.50,210.49 629.00,210.65 629.50,212.66 630.00,210.72 630.50,212.05 631.00,212.63 631.50,211.51 632.00,212.71 632.50,212.84 633.00,212.32 633.50,213.14 634.00,212.13 634.50,211.35 635.00,212.07 635.50,211.51 636.00,211.02 636.50,211.03 637.00,213.10 637.50,211.46 638.00,211.75 638.50,211.39 639.00,211.85 639.50,211.63 640.00,211.53 640.50,211.07 641.00,210.95 641.50,211.34 642.00,211.93 642.50,212.96 643.00,212.37 643.50,212.81 644.00,212.04 644.50,211.71 645.00,211.00 645.50,211.77 646.00,210.53 646.50,211.59 647.00,212.70 647.50,211.95 648.00,212.41 648.50,211.54 649.00,210.97 649.50,211.49 650.00,211.53 650.50,212.45 651.00,212.89 651.50,211.34 652.00,211.55 652.50,211.68 653.00,211.56 653.50,211.05 654.00,211.81 654.50,211.96 655.00,211.98 655.50,211.07 656.00,211.69 656.50,210.76 657.00,212.28 657.50,211.17 658.00,211.60 658.50,211.50 659.00,211.42 659.50,211.15 660.00,210.75 660.50,212.74 661.00,211.90 661.50,211.90 662.00,212.94 662.50,211.69 663.00,212.06 663.50,211.76 664.00,212.42 664.50,212.03 665.00,211.93 665.50,211.60 666.00,211.90 666.50,212.40 667.00,210.57 667.50,211.67 668.00,211.51 668.50,211.57 669.00,210.62 669.50,212.16 670.00,211.26 670.50,211.61 671.00,211.45 671.50,210.79 672.00,211.49 672.50,210.70 673.00,211.20 673.50,211.56 674.00,211.73 674.50,211.77 675.00,211.66 675.50,212.94 676.00,211.98 676.50,211.04 677.00,211.39 677.50,211.36 678.00,211.63 678.50,211.39 679.00,211.25 679.50,212.66 680.00,211.75 680.50,211.54 681.00,211.58 681.50,211.60 682.00,212.51 682.50,211.99 683.00,212.36 683.50,209.97 684.00,211.91 684.50,212.32 685.00,212.83 685.50,211.74 686.00,210.76 686.50,212.05 687.00,211.38 687.50,210.72" fill="none" stroke="#000" stroke-width="5.4" stroke-linejoin="round" />
<polyline points="408.00,210.01 408.50,210.02 409.00,210.04 409.50,210.05 410.00,210.06 410.50,210.07 411.00,210.09 411.50,210.10 412.00,210.11 412.50,210.13 413.00,210.14 413.50,210.15 414.00,210.16 414.50,210.18 415.00,210.19 415.50,210.20 416.00,210.22 416.50,210.23 417.00,210.24 417.50,210.25 418.00,210.27 418.50,210.28 419.00,210.29 419.50,210.31 420.00,210.32 420.50,210.33 421.00,210.34 421.50,210.36 422.00,210.37 422.50,210.38 423.00,210.39 423.50,210.41 424.00,210.42 424.50,210.43 425.00,210.45 425.50,210.46 426.00,210.47 426.50,210.48 427.00,210.50 427.50,210.51 428.00,210.52 428.50,210.54 429.00,210.55 429.50,210.56 430.00,210.57 430.50,210.59 431.00,210.60 431.50,210.61 432.00,210.62 432.50,210.64 433.00,210.65 433.50,210.66 434.00,210.68 434.50,210.69 435.00,210.70 435.50,210.71 436.00,210.73 436.50,210.74 437.00,210.75 437.50,210.77 438.00,210.78 438.50,210.79 439.00,210.80 439.50,210.82 440.00,210.83 440.50,210.84 441.00,210.85 441.50,210.87 442.00,210.88 442.50,210.89 443.00,210.91 443.50,210.92 444.00,210.93 444.50,210.94 445.00,210.96 445.50,210.97 446.00,210.98 446.50,210.99 447.00,211.01 447.50,211.02 448.00,211.03 448.50,211.05 449.00,211.06 449.50,211.07 450.00,211.08 450.50,211.10 451.00,211.11 451.50,211.12 452.00,211.14 452.50,211.15 453.00,211.16 453.50,211.17 454.00,211.19 454.50,211.20 455.00,211.21 455.50,211.22 456.00,211.24 456.50,211.25 457.00,211.26 457.50,211.28 458.00,211.29 458.50,211.30 459.00,211.31 459.50,211.33 460.00,211.34 460.50,211.35 461.00,211.36 461.50,211.38 462.00,211.39 462.50,211.40 463.00,211.42 463.50,211.43 464.00,211.44 464.50,211.45 465.00,211.47 465.50,211.48 466.00,211.49 466.50,211.50 467.00,211.52 467.50,211.53 468.00,211.54 468.50,211.56 469.00,211.57 469.50,211.58 470.00,211.59 470.50,211.60 471.00,211.60 471.50,211.60 472.00,211.60 472.50,211.60 473.00,211.61 473.50,211.61 474.00,211.61 474.50,211.61 475.00,211.61 475.50,211.62 476.00,211.62 476.50,211.62 477.00,211.62 477.50,211.62 478.00,211.63 478.50,211.63 479.00,211.63 479.50,211.63 480.00,211.63 480.50,211.64 481.00,211.64 481.50,211.64 482.00,211.64 482.50,211.64 483.00,211.65 483.50,211.65 484.00,211.65 484.50,211.65 485.00,211.65 485.50,211.66 486.00,211.66 486.50,211.66 487.00,211.66 487.50,211.66 488.00,211.67 488.50,211.67 489.00,211.67 489.50,211.67 490.00,211.67 490.50,211.68 491.00,211.68 491.50,211.68 492.00,211.68 492.50,211.68 493.00,211.68 493.50,211.69 494.00,211.69 494.50,211.69 495.00,211.69 495.50,211.69 496.00,211.70 496.50,211.70 497.00,211.70 497.50,211.70 498.00,211.70 498.50,211.70 499.00,211.71 499.50,211.71 500.00,211.71 500.50,211.71 501.00,211.71 501.50,211.71 502.00,211.72 502.50,211.72 503.00,211.72 503.50,211.72 504.00,211.72 504.50,211.72 505.00,211.72 505.50,211.73 506.00,211.73 506.50,211.73 507.00,211.73 507.50,211.73 508.00,211.73 508.50,211.73 509.00,211.73 509.50,211.74 510.00,211.74 510.50,211.74 511.00,211.74 511.50,211.74 512.00,211.74 512.50,211.74 513.00,211.74 513.50,211.74 514.00,211.74 514.50,211.74 515.00,211.74 515.50,211.74 516.00,211.74 516.50,211.74 517.00,211.74 517.50,211.74 518.00,211.74 518.50,211.74 519.00,211.74 519.50,211.73 520.00,211.73 520.50,211.73 521.00,211.73 521.50,211.72 522.00,211.72 522.50,211.72 523.00,211.71 523.50,211.71 524.00,211.70 524.50,211.69 525.00,211.68 525.50,211.68 526.00,211.67 526.50,211.65 527.00,211.64 527.50,211.62 528.00,211.61 528.50,211.58 529.00,211.56 529.50,211.53 530.00,211.50 530.50,211.45 531.00,211.41 531.50,211.35 532.00,211.27 532.50,211.19 533.00,211.07 533.50,210.93 534.00,210.75 534.50,210.50 535.00,210.17 535.50,209.70 536.00,209.01 536.50,207.69 537.00,203.26 537.50,185.06 538.00,132.52 538.50,49.90 539.00,4.90 539.50,49.91 540.00,132.53 540.50,185.07 541.00,203.27 541.50,207.71 542.00,209.02 542.50,209.72 543.00,210.19 543.50,210.52 544.00,210.77 544.50,210.95 545.00,211.10 545.50,211.21 546.00,211.30 546.50,211.37 547.00,211.44 547.50,211.49 548.00,211.53 548.50,211.56 549.00,211.59 549.50,211.62 550.00,211.64 550.50,211.66 551.00,211.68 551.50,211.70 552.00,211.71 552.50,211.72 553.00,211.73 553.50,211.74 554.00,211.75 554.50,211.76 555.00,211.76 555.50,211.77 556.00,211.78 556.50,211.78 557.00,211.79 557.50,211.79 558.00,211.79 558.50,211.80 559.00,211.80 559.50,211.80 560.00,211.81 560.50,211.81 561.00,211.81 561.50,211.81 562.00,211.81 562.50,211.82 563.00,211.82 563.50,211.82 564.00,211.82 564.50,211.82 565.00,211.82 565.50,211.82 566.00,211.82 566.50,211.82 567.00,211.83 567.50,211.83 568.00,211.83 568.50,211.83 569.00,211.83 569.50,211.83 570.00,211.83 570.50,211.83 571.00,211.83 571.50,211.83 572.00,211.83 572.50,211.83 573.00,211.83 573.50,211.83 574.00,211.83 574.50,211.83 575.00,211.83 575.50,211.83 576.00,211.83 576.50,211.83 577.00,211.83 577.50,211.83 578.00,211.83 578.50,211.83 579.00,211.83 579.50,211.83 580.00,211.83 580.50,211.83 581.00,211.83 581.50,211.83 582.00,211.83 582.50,211.83 583.00,211.83 583.50,211.83 584.00,211.83 584.50,211.83 585.00,211.83 585.50,211.82 586.00,211.82 586.50,211.82 587.00,211.82 587.50,211.82 588.00,211.82 588.50,211.82 589.00,211.82 589.50,211.82 590.00,211.82 590.50,211.82 591.00,211.82 591.50,211.82 592.00,211.82 592.50,211.82 593.00,211.82 593.50,211.82 594.00,211.82 594.50,211.82 595.00,211.82 595.50,211.82 596.00,211.82 596.50,211.81 597.00,211.81 597.50,211.81 598.00,211.81 598.50,211.81 599.00,211.81 599.50,211.81 600.00,211.81 600.50,211.81 601.00,211.81 601.50,211.81 602.00,211.81 602.50,211.81 603.00,211.81 603.50,211.81 604.00,211.81 604.50,211.81 605.00,211.81 605.50,211.80 606.00,211.80 606.50,211.80 607.00,211.80 607.50,211.80 608.00,211.80 608.50,211.80 609.00,211.80 609.50,211.80 610.00,211.80 610.50,211.80 611.00,211.80 611.50,211.80 612.00,211.80 612.50,211.80 613.00,211.80 613.50,211.80 614.00,211.79 614.50,211.79 615.00,211.79 615.50,211.79 616.00,211.79 616.50,211.79 617.00,211.79 617.50,211.79 618.00,211.79 618.50,211.79 619.00,211.79 619.50,211.79 620.00,211.79 620.50,211.79 621.00,211.79 621.50,211.79 622.00,211.78 622.50,211.78 623.00,211.78 623.50,211.78 624.00,211.78 624.50,211.78 625.00,211.78 625.50,211.78 626.00,211.78 626.50,211.78 627.00,211.78 627.50,211.78 628.00,211.78 628.50,211.78 629.00,211.78 629.50,211.78 630.00,211.77 630.50,211.77 631.00,211.77 631.50,211.77 632.00,211.77 632.50,211.77 633.00,211.77 633.50,211.77 634.00,211.77 634.50,211.77 635.00,211.77 635.50,211.77 636.00,211.77 636.50,211.77 637.00,211.77 637.50,211.77 638.00,211.76 638.50,211.76 639.00,211.76 639.50,211.76 640.00,211.76 640.50,211.76 641.00,211.76 641.50,211.76 642.00,211.76 642.50,211.76 643.00,211.76 643.50,211.76 644.00,211.76 644.50,211.76 645.00,211.76 645.50,211.75 646.00,211.75 646.50,211.75 647.00,211.75 647.50,211.75 648.00,211.75 648.50,211.75 649.00,211.75 649.50,211.75 650.00,211.75 650.50,211.75 651.00,211.75 651.50,211.75 652.00,211.75 652.50,211.75 653.00,211.75 653.50,211.74 654.00,211.74 654.50,211.74 655.00,211.74 655.50,211.74 656.00,211.74 656.50,211.74 657.00,211.74 657.50,211.74 658.00,211.74 658.50,211.74 659.00,211.74 659.50,211.74 660.00,211.74 660.50,211.74 661.00,211.73 661.50,211.73 662.00,211.73 662.50,211.73 663.00,211.73 663.50,211.73 664.00,211.73 664.50,211.73 665.00,211.73 665.50,211.73 666.00,211.73 666.50,211.73 667.00,211.73 667.50,211.73 668.00,211.73 668.50,211.72 669.00,211.72 669.50,211.72 670.00,211.72 670.50,211.72 671.00,211.72 671.50,211.72 672.00,211.72 672.50,211.72 673.00,211.72 673.50,211.72 674.00,211.72 674.50,211.72 675.00,211.72 675.50,211.72 676.00,211.71 676.50,211.71 677.00,211.71 677.50,211.71 678.00,211.71 678.50,211.71 679.00,211.71 679.50,211.71 680.00,211.71 680.50,211.71 681.00,211.71 681.50,211.71 682.00,211.71 682.50,211.71 683.00,211.71 683.50,211.70 684.00,211.70 684.50,211.70 685.00,211.70 685.50,211.70 686.00,211.70 686.50,211.70 687.00,211.70 687.50,211.70" fill="none" stroke="#000" stroke-width="1.2" stroke-linejoin="round" />
<polyline points="538.80,8.40 538.80,190.00" fill="none" stroke="#000" stroke-width="1.2" stroke-linejoin="round" />
<polygon points="527,211 533,208 535.5,203 536,188 542.5,188 543,203 545,208 551,211" fill="#000"/>
<circle cx="538.9" cy="8.4" r="2.3" fill="#fff" stroke="#000" stroke-width="1"/>
<circle cx="538.9" cy="13.6" r="2.3" fill="#fff" stroke="#000" stroke-width="1"/>
<circle cx="538.9" cy="18" r="2.3" fill="#fff" stroke="#000" stroke-width="1"/>
<circle cx="538.9" cy="34.3" r="2.3" fill="#fff" stroke="#000" stroke-width="1"/>
<circle cx="538.9" cy="36.7" r="2.3" fill="#fff" stroke="#000" stroke-width="1"/>
<circle cx="538.9" cy="56.8" r="2.3" fill="#fff" stroke="#000" stroke-width="1"/>
<circle cx="538.9" cy="62.8" r="2.3" fill="#fff" stroke="#000" stroke-width="1"/>
<circle cx="538.9" cy="75.4" r="2.3" fill="#fff" stroke="#000" stroke-width="1"/>
<circle cx="538.6" cy="90.8" r="2.3" fill="#fff" stroke="#000" stroke-width="1"/>
<circle cx="537.6" cy="95" r="2.3" fill="#fff" stroke="#000" stroke-width="1"/>
<circle cx="538.9" cy="104.8" r="2.3" fill="#fff" stroke="#000" stroke-width="1"/>
<circle cx="539.3" cy="121.6" r="2.3" fill="#fff" stroke="#000" stroke-width="1"/>
<circle cx="538.9" cy="138.3" r="2.3" fill="#fff" stroke="#000" stroke-width="1"/>
<circle cx="538.6" cy="141" r="2.3" fill="#fff" stroke="#000" stroke-width="1"/>
<circle cx="539.2" cy="153.6" r="2.3" fill="#fff" stroke="#000" stroke-width="1"/>
<circle cx="539.4" cy="159.3" r="2.3" fill="#fff" stroke="#000" stroke-width="1"/>
<circle cx="538.8" cy="164.3" r="2.3" fill="#fff" stroke="#000" stroke-width="1"/>
<circle cx="539.2" cy="168.6" r="2.3" fill="#fff" stroke="#000" stroke-width="1"/>
<circle cx="539.8" cy="175" r="2.3" fill="#fff" stroke="#000" stroke-width="1"/>
<circle cx="538.6" cy="178.6" r="2.3" fill="#fff" stroke="#000" stroke-width="1"/>
<circle cx="540.8" cy="185.6" r="2.3" fill="#fff" stroke="#000" stroke-width="1"/>
<circle cx="538" cy="191" r="0.8" fill="#ddd"/>
<circle cx="540.5" cy="194" r="0.8" fill="#ddd"/>
<circle cx="538.2" cy="197.5" r="0.8" fill="#ddd"/>
<circle cx="540.6" cy="200.5" r="0.8" fill="#ddd"/>
<circle cx="538.4" cy="203.5" r="0.8" fill="#ddd"/>
<rect x="407.5" y="1.3" width="280.5" height="228.2" fill="none" stroke="#000" stroke-width="1.1"/>
<line x1="447.26" y1="229.50" x2="447.26" y2="234.50" stroke="#000" stroke-width="1.2"/>
<line x1="487.41" y1="229.50" x2="487.41" y2="232.50" stroke="#000" stroke-width="1.2"/>
<line x1="527.57" y1="229.50" x2="527.57" y2="234.50" stroke="#000" stroke-width="1.2"/>
<line x1="567.73" y1="229.50" x2="567.73" y2="232.50" stroke="#000" stroke-width="1.2"/>
<line x1="607.88" y1="229.50" x2="607.88" y2="234.50" stroke="#000" stroke-width="1.2"/>
<line x1="648.04" y1="229.50" x2="648.04" y2="232.50" stroke="#000" stroke-width="1.2"/>
<line x1="688.20" y1="229.50" x2="688.20" y2="234.50" stroke="#000" stroke-width="1.2"/>
<line x1="414.00" y1="15.00" x2="452.70" y2="15.00" stroke="#000" stroke-width="1.5"/>
<line x1="412.60" y1="33.80" x2="425.00" y2="33.80" stroke="#000" stroke-width="1.5"/>
<line x1="437.80" y1="33.80" x2="451.00" y2="33.80" stroke="#000" stroke-width="1.5"/>
<circle cx="431.5" cy="33.8" r="2.4" fill="#fff" stroke="#000" stroke-width="1"/>
<text transform="translate(10.91,7.37) scale(1.1332,1)" font-family="Liberation Serif" font-weight="bold" font-style="normal" font-size="8.15" fill="#000">35000</text>
<text transform="translate(10.91,31.22) scale(1.1332,1)" font-family="Liberation Serif" font-weight="bold" font-style="normal" font-size="8.15" fill="#000">31000</text>
<text transform="translate(10.91,55.07) scale(1.1332,1)" font-family="Liberation Serif" font-weight="bold" font-style="normal" font-size="8.15" fill="#000">27000</text>
<text transform="translate(10.91,78.92) scale(1.1332,1)" font-family="Liberation Serif" font-weight="bold" font-style="normal" font-size="8.15" fill="#000">23000</text>
<text transform="translate(10.46,102.77) scale(1.1555,1)" font-family="Liberation Serif" font-weight="bold" font-style="normal" font-size="8.15" fill="#000">19000</text>
<text transform="translate(10.46,126.62) scale(1.1555,1)" font-family="Liberation Serif" font-weight="bold" font-style="normal" font-size="8.15" fill="#000">15000</text>
<text transform="translate(10.45,150.47) scale(1.1828,1)" font-family="Liberation Serif" font-weight="bold" font-style="normal" font-size="8.15" fill="#000">11000</text>
<text transform="translate(15.26,174.32) scale(1.1498,1)" font-family="Liberation Serif" font-weight="bold" font-style="normal" font-size="8.15" fill="#000">7000</text>
<text transform="translate(15.41,198.17) scale(1.1406,1)" font-family="Liberation Serif" font-weight="bold" font-style="normal" font-size="8.15" fill="#000">3000</text>
<text transform="translate(36.55,258.26) scale(1.0707,1)" font-family="Liberation Serif" font-weight="bold" font-style="normal" font-size="9.02" fill="#000">15</text>
<text transform="translate(67.01,258.26) scale(1.0172,1)" font-family="Liberation Serif" font-weight="bold" font-style="normal" font-size="9.02" fill="#000">23</text>
<text transform="translate(97.01,258.26) scale(1.0344,1)" font-family="Liberation Serif" font-weight="bold" font-style="normal" font-size="9.02" fill="#000">31</text>
<text transform="translate(127.01,258.26) scale(1.0172,1)" font-family="Liberation Serif" font-weight="bold" font-style="normal" font-size="9.02" fill="#000">39</text>
<text transform="translate(157.30,258.40) scale(0.9467,1)" font-family="Liberation Serif" font-weight="bold" font-style="normal" font-size="9.23" fill="#000">47</text>
<text transform="translate(187.01,258.26) scale(0.9941,1)" font-family="Liberation Serif" font-weight="bold" font-style="normal" font-size="9.23" fill="#000">55</text>
<text transform="translate(217.01,258.26) scale(1.0172,1)" font-family="Liberation Serif" font-weight="bold" font-style="normal" font-size="9.02" fill="#000">63</text>
<text transform="translate(246.86,258.40) scale(1.0284,1)" font-family="Liberation Serif" font-weight="bold" font-style="normal" font-size="9.23" fill="#000">71</text>
<text transform="translate(276.86,258.26) scale(1.0344,1)" font-family="Liberation Serif" font-weight="bold" font-style="normal" font-size="9.02" fill="#000">79</text>
<text transform="translate(307.02,258.26) scale(1.0005,1)" font-family="Liberation Serif" font-weight="bold" font-style="normal" font-size="9.02" fill="#000">87</text>
<text transform="translate(337.16,258.26) scale(1.0005,1)" font-family="Liberation Serif" font-weight="bold" font-style="normal" font-size="9.02" fill="#000">95</text>
<text transform="translate(6.80,158.13) rotate(-90) scale(1.3125,1)" font-family="Liberation Serif" font-weight="bold" font-style="italic" font-size="8.24" fill="#000">Intensity (arb. units)</text>
<text transform="translate(234.20,270.41) scale(1.2416,1)" font-family="Liberation Serif" font-weight="normal" font-style="italic" font-size="9.55" fill="#000" stroke="#000" stroke-width="0.28">2θ (°)</text>
<text transform="translate(57.40,46.30) scale(0.7660,1)" font-family="Liberation Sans" font-weight="normal" font-style="normal" font-size="30.64" fill="#000" stroke="#000" stroke-width="1.44">(</text>
<text transform="translate(67.84,47.42) scale(0.7535,1)" font-family="Liberation Sans" font-weight="bold" font-style="normal" font-size="30.58" fill="#000" stroke="#000" stroke-width="0.27">a</text>
<text transform="translate(84.60,46.30) scale(0.8240,1)" font-family="Liberation Sans" font-weight="normal" font-style="normal" font-size="30.64" fill="#000" stroke="#000" stroke-width="1.33">)</text>
<text transform="translate(148.24,131.52) rotate(-90) scale(0.9772,1)" font-family="Liberation Sans" font-weight="normal" font-style="normal" font-size="19.93" fill="#000" stroke="#000" stroke-width="0.51">Intensity [a.u.]</text>
<text transform="translate(167.51,151.09) scale(0.9512,1)" font-family="Liberation Sans" font-weight="bold" font-style="normal" font-size="19.62" fill="#000">32</text>
<text transform="translate(209.71,151.09) scale(0.9512,1)" font-family="Liberation Sans" font-weight="bold" font-style="normal" font-size="19.62" fill="#000">33</text>
<text transform="translate(251.92,151.09) scale(0.9150,1)" font-family="Liberation Sans" font-weight="bold" font-style="normal" font-size="19.62" fill="#000">34</text>
<text transform="translate(294.01,151.09) scale(0.9512,1)" font-family="Liberation Sans" font-weight="bold" font-style="normal" font-size="19.62" fill="#000">35</text>
<text transform="translate(215.26,171.10) scale(1.0973,1)" font-family="Liberation Sans" font-weight="bold" font-style="normal" font-size="18.77" fill="#000">2</text>
<text transform="translate(226.93,170.88) scale(1.0519,1)" font-family="Liberation Sans" font-weight="bold" font-style="normal" font-size="14.40" fill="#000">θ</text>
<text transform="translate(240.28,171.23) scale(1.0039,1)" font-family="Liberation Sans" font-weight="normal" font-style="normal" font-size="19.51" fill="#000" stroke="#000" stroke-width="0.60">[0]</text>
<text transform="translate(278.60,21.05) scale(1.2717,1)" font-family="Liberation Sans" font-weight="bold" font-style="normal" font-size="9.88" fill="#000">x=0</text>
<text transform="translate(279.00,36.44) scale(1.2340,1)" font-family="Liberation Sans" font-weight="bold" font-style="normal" font-size="10.16" fill="#000">x=0.3</text>
<text transform="translate(457.63,20.15) scale(1.0566,1)" font-family="Liberation Sans" font-weight="bold" font-style="normal" font-size="16.28" fill="#000">STO</text>
<text transform="translate(455.97,38.60) scale(0.9760,1)" font-family="Liberation Sans" font-weight="bold" font-style="normal" font-size="16.92" fill="#000">MgO</text>
<text transform="translate(651.15,27.59) scale(0.9026,1)" font-family="Liberation Sans" font-weight="normal" font-style="normal" font-size="22.45" fill="#000" stroke="#000" stroke-width="0.66">(</text>
<text transform="translate(658.81,28.26) scale(0.8639,1)" font-family="Liberation Sans" font-weight="bold" font-style="normal" font-size="22.00" fill="#000">b</text>
<text transform="translate(672.70,27.59) scale(0.9026,1)" font-family="Liberation Sans" font-weight="normal" font-style="normal" font-size="22.45" fill="#000" stroke="#000" stroke-width="0.66">)</text>
<text transform="translate(454.98,130.08) rotate(-90) scale(1.4769,1)" font-family="Liberation Sans" font-weight="normal" font-style="normal" font-size="17.00" fill="#000" stroke="#000" stroke-width="0.27">(111)</text>
<text transform="translate(561.06,60.59) rotate(-90) scale(1.3626,1)" font-family="Liberation Sans" font-weight="normal" font-style="normal" font-size="17.10" fill="#000" stroke="#000" stroke-width="0.29">(122)</text>
<text transform="translate(603.53,103.45) rotate(-90) scale(0.8840,1)" font-family="Liberation Sans" font-weight="normal" font-style="normal" font-size="23.51" fill="#000" stroke="#000" stroke-width="0.79">STO</text>
<text transform="translate(390.37,182.02) rotate(-90) scale(1.1502,1)" font-family="Liberation Sans" font-weight="normal" font-style="normal" font-size="20.25" fill="#000" stroke="#000" stroke-width="0.43">Intensity [a.u.]</text>
<text transform="translate(434.20,255.63) scale(0.9897,1)" font-family="Liberation Sans" font-weight="normal" font-style="normal" font-size="23.79" fill="#000" stroke="#000" stroke-width="1.01">20</text>
<text transform="translate(514.64,255.63) scale(0.9687,1)" font-family="Liberation Sans" font-weight="normal" font-style="normal" font-size="23.79" fill="#000" stroke="#000" stroke-width="1.03">40</text>
<text transform="translate(594.27,255.63) scale(1.0099,1)" font-family="Liberation Sans" font-weight="normal" font-style="normal" font-size="23.79" fill="#000" stroke="#000" stroke-width="0.99">60</text>
<text transform="translate(675.06,255.63) scale(0.9949,1)" font-family="Liberation Sans" font-weight="normal" font-style="normal" font-size="23.79" fill="#000" stroke="#000" stroke-width="1.01">80</text>
<text transform="translate(519.27,281.50) scale(0.9972,1)" font-family="Liberation Sans" font-weight="bold" font-style="normal" font-size="23.47" fill="#000">2</text>
<text transform="translate(532.76,281.22) scale(1.1378,1)" font-family="Liberation Sans" font-weight="bold" font-style="normal" font-size="18.00" fill="#000">θ</text>
<text transform="translate(550.29,281.34) scale(0.9937,1)" font-family="Liberation Sans" font-weight="normal" font-style="normal" font-size="22.66" fill="#000" stroke="#000" stroke-width="0.60">[0]</text>
</svg>
</body></html>
